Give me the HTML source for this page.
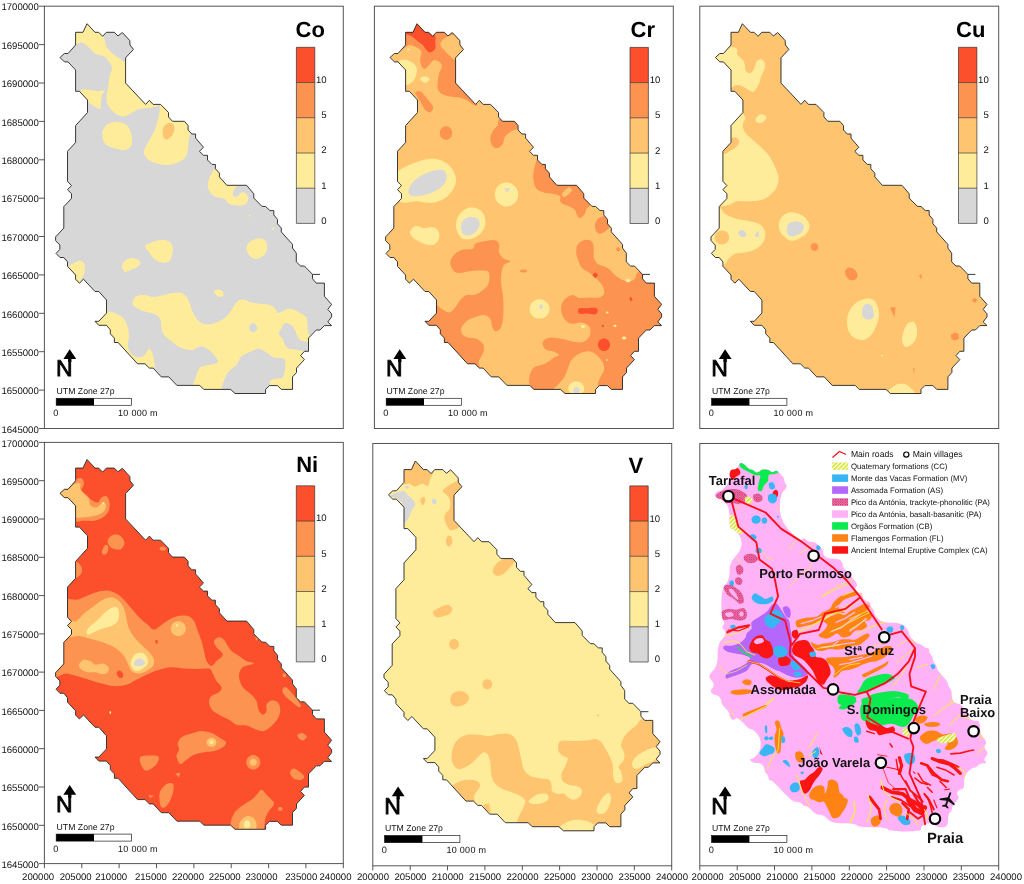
<!DOCTYPE html>
<html lang="en"><head><meta charset="utf-8"><title>Santiago Island geochemical maps</title>
<style>html,body{margin:0;padding:0;background:#fff}svg{display:block;font-family:"Liberation Sans",sans-serif}</style></head>
<body>
<svg width="1024" height="884" viewBox="0 0 1024 884" text-rendering="geometricPrecision">
<defs><clipPath id="isl"><path d="M60,57.5 64.4,53.5 68,53.5 75.6,45 75.6,32.3 83,32.3 87,23.7 95,32.3 98.7,32.3 102.7,36.3 106.3,32.3 114.4,32.3 118,36 122.3,32.5 129.8,40.6 130,45 133.5,49.4 125.6,57.8 125.6,83.1 145.6,104.4 149.4,100.3 153.1,104.4 160.6,104.4 168.5,112.5 168.5,116.9 172.5,121.3 184.4,121.3 188.1,125.6 188.1,130 191.9,134 195.6,134 195.6,138.1 203.5,147.3 199.4,151.3 203.5,155.3 207.5,155.3 207.5,160 211.9,164.4 215.4,164.4 215.4,168.8 219.4,173.1 219.4,176.9 226.9,185.3 246.6,185.3 253.8,193.8 253.8,198.1 261.9,206.3 265.6,206.5 270,210.6 273.8,210.6 273.8,215 277.5,219.4 277.5,223.8 281.3,228.1 281.3,231.9 292.5,244.4 292.5,248.1 296.3,253.1 296.3,261.9 300.6,266 304.4,266 312.5,274.4 312.5,278.8 316.3,283.1 324.4,283.1 324.4,296.3 331.6,304.4 327.8,309.4 331.6,313.8 331.6,316.9 327.8,321.9 331.6,325.6 324.4,325.6 320,330 316.3,330 308.5,338.1 308.5,351.3 304.4,351.3 300.6,355.6 304.4,359.6 296.5,368.1 296.5,372.5 292.5,376.9 292.5,389.4 281.3,389.4 277.5,385.6 269.4,385.6 265.6,389.4 265.6,393.5 235,393.5 230.6,389.4 203.8,389.4 199.8,385.4 176.9,385.4 168.8,376.9 161.3,376.9 153.1,368.1 149.4,368.1 145,363.8 137.5,363.8 118.1,342.5 114.4,342.5 114.4,338.1 110.3,333.8 110.3,329.8 106.5,325.3 98.8,325.3 95,321.3 98.8,321.3 106.5,313.1 106.5,300 98.8,291.5 95,291.5 83.5,279.2 79.4,283.2 75.6,279.2 75.6,275 67.5,266.3 67.5,261.9 63.8,257.5 60,257.5 56,253.4 59.8,249.4 59.8,245 55.6,240.6 55.6,236.9 63.8,228.1 63.8,206.6 71.5,198.5 71.5,193.8 67.5,189.6 71.5,185.6 67.5,181.3 67.5,151.3 75.6,142.5 75.6,125.6 87.5,112.5 87.5,100 79.4,91.3 75.6,91.3 75.6,70 68,61.9 64.4,61.9Z"/></clipPath>
<pattern id="hat" width="3" height="3" patternUnits="userSpaceOnUse" patternTransform="rotate(-45)"><rect width="3" height="3" fill="#fff"/><rect width="3" height="1.7" fill="#d4e62a"/></pattern>
<pattern id="tra" width="2.4" height="2.4" patternUnits="userSpaceOnUse"><rect width="2.4" height="2.4" fill="#f07fb4"/><rect width="1.2" height="1.2" fill="#d11f63"/><rect x="1.2" y="1.2" width="1.2" height="1.2" fill="#d94a84"/></pattern>
</defs>
<rect width="1024" height="884" fill="#fff"/>
<g transform="translate(0,0)"><rect x="44.4" y="6.2" width="298.9" height="422.3" fill="none" stroke="#555" stroke-width="1"/><path d="M44.4,6.2h-5.4M44.4,44.6h-5.4M44.4,83h-5.4M44.4,121.4h-5.4M44.4,159.8h-5.4M44.4,198.2h-5.4M44.4,236.5h-5.4M44.4,274.9h-5.4M44.4,313.3h-5.4M44.4,351.7h-5.4M44.4,390.1h-5.4M44.4,428.5h-5.4" stroke="#555" stroke-width="1" fill="none"/><g transform="translate(0,0)"><g clip-path="url(#isl)"><path d="M60,57.5 64.4,53.5 68,53.5 75.6,45 75.6,32.3 83,32.3 87,23.7 95,32.3 98.7,32.3 102.7,36.3 106.3,32.3 114.4,32.3 118,36 122.3,32.5 129.8,40.6 130,45 133.5,49.4 125.6,57.8 125.6,83.1 145.6,104.4 149.4,100.3 153.1,104.4 160.6,104.4 168.5,112.5 168.5,116.9 172.5,121.3 184.4,121.3 188.1,125.6 188.1,130 191.9,134 195.6,134 195.6,138.1 203.5,147.3 199.4,151.3 203.5,155.3 207.5,155.3 207.5,160 211.9,164.4 215.4,164.4 215.4,168.8 219.4,173.1 219.4,176.9 226.9,185.3 246.6,185.3 253.8,193.8 253.8,198.1 261.9,206.3 265.6,206.5 270,210.6 273.8,210.6 273.8,215 277.5,219.4 277.5,223.8 281.3,228.1 281.3,231.9 292.5,244.4 292.5,248.1 296.3,253.1 296.3,261.9 300.6,266 304.4,266 312.5,274.4 312.5,278.8 316.3,283.1 324.4,283.1 324.4,296.3 331.6,304.4 327.8,309.4 331.6,313.8 331.6,316.9 327.8,321.9 331.6,325.6 324.4,325.6 320,330 316.3,330 308.5,338.1 308.5,351.3 304.4,351.3 300.6,355.6 304.4,359.6 296.5,368.1 296.5,372.5 292.5,376.9 292.5,389.4 281.3,389.4 277.5,385.6 269.4,385.6 265.6,389.4 265.6,393.5 235,393.5 230.6,389.4 203.8,389.4 199.8,385.4 176.9,385.4 168.8,376.9 161.3,376.9 153.1,368.1 149.4,368.1 145,363.8 137.5,363.8 118.1,342.5 114.4,342.5 114.4,338.1 110.3,333.8 110.3,329.8 106.5,325.3 98.8,325.3 95,321.3 98.8,321.3 106.5,313.1 106.5,300 98.8,291.5 95,291.5 83.5,279.2 79.4,283.2 75.6,279.2 75.6,275 67.5,266.3 67.5,261.9 63.8,257.5 60,257.5 56,253.4 59.8,249.4 59.8,245 55.6,240.6 55.6,236.9 63.8,228.1 63.8,206.6 71.5,198.5 71.5,193.8 67.5,189.6 71.5,185.6 67.5,181.3 67.5,151.3 75.6,142.5 75.6,125.6 87.5,112.5 87.5,100 79.4,91.3 75.6,91.3 75.6,70 68,61.9 64.4,61.9Z" fill="#d7d7d7"/><path d="M69,20C79.4,15.9 124,13.3 134,20C144,26.7 130,49.6 129,60C128,70.4 123.2,75.3 127.8,82.5C132.3,89.7 152.1,98.9 156.5,103C160.9,107.1 155.7,106.2 154,107C152.3,107.8 149.2,107.6 146.5,108C143.8,108.4 140.2,108.7 137.8,109.5C135.2,110.3 133.6,111.9 131.5,113C129.4,114.1 127.3,115.8 125.2,116.2C123.2,116.7 121.1,116.3 119,115.5C116.9,114.7 114.6,113 112.8,111.2C110.9,109.5 108.8,107.1 107.8,105C106.7,102.9 106.6,100.8 106.5,98.8C106.4,96.7 106.9,94.8 107.2,92.5C107.6,90.2 108.1,87.7 108.5,85C108.9,82.3 108.9,79 109.5,76.2C110.1,73.5 112,71 112,68.8C112,66.5 110.8,64.6 109.5,62.5C108.2,60.4 106.4,57.7 104,56.2C101.6,54.8 97.8,55.2 95.2,53.8C92.8,52.3 91.3,49.4 89,47.5C86.7,45.6 84.4,43 81.5,42.5C78.6,42 73.6,48.2 71.5,44.5C69.4,40.8 58.6,24.1 69,20Z" fill="#ffec9b"/><path d="M105.2,27.5C101.3,30.4 104.8,39 105.2,42.5C105.7,46 106.5,46.9 107.8,48.8C109,50.6 110.9,52.2 112.8,53.8C114.6,55.3 116.5,56.6 119,58C121.5,59.4 124,63.8 127.8,62C131.5,60.2 141.3,53.7 141.5,47.5C141.7,41.3 135,28.3 129,25C123,21.7 109.2,24.6 105.2,27.5Z" fill="#d7d7d7"/><path d="M81.5,89.5C83,88.9 87.5,89.7 90.2,90C93,90.3 95.4,91.2 97.8,91.2C100.1,91.3 103.8,89.9 104.5,90.5C105.2,91.1 102.6,93.2 102,95C101.4,96.8 101.3,99 101,101.2C100.7,103.5 101.2,107.8 100.2,108.8C99.3,109.7 97.1,108 95.2,107C93.4,106 90.7,103.9 89,102.5C87.3,101.1 86.5,100.2 85.2,98.8C84,97.3 82.1,95.3 81.5,93.8C80.9,92.2 80,90.1 81.5,89.5Z" fill="#ffec9b"/><path d="M102.2,135C102.2,132.1 103.1,128.5 105.2,126.2C107.4,124 111.7,122 115.2,121.8C118.8,121.5 123.8,122.8 126.5,125C129.2,127.2 130.7,131.7 131.5,135C132.3,138.3 132.5,142.5 131.5,145C130.5,147.5 128.2,149.5 125.2,150C122.3,150.5 117.3,149 114,148C110.7,147 107.2,145.9 105.2,143.8C103.3,141.6 102.2,137.9 102.2,135Z" fill="#ffec9b"/><path d="M161,102.5C159.4,103.8 160,109.6 159.5,112.5C159,115.4 158.5,117.3 157.8,120C157,122.7 156.5,125.6 155.2,128.8C154,131.9 151.9,135.6 150.2,138.8C148.6,141.9 146.3,145 145.2,147.5C144.2,150 143.4,151.7 144,153.8C144.6,155.8 146.7,158.3 149,160C151.3,161.7 154.6,162.9 157.8,163.8C160.9,164.6 164.4,165.2 167.8,165C171.1,164.8 174.8,163.8 177.8,162.5C180.7,161.2 183.6,159.6 185.2,157.5C186.9,155.4 187.2,152.7 187.8,150C188.3,147.3 188.1,144 188.5,141.2C188.9,138.5 189.3,136 190.2,133.8C191.2,131.5 195,130.6 194,127.5C193,124.4 188.2,118.8 184,115C179.8,111.2 172.8,107.1 169,105C165.2,102.9 162.6,101.2 161,102.5Z" fill="#ffec9b"/><path d="M162.8,130C163,127.9 164,126.2 165.2,125C166.5,123.8 168.8,122.9 170.2,123C171.7,123.1 173.4,124.1 174,125.5C174.6,126.9 174.4,129.5 174,131.2C173.6,133 172.7,134.9 171.5,136.2C170.3,137.6 168.3,139.3 167,139.5C165.7,139.7 164.2,139.1 163.5,137.5C162.8,135.9 162.5,132.1 162.8,130Z" fill="#fec46f"/><path d="M216.5,167.5C214.6,167.7 211.7,173.3 210.2,176.2C208.8,179.2 207.8,182.3 207.8,185C207.8,187.7 208.8,190.5 210.2,192.5C211.7,194.5 214.2,196 216.5,197C218.8,198 221.9,197.6 224,198.8C226.1,199.9 227.3,202.7 229,203.8C230.7,204.8 231.9,204.7 234,205C236.1,205.3 239.4,205.8 241.5,205.5C243.6,205.2 245.4,204.3 246.5,203C247.6,201.7 248.5,199.2 248.2,197.5C248,195.8 246.4,193.8 245.2,193C244.1,192.2 242.8,192 241.5,192.5C240.2,193 239,195.6 237.8,196.2C236.5,196.9 234.8,196.9 234,196.2C233.2,195.6 232.5,193.9 232.8,192.5C233,191.1 234.4,189.5 235.2,188C236.1,186.5 238.8,184.7 237.8,183.8C236.7,182.8 231.7,184 229,182.5C226.3,181 223.6,177.5 221.5,175C219.4,172.5 218.4,167.3 216.5,167.5Z" fill="#ffec9b"/><path d="M250.8,215.5C250.8,215.7 250.7,215.9 250.6,216.1C250.4,216.2 250.2,216.4 250.1,216.5C249.9,216.5 249.6,216.5 249.4,216.5C249.3,216.4 249.1,216.2 248.9,216.1C248.8,215.9 248.8,215.7 248.8,215.5C248.8,215.3 248.8,215.1 248.9,214.9C249.1,214.8 249.3,214.6 249.4,214.5C249.6,214.5 249.9,214.5 250.1,214.5C250.2,214.6 250.4,214.8 250.6,214.9C250.7,215.1 250.8,215.3 250.8,215.5Z" fill="#ffec9b"/><path d="M274,228.8C274,229 273.9,229.3 273.8,229.5C273.6,229.7 273.4,229.9 273.1,229.9C272.9,230 272.6,230 272.4,229.9C272.1,229.9 271.9,229.7 271.7,229.5C271.6,229.3 271.5,229 271.5,228.8C271.5,228.5 271.6,228.2 271.7,228C271.9,227.8 272.1,227.6 272.4,227.6C272.6,227.5 272.9,227.5 273.1,227.6C273.4,227.6 273.6,227.8 273.8,228C273.9,228.2 274,228.5 274,228.8Z" fill="#ffec9b"/><path d="M69,266.2C69.8,264.8 73.2,263.4 75.2,262.5C77.2,261.6 79.5,260.3 81,260.8C82.5,261.2 83.9,263 84.5,265C85.1,267 85,270.2 84.5,272.5C84,274.8 82.4,276.8 81.5,278.8C80.6,280.7 80.2,284 79,284C77.8,284 75.5,280.9 74,278.8C72.5,276.6 71.1,273.3 70.2,271.2C69.4,269.2 68.2,267.7 69,266.2Z" fill="#ffec9b"/><path d="M145.2,246.2C145.6,244.6 149,243.5 151.5,242.5C154,241.5 157.3,240.2 160.2,240C163.2,239.8 166.9,240 169,241.2C171.1,242.5 172.2,245.2 172.8,247.5C173.2,249.8 172.6,252.7 172,255C171.4,257.3 170.8,260 169,261.2C167.2,262.5 164,262.9 161.5,262.5C159,262.1 156,260.4 154,258.8C152,257.1 151,254.6 149.5,252.5C148,250.4 144.9,247.9 145.2,246.2Z" fill="#ffec9b"/><path d="M122.2,265C122.8,263.5 124.2,261.2 126,260C127.8,258.8 130.7,258 132.8,258C134.8,258 137.2,259 138.5,260C139.8,261 140.6,262.5 140.2,263.8C139.9,265 138.2,266.5 136.5,267.5C134.8,268.5 132.1,269.2 130.2,270C128.4,270.8 126.5,272.2 125.2,272C124,271.8 123.2,269.9 122.8,268.8C122.2,267.6 121.7,266.5 122.2,265Z" fill="#ffec9b"/><path d="M246.5,248.8C246.4,246.6 247.3,244.2 249,242.5C250.7,240.8 254,239.2 256.5,238.8C259,238.2 262.2,238.5 264,239.5C265.8,240.5 266.7,242.8 267,245C267.3,247.2 266.9,250.5 266,252.5C265.1,254.5 263.3,256 261.5,257C259.7,258 257.2,259 255.2,258.8C253.2,258.5 251,257.2 249.5,255.5C248,253.8 246.6,250.9 246.5,248.8Z" fill="#ffec9b"/><path d="M214,291.2C214.2,290.3 216.4,289.5 217.8,289.5C219.1,289.5 221,290.3 222,291.2C223,292.2 223.8,294 223.5,295C223.2,296 221.4,297 220.2,297C219.1,297 217.5,296 216.5,295C215.5,294 213.8,292.2 214,291.2Z" fill="#ffec9b"/><path d="M132.8,301.2C133.2,299.6 134.6,297.3 136.5,296.2C138.4,295.2 141.1,294.9 144,295C146.9,295.1 150.7,297 154,297C157.3,297 160.9,295.7 164,295C167.1,294.3 169.8,293.3 172.8,293C175.7,292.7 179.1,292.2 181.5,293C183.9,293.8 185.5,295.5 187,297.5C188.5,299.5 189.2,302.3 190.2,305C191.3,307.7 192,311 193.5,313.8C195,316.5 196.8,319.5 199,321.2C201.2,323 203.6,324.3 206.5,324.5C209.4,324.7 213.4,323.7 216.5,322.5C219.6,321.3 222.8,319.6 225.2,317.5C227.8,315.4 229.6,312.5 231.5,310C233.4,307.5 234.6,304.2 236.5,302.5C238.4,300.8 240.2,299.5 242.8,299.5C245.2,299.5 248.4,301.8 251.5,302.5C254.6,303.2 258.4,303.3 261.5,303.8C264.6,304.2 268,304.2 270.2,305C272.5,305.8 274,307.4 275.2,308.8C276.5,310.1 276.5,312.6 277.8,313C279,313.4 280.7,312 282.5,311.3C284.3,310.6 286.7,309 288.8,308.8C290.9,308.6 292.9,309.2 295,310C297.1,310.8 299.4,312.6 301.3,313.8C303.2,315.1 305.3,315.6 306.3,317.5C307.3,319.4 307,322.1 307.5,325C308,327.9 307,332.5 309.4,335C311.8,337.5 319.9,335.5 322,340C324.1,344.5 325.3,351.7 322,362C318.7,372.3 314,395 302,402C290,409 267,404.3 250,404C233,403.7 210,402.3 200,400C190,397.7 191.2,392.9 190.2,390C189.2,387.1 193,385 194,382.5C195,380 195.5,377.5 196.5,375C197.5,372.5 198.2,369.2 200.2,367.5C202.3,365.8 206.1,365.8 209,365C211.9,364.2 216.7,364 217.8,362.5C218.8,361 216.7,358.3 215.2,356.2C213.8,354.2 211.3,351.7 209,350C206.7,348.3 204.4,346.2 201.5,346.2C198.6,346.2 195,349.8 191.5,350C188,350.2 183.6,349 180.2,347.5C176.9,346 174.2,343.3 171.5,341.2C168.8,339.2 165.7,337.3 164,335C162.3,332.7 162.1,330.2 161.5,327.5C160.9,324.8 161.5,321 160.2,318.8C159,316.5 156.7,315 154,313.8C151.3,312.5 147.3,312.5 144,311.2C140.7,310 135.9,307.9 134,306.2C132.1,304.6 132.3,302.9 132.8,301.2Z" fill="#ffec9b"/><path d="M222.8,392.5C219.6,389 224,381.2 225.2,377.5C226.5,373.8 228.4,372.1 230.2,370C232.1,367.9 234.6,367.3 236.5,365C238.4,362.7 239,358.5 241.5,356.2C244,354 248.6,352.5 251.5,351.2C254.4,350 256.5,348.5 259,348.8C261.5,349 264,351 266.5,352.5C269,354 271.1,356.5 274,357.5C276.9,358.5 282.1,357.1 284,358.8C285.9,360.4 285.5,364.4 285.2,367.5C285,370.6 284.2,375.6 282.8,377.5C281.3,379.4 278.6,378.1 276.5,378.8C274.4,379.4 271.7,379.2 270.2,381.2C268.8,383.3 272.1,388.3 267.8,391.2C263.4,394.2 251.5,398.5 244,398.8C236.5,399 225.9,396 222.8,392.5Z" fill="#d7d7d7"/><path d="M285,323.1C286.7,322.5 289.6,323.9 291.2,325C292.9,326.1 294,328.1 295,330C296,331.9 296.5,334.5 297.5,336.2C298.5,338 299.6,339.7 301.2,340.6C302.9,341.6 305.7,341.6 307.5,341.9C309.3,342.2 311.1,340.9 311.9,342.5C312.6,344.1 313,350 311.9,351.5C310.7,353 306.8,351.6 305,351.5C303.2,351.4 302.9,351 301.2,350.6C299.6,350.3 297.1,349.7 295,349.4C292.9,349.1 290.4,349.5 288.8,348.8C287.1,348 286,346.7 285,345C284,343.3 283.5,340.6 282.5,338.8C281.5,336.9 279,335.4 278.8,333.8C278.5,332.1 280.2,330.5 281.2,328.8C282.3,327 283.3,323.8 285,323.1Z" fill="#d7d7d7"/><path d="M249,326.9C249.5,325.6 251.8,323.1 253.1,323.1C254.5,323.1 256.7,325.6 257.2,326.9C257.8,328.1 256.9,329.7 256.2,330.6C255.6,331.5 254.2,332.2 253.1,332.2C252.1,332.2 250.7,331.5 250,330.6C249.3,329.7 248.5,328.1 249,326.9Z" fill="#d7d7d7"/><path d="M94,321.2C94.8,318.2 102.8,313.2 106.5,312C110.2,310.8 113.6,312.6 116.5,313.8C119.4,314.9 122.1,316.5 124,318.8C125.9,321 126.9,324.6 127.8,327.5C128.6,330.4 129,333.3 129,336.2C129,339.2 127.5,342.3 127.8,345C128,347.7 128.8,350.5 130.2,352.5C131.7,354.5 134.4,356.4 136.5,357C138.6,357.6 141.1,357 142.8,356.2C144.4,355.5 145.5,353.8 146.5,352.5C147.5,351.2 148.1,348.8 149,348.8C149.9,348.8 151.2,350.6 152,352.5C152.8,354.4 153.8,357.3 154,360C154.2,362.7 156,367.1 153.5,368.8C151,370.4 144.8,372.3 139,370C133.2,367.7 124,360 119,355C114,350 111.9,344.2 109,340C106.1,335.8 104,333.1 101.5,330C99,326.9 93.2,324.2 94,321.2Z" fill="#ffec9b"/></g><path d="M60,57.5 64.4,53.5 68,53.5 75.6,45 75.6,32.3 83,32.3 87,23.7 95,32.3 98.7,32.3 102.7,36.3 106.3,32.3 114.4,32.3 118,36 122.3,32.5 129.8,40.6 130,45 133.5,49.4 125.6,57.8 125.6,83.1 145.6,104.4 149.4,100.3 153.1,104.4 160.6,104.4 168.5,112.5 168.5,116.9 172.5,121.3 184.4,121.3 188.1,125.6 188.1,130 191.9,134 195.6,134 195.6,138.1 203.5,147.3 199.4,151.3 203.5,155.3 207.5,155.3 207.5,160 211.9,164.4 215.4,164.4 215.4,168.8 219.4,173.1 219.4,176.9 226.9,185.3 246.6,185.3 253.8,193.8 253.8,198.1 261.9,206.3 265.6,206.5 270,210.6 273.8,210.6 273.8,215 277.5,219.4 277.5,223.8 281.3,228.1 281.3,231.9 292.5,244.4 292.5,248.1 296.3,253.1 296.3,261.9 300.6,266 304.4,266 312.5,274.4 312.5,278.8 316.3,283.1 324.4,283.1 324.4,296.3 331.6,304.4 327.8,309.4 331.6,313.8 331.6,316.9 327.8,321.9 331.6,325.6 324.4,325.6 320,330 316.3,330 308.5,338.1 308.5,351.3 304.4,351.3 300.6,355.6 304.4,359.6 296.5,368.1 296.5,372.5 292.5,376.9 292.5,389.4 281.3,389.4 277.5,385.6 269.4,385.6 265.6,389.4 265.6,393.5 235,393.5 230.6,389.4 203.8,389.4 199.8,385.4 176.9,385.4 168.8,376.9 161.3,376.9 153.1,368.1 149.4,368.1 145,363.8 137.5,363.8 118.1,342.5 114.4,342.5 114.4,338.1 110.3,333.8 110.3,329.8 106.5,325.3 98.8,325.3 95,321.3 98.8,321.3 106.5,313.1 106.5,300 98.8,291.5 95,291.5 83.5,279.2 79.4,283.2 75.6,279.2 75.6,275 67.5,266.3 67.5,261.9 63.8,257.5 60,257.5 56,253.4 59.8,249.4 59.8,245 55.6,240.6 55.6,236.9 63.8,228.1 63.8,206.6 71.5,198.5 71.5,193.8 67.5,189.6 71.5,185.6 67.5,181.3 67.5,151.3 75.6,142.5 75.6,125.6 87.5,112.5 87.5,100 79.4,91.3 75.6,91.3 75.6,70 68,61.9 64.4,61.9ZM312.5,274.4H320" fill="none" stroke="#222" stroke-width="0.9" stroke-linejoin="miter"/><text x="55.9" y="376.3" font-size="23" fill="#000" stroke="#000" stroke-width="0.8">N</text><path d="M68.1,362V359H63.4L69.7,349.3L76.2,359H71.4V362Z" fill="#000"/><text x="56.6" y="394" font-size="8.7" fill="#111">UTM Zone 27p</text><rect x="56.2" y="398.3" width="75.3" height="7" fill="#fff" stroke="#222" stroke-width="0.7"/><rect x="56.2" y="398.3" width="37.8" height="7" fill="#000"/><text x="53.3" y="416" font-size="9.2" fill="#111">0</text><text x="118" y="416" font-size="9" fill="#111" textLength="39.6" lengthAdjust="spacing">10 000 m</text></g><rect x="296.4" y="47.3" width="18.4" height="35.2" fill="#fc4f2c"/><rect x="296.4" y="82.5" width="18.4" height="35.2" fill="#fd9350"/><rect x="296.4" y="117.7" width="18.4" height="35.2" fill="#fec46f"/><rect x="296.4" y="153" width="18.4" height="35.2" fill="#ffec9b"/><rect x="296.4" y="188.2" width="18.4" height="35.2" fill="#d7d7d7"/><path d="M296.4,47.3h18.4v176.1h-18.4zM296.4,82.5h18.4M296.4,117.7h18.4M296.4,153h18.4M296.4,188.2h18.4" fill="none" stroke="#2a2a2a" stroke-width="0.65"/><g font-size="9.6" text-anchor="end" fill="#111"><text x="326.7" y="83">10</text><text x="326.7" y="118.2">5</text><text x="326.7" y="153.4">2</text><text x="326.7" y="188.6">1</text><text x="326.7" y="223.8">0</text></g><text x="295.6" y="36.5" font-size="22" font-weight="bold" fill="#000">Co</text><g font-size="9.6" text-anchor="end" fill="#111"><text x="38.8" y="10.4">1700000</text><text x="38.8" y="48.8">1695000</text><text x="38.8" y="87.2">1690000</text><text x="38.8" y="125.6">1685000</text><text x="38.8" y="164">1680000</text><text x="38.8" y="202.4">1675000</text><text x="38.8" y="240.8">1670000</text><text x="38.8" y="279.2">1665000</text><text x="38.8" y="317.6">1660000</text><text x="38.8" y="356">1655000</text><text x="38.8" y="394.4">1650000</text><text x="38.8" y="432.8">1645000</text></g></g>
<g transform="translate(330,0)"><rect x="44.4" y="6.2" width="298.9" height="422.3" fill="none" stroke="#555" stroke-width="1"/><g transform="translate(0,0)"><g clip-path="url(#isl)"><path d="M60,57.5 64.4,53.5 68,53.5 75.6,45 75.6,32.3 83,32.3 87,23.7 95,32.3 98.7,32.3 102.7,36.3 106.3,32.3 114.4,32.3 118,36 122.3,32.5 129.8,40.6 130,45 133.5,49.4 125.6,57.8 125.6,83.1 145.6,104.4 149.4,100.3 153.1,104.4 160.6,104.4 168.5,112.5 168.5,116.9 172.5,121.3 184.4,121.3 188.1,125.6 188.1,130 191.9,134 195.6,134 195.6,138.1 203.5,147.3 199.4,151.3 203.5,155.3 207.5,155.3 207.5,160 211.9,164.4 215.4,164.4 215.4,168.8 219.4,173.1 219.4,176.9 226.9,185.3 246.6,185.3 253.8,193.8 253.8,198.1 261.9,206.3 265.6,206.5 270,210.6 273.8,210.6 273.8,215 277.5,219.4 277.5,223.8 281.3,228.1 281.3,231.9 292.5,244.4 292.5,248.1 296.3,253.1 296.3,261.9 300.6,266 304.4,266 312.5,274.4 312.5,278.8 316.3,283.1 324.4,283.1 324.4,296.3 331.6,304.4 327.8,309.4 331.6,313.8 331.6,316.9 327.8,321.9 331.6,325.6 324.4,325.6 320,330 316.3,330 308.5,338.1 308.5,351.3 304.4,351.3 300.6,355.6 304.4,359.6 296.5,368.1 296.5,372.5 292.5,376.9 292.5,389.4 281.3,389.4 277.5,385.6 269.4,385.6 265.6,389.4 265.6,393.5 235,393.5 230.6,389.4 203.8,389.4 199.8,385.4 176.9,385.4 168.8,376.9 161.3,376.9 153.1,368.1 149.4,368.1 145,363.8 137.5,363.8 118.1,342.5 114.4,342.5 114.4,338.1 110.3,333.8 110.3,329.8 106.5,325.3 98.8,325.3 95,321.3 98.8,321.3 106.5,313.1 106.5,300 98.8,291.5 95,291.5 83.5,279.2 79.4,283.2 75.6,279.2 75.6,275 67.5,266.3 67.5,261.9 63.8,257.5 60,257.5 56,253.4 59.8,249.4 59.8,245 55.6,240.6 55.6,236.9 63.8,228.1 63.8,206.6 71.5,198.5 71.5,193.8 67.5,189.6 71.5,185.6 67.5,181.3 67.5,151.3 75.6,142.5 75.6,125.6 87.5,112.5 87.5,100 79.4,91.3 75.6,91.3 75.6,70 68,61.9 64.4,61.9Z" fill="#fec46f"/><path d="M69,25C75.2,20.8 98.6,22.5 109,22.5C119.4,22.5 127.8,19.2 131.5,25C135.2,30.8 132.1,47.9 131.5,57.5C130.9,67.1 125.2,74.9 127.8,82.5C130.2,90.1 143.8,99.2 146.5,103C149.2,106.8 145.7,105.5 144,105C142.3,104.5 139,101.2 136.5,100C134,98.8 131.9,98.1 129,97.5C126.1,96.9 121.9,96.9 119,96.2C116.1,95.6 113.4,95 111.5,93.8C109.6,92.5 108.4,90.8 107.8,88.8C107.1,86.7 107.5,84 107.8,81.2C108,78.5 108.8,75 109.5,72.5C110.2,70 112,68 112,66.2C112,64.5 110.8,63 109.5,62C108.2,61 105.5,59.7 104,60C102.5,60.3 101.7,62.3 100.2,63.8C98.8,65.2 96.7,68.3 95.2,68.8C93.8,69.2 92.3,67.9 91.5,66.2C90.7,64.6 90.2,61 90.2,58.8C90.2,56.5 91.7,54.2 91.5,52.5C91.3,50.8 90.2,49.8 89,48.8C87.8,47.7 85.7,46.9 84,46.2C82.3,45.6 81.1,44.8 79,45C76.9,45.2 73.2,50.8 71.5,47.5C69.8,44.2 62.8,29.2 69,25Z" fill="#fd9350"/><path d="M74,32C75,29.7 82.8,22.2 87.8,22.5C92.8,22.8 101.1,30.4 104,33.8C106.9,37.1 105,40 105.2,42.5C105.5,45 106.1,47.1 105.2,48.8C104.4,50.4 101.7,52.3 100.2,52.5C98.8,52.7 97.8,51.2 96.5,50C95.2,48.8 94.2,46.5 92.8,45C91.3,43.5 89.6,42.7 87.8,41.2C85.9,39.8 83.8,37.8 81.5,36.2C79.2,34.7 73,34.3 74,32Z" fill="#fc4f2c"/><path d="M110.2,45C110,42.9 112.1,40.4 114,38.8C115.9,37.1 118.8,35.6 121.5,35C124.2,34.4 128,32.9 130.2,35C132.5,37.1 135.9,43.4 135.2,47.5C134.6,51.6 129,58 126.5,59.5C124,61 122.1,57.6 120.2,56.2C118.4,54.9 116.9,53.1 115.2,51.2C113.6,49.4 110.5,47.1 110.2,45Z" fill="#fec46f"/><path d="M69,61.2C69.5,59.6 74,59.6 76.5,60C79,60.4 82.2,62.1 84,63.8C85.8,65.4 86.8,67.7 87,70C87.2,72.3 86.2,75.4 85.2,77.5C84.3,79.6 83.2,81.2 81.5,82.5C79.8,83.8 76.6,85.4 75.2,85C73.9,84.6 73.8,82.5 73.5,80C73.2,77.5 74.2,73.1 73.5,70C72.8,66.9 68.5,62.9 69,61.2Z" fill="#ffec9b"/><path d="M90.2,78C90.8,77.2 93.7,76.1 95.2,76.2C96.8,76.4 99.3,77.7 99.5,78.8C99.7,79.8 97.8,82.1 96.5,82.5C95.2,82.9 93,82 92,81.2C91,80.5 89.7,78.8 90.2,78Z" fill="#ffec9b"/><path d="M80,49.5C80,49.7 79.9,49.9 79.7,50.1C79.5,50.2 79.2,50.4 79,50.5C78.7,50.5 78.3,50.5 78,50.5C77.8,50.4 77.5,50.2 77.3,50.1C77.1,49.9 77,49.7 77,49.5C77,49.3 77.1,49.1 77.3,48.9C77.5,48.8 77.8,48.6 78,48.5C78.3,48.5 78.7,48.5 79,48.5C79.2,48.6 79.5,48.8 79.7,48.9C79.9,49.1 80,49.3 80,49.5Z" fill="#ffec9b"/><path d="M85.2,92.5C85.7,91.5 88.6,90.6 90.2,91.2C91.9,91.9 93.6,94.4 95.2,96.2C96.9,98.1 98.9,100.6 100.2,102.5C101.6,104.4 103.2,105.8 103.2,107.5C103.2,109.2 101.6,112.1 100.2,112.5C98.9,112.9 96.7,111.5 95.2,110C93.8,108.5 92.8,105.8 91.5,103.8C90.2,101.7 88.8,99.4 87.8,97.5C86.7,95.6 84.8,93.5 85.2,92.5Z" fill="#fd9350"/><path d="M122.2,133C122.2,134.3 121.8,135.9 121.1,137C120.3,138 119.1,139 117.9,139.4C116.8,139.8 115.2,139.8 114.1,139.4C112.9,139 111.7,138 110.9,137C110.2,135.9 109.8,134.3 109.8,133C109.8,131.7 110.2,130.1 110.9,129C111.7,128 112.9,127 114.1,126.6C115.2,126.2 116.8,126.2 117.9,126.6C119.1,127 120.3,128 121.1,129C121.8,130.1 122.2,131.7 122.2,133Z" fill="#fd9350"/><path d="M170.2,118.8C173.6,117.9 184.6,118.5 187.8,120C190.9,121.5 190,125.6 189,127.5C188,129.4 183.8,129.8 181.5,131.2C179.2,132.7 176.7,134.2 175.2,136.2C173.8,138.3 174,141.8 172.8,143.8C171.5,145.7 169.4,147.6 167.8,148C166.1,148.4 164,147.8 162.8,146.2C161.5,144.7 160.2,141.2 160.2,138.8C160.2,136.2 161.5,133.5 162.8,131.2C164,129 166.5,127.1 167.8,125C169,122.9 166.9,119.6 170.2,118.8Z" fill="#fd9350"/><path d="M209,157.5C206.5,157.5 204.9,166.2 204,170C203.1,173.8 203.1,176.9 203.5,180C203.9,183.1 204.8,186.7 206.5,188.8C208.2,190.8 211.3,191.7 214,192.5C216.7,193.3 220,193.1 222.8,193.8C225.5,194.4 229,195.1 230.2,196.2C231.5,197.4 229.6,199.3 230,200.6C230.4,201.9 231,202.9 232.5,203.8C234,204.8 236.7,205.3 238.8,206.3C240.9,207.3 243.7,208.6 245,210C246.3,211.4 246.1,213.7 246.9,215C247.7,216.3 248.8,218.2 250,218.1C251.2,218 253.3,215.8 254.4,214.4C255.5,213 255.4,211 256.3,209.4C257.2,207.8 259.1,207.2 260,205C260.9,202.8 263.7,199.8 262,196C260.3,192.2 255.7,184.3 250,182C244.3,179.7 233.2,184 228,182C222.8,180 222.2,174.1 219,170C215.8,165.9 211.5,157.5 209,157.5Z" fill="#fd9350"/><path d="M231.9,193.8C232.5,192.2 237.1,188 238.8,187.5C240.5,187 242.5,189 241.9,190.6C241.3,192.2 236.7,196.4 235,196.9C233.3,197.4 231.3,195.4 231.9,193.8Z" fill="#fec46f"/><path d="M265,226.3C265.1,224.4 265.6,221.6 266.9,220C268.1,218.4 270.7,217.3 272.5,216.9C274.3,216.5 276.2,215.9 277.5,217.5C278.8,219.1 280.4,224 280,226.3C279.6,228.6 276.7,230.1 275,231.3C273.3,232.6 271.4,233.8 270,233.8C268.6,233.8 267.1,232.6 266.3,231.3C265.5,230.1 264.9,228.2 265,226.3Z" fill="#fd9350"/><path d="M65.2,175C67.1,170 72.5,168.5 76.5,166.2C80.5,164 84.4,162.5 89,161.2C93.6,160 99.6,158.5 104,158.8C108.4,159 112.1,160.6 115.2,162.5C118.4,164.4 121,167.1 122.8,170C124.5,172.9 126,176.7 126,180C126,183.3 124.8,186.9 122.8,190C120.8,193.1 117.5,196.6 114,198.8C110.5,200.9 106.1,202.6 101.5,203C96.9,203.4 91.1,201.3 86.5,201.2C81.9,201.2 77.5,203.3 74,202.5C70.5,201.7 66.7,200.8 65.2,196.2C63.8,191.7 63.4,180 65.2,175Z" fill="#ffec9b"/><path d="M78.5,191.2C78.7,189.4 79.5,186.2 81.5,183.8C83.5,181.2 86.9,178.3 90.2,176.2C93.6,174.2 97.8,172.3 101.5,171.2C105.2,170.2 110.2,169.4 112.8,170C115.2,170.6 116.1,172.9 116.5,175C116.9,177.1 116.5,180.2 115.2,182.5C114,184.8 111.7,186.9 109,188.8C106.3,190.6 102.5,192.5 99,193.8C95.5,195 90.9,196 87.8,196.2C84.6,196.5 81.8,195.8 80.2,195C78.7,194.2 78.3,193.1 78.5,191.2Z" fill="#d7d7d7"/><path d="M188.2,194.5C188.2,196.9 187.4,199.7 186,201.6C184.7,203.5 182.3,205.2 180.1,205.9C177.9,206.6 175.1,206.6 172.9,205.9C170.7,205.2 168.3,203.5 167,201.6C165.6,199.7 164.8,196.9 164.8,194.5C164.8,192.1 165.6,189.3 167,187.4C168.3,185.5 170.7,183.8 172.9,183.1C175.1,182.4 177.9,182.4 180.1,183.1C182.3,183.8 184.7,185.5 186,187.4C187.4,189.3 188.2,192.1 188.2,194.5Z" fill="#ffec9b"/><path d="M174,188.5 180.2,188 177.2,193Z" fill="#d7d7d7"/><path d="M126,225C126.2,222.1 127,217.8 129,215C131,212.2 134.6,209 137.8,208C140.9,207 145,207.6 147.8,208.8C150.5,209.9 152.8,212.3 154,215C155.2,217.7 155.9,221.9 155.2,225C154.6,228.1 152.5,231.5 150.2,233.8C148,236 144.4,237.9 141.5,238.8C138.6,239.6 135,239.8 132.8,238.8C130.5,237.7 128.9,234.8 127.8,232.5C126.6,230.2 125.8,227.9 126,225Z" fill="#ffec9b"/><path d="M131,226.2C131.1,224 132,221.5 133.5,220C135,218.5 137.9,217.2 140.2,217C142.6,216.8 146.2,217.4 147.8,218.8C149.3,220.1 149.7,222.9 149.5,225C149.3,227.1 148.2,229.5 146.5,231.2C144.8,233 141.3,235.1 139,235.5C136.7,235.9 134.1,235.3 132.8,233.8C131.4,232.2 130.9,228.5 131,226.2Z" fill="#d7d7d7"/><path d="M80.2,231.2C80.9,229.6 83,226.8 85.2,226.2C87.5,225.7 90.9,227.8 94,228C97.1,228.2 101.5,226.8 104,227.5C106.5,228.2 108.2,230.4 109,232.5C109.8,234.6 109.5,237.9 108.5,240C107.5,242.1 105.2,244.4 102.8,245C100.3,245.6 96.7,244.6 94,243.8C91.3,242.9 88.6,241.2 86.5,240C84.4,238.8 82.5,237.7 81.5,236.2C80.5,234.8 79.6,232.9 80.2,231.2Z" fill="#ffec9b"/><path d="M120.2,262.5C120.2,259.8 122.1,257.1 124,255C125.9,252.9 128.4,251 131.5,250C134.6,249 140.5,249.8 142.8,248.8C145,247.7 143.4,245 145.2,243.8C147.1,242.5 150.9,241.9 154,241.2C157.1,240.6 161.5,239.6 164,240C166.5,240.4 168.2,241.7 169,243.8C169.8,245.8 168.2,250 169,252.5C169.8,255 172.1,257.3 174,258.8C175.9,260.2 180.2,260.2 180.2,261.2C180.2,262.3 175.5,263.1 174,265C172.5,266.9 172,269.6 171.5,272.5C171,275.4 170.8,278.8 171,282.5C171.2,286.2 172.3,290.8 172.8,295C173.2,299.2 173.5,303.3 173.5,307.5C173.5,311.7 173.3,316.5 172.8,320C172.2,323.5 171.5,326.9 170.2,328.8C169,330.6 166.6,331.7 165.2,331.2C163.9,330.8 162.8,328.3 162,326.2C161.2,324.2 161.6,320.6 160.2,318.8C158.9,316.9 156.7,315.2 154,315C151.3,314.8 146.9,316.5 144,317.5C141.1,318.5 138.6,319.6 136.5,321.2C134.4,322.9 132.2,325.4 131.5,327.5C130.8,329.6 131,332.1 132,333.8C133,335.4 135.3,336.7 137.8,337.5C140.2,338.3 144,337.7 146.5,338.8C149,339.8 151.5,341.9 152.8,343.8C154,345.6 154.2,347.9 154,350C153.8,352.1 152.4,354.2 151.5,356.2C150.6,358.3 148.7,360 148.5,362.5C148.3,365 152.2,370 150.2,371.2C148.2,372.5 142.5,373.8 136.5,370C130.5,366.2 119,355 114,348.8C109,342.5 110.2,336.9 106.5,332.5C102.8,328.1 92,326 91.5,322.5C91,319 101.4,314.5 103.5,311.2C105.6,308 102.7,303.4 104,303C105.3,302.6 109,307.2 111.5,308.8C114,310.3 116.7,312.7 119,312.5C121.3,312.3 123.4,309.6 125.2,307.5C127.1,305.4 128.4,302.1 130.2,300C132.1,297.9 134.2,295.8 136.5,295C138.8,294.2 141.5,295.6 144,295C146.5,294.4 149.2,292.9 151.5,291.2C153.8,289.6 156.4,287.3 157.8,285C159.1,282.7 159.5,279.8 159.5,277.5C159.5,275.2 159.5,272.4 157.8,271.2C156,270.1 152.1,270.5 149,270.5C145.9,270.5 142.1,270.8 139,271.2C135.9,271.7 132.8,273 130.2,273C127.8,273 125.7,273 124,271.2C122.3,269.5 120.2,265.2 120.2,262.5Z" fill="#fd9350"/><path d="M246.3,253.8C246.2,251.7 246.1,248.4 246.9,246.3C247.7,244.2 249.5,242.4 251.3,241.3C253.1,240.2 255.6,239.6 257.5,239.8C259.4,240 261.4,240.8 262.5,242.5C263.6,244.2 263.6,247.5 263.8,250C264,252.5 263.2,255.2 263.8,257.5C264.4,259.8 265.8,262.3 267.5,263.8C269.2,265.3 271.9,265.5 273.8,266.3C275.7,267.1 276.9,267.4 278.8,268.8C280.7,270.2 282.7,273.1 285,275C287.3,276.9 290,278.9 292.5,280C295,281.1 297.9,281.5 300,281.3C302.1,281.1 303.3,280.5 305,278.8C306.7,277.1 305,272.5 310,271C315,269.5 329.2,265.2 335,270C340.8,274.8 344.2,290 345,300C345.8,310 344.5,322.5 340,330C335.5,337.5 322.7,339.2 318,345C313.3,350.8 315,356.2 312,365C309,373.8 307,391.8 300,398C293,404.2 282.5,401.3 270,402C257.5,402.7 236.7,403 225,402C213.3,401 203.9,398.2 200,396C196.1,393.8 201.7,391.1 201.5,388.8C201.3,386.6 199.2,385 199,382.5C198.8,380 199.5,376.3 200.3,373.8C201.1,371.3 202.1,369 204,367.5C205.9,366 209,366 211.5,365C214,364 216.9,362.6 219,361.3C221.1,360.1 222.3,358.6 224,357.5C225.7,356.4 229.2,356 229,355C228.8,354 224.9,352.1 222.8,351.3C220.7,350.5 218.2,351.1 216.5,350C214.8,348.9 213.2,346.7 212.8,345C212.4,343.3 212.6,341.2 214,340C215.4,338.8 218.6,337.7 221.5,337.5C224.4,337.3 228.2,338.2 231.5,338.8C234.8,339.4 238.4,340.7 241.5,341.3C244.6,341.9 247.8,342.7 250.3,342.5C252.8,342.3 254.8,341.4 256.5,340C258.2,338.6 259.9,336.1 260.3,333.8C260.7,331.5 260.5,328.2 259,326.3C257.5,324.4 254.4,322.9 251.5,322.5C248.6,322.1 244.2,324.2 241.5,323.8C238.8,323.4 237,321.9 235.3,320C233.6,318.1 232.1,315 231.5,312.5C230.9,310 230.9,307.3 231.5,305C232.1,302.7 233.4,300.5 235.3,298.8C237.2,297.1 240.5,295.1 242.8,295C245.1,294.9 246.3,297.6 249,298C251.7,298.4 255.7,297.6 259,297.5C262.3,297.4 266.5,298.1 269,297.5C271.5,296.9 273.4,295.7 274,293.8C274.6,291.9 274.1,288.8 272.8,286.3C271.6,283.8 268.8,281.1 266.5,278.8C264.2,276.5 261.5,274.4 259,272.5C256.5,270.6 253.4,269.8 251.5,267.5C249.6,265.2 248.7,261.1 247.8,258.8C246.9,256.5 246.5,255.9 246.3,253.8Z" fill="#fd9350"/><path d="M223,392C220.1,389.5 226,387.4 227.8,385C229.6,382.6 232.3,380.2 234,377.5C235.7,374.8 236.6,371.7 237.8,368.8C239.1,365.9 239.6,362.5 241.5,360C243.4,357.5 246.1,355.2 249,353.8C251.9,352.4 256.1,351.1 259,351.3C261.9,351.5 264.2,353.1 266.5,355C268.8,356.9 271.6,360 272.8,362.5C274.1,365 274.4,367.5 274,370C273.6,372.5 271.3,375.2 270.3,377.5C269.3,379.8 268.3,381.4 267.8,383.8C267.3,386.2 271.3,389.3 267.5,392C263.7,394.7 252.4,400 245,400C237.6,400 225.9,394.5 223,392Z" fill="#fec46f"/><path d="M265.2,225C265.6,222.9 267.3,219.3 269,218C270.7,216.7 273.8,216 275.2,217C276.7,218 277.5,221.6 277.8,223.8C278,225.9 277.5,228.5 276.5,230C275.5,231.5 273.1,232.9 271.5,233C269.9,233.1 268,231.8 267,230.5C266,229.2 264.9,227.1 265.2,225Z" fill="#fd9350"/><path d="M197,271C197,271.3 196.7,271.6 196.3,271.9C195.9,272.1 195.2,272.3 194.6,272.4C193.9,272.5 193.1,272.5 192.4,272.4C191.8,272.3 191.1,272.1 190.7,271.9C190.3,271.6 190,271.3 190,271C190,270.7 190.3,270.4 190.7,270.1C191.1,269.9 191.8,269.7 192.4,269.6C193.1,269.5 193.9,269.5 194.6,269.6C195.2,269.7 195.9,269.9 196.3,270.1C196.7,270.4 197,270.7 197,271Z" fill="#fd9350"/><path d="M290.2,249.5C290.2,249.8 290.1,250.3 289.9,250.5C289.6,250.8 289.2,251.1 288.9,251.2C288.5,251.3 288,251.3 287.6,251.2C287.3,251.1 286.9,250.8 286.6,250.5C286.4,250.3 286.2,249.8 286.2,249.5C286.2,249.2 286.4,248.7 286.6,248.5C286.9,248.2 287.3,247.9 287.6,247.8C288,247.7 288.5,247.7 288.9,247.8C289.2,247.9 289.6,248.2 289.9,248.5C290.1,248.7 290.2,249.2 290.2,249.5Z" fill="#fd9350"/><path d="M219.5,309C219.5,310.9 218.7,313.2 217.6,314.7C216.4,316.3 214.5,317.7 212.6,318.3C210.7,318.9 208.3,318.9 206.4,318.3C204.5,317.7 202.6,316.3 201.4,314.7C200.3,313.2 199.5,310.9 199.5,309C199.5,307.1 200.3,304.8 201.4,303.3C202.6,301.7 204.5,300.3 206.4,299.7C208.3,299.1 210.7,299.1 212.6,299.7C214.5,300.3 216.4,301.7 217.6,303.3C218.7,304.8 219.5,307.1 219.5,309Z" fill="#ffec9b"/><path d="M212.8,306.8C212.8,307.2 212.6,307.8 212.4,308.2C212.2,308.6 211.9,309 211.5,309.1C211.2,309.3 210.8,309.3 210.5,309.1C210.1,309 209.8,308.6 209.6,308.2C209.4,307.8 209.2,307.2 209.2,306.8C209.2,306.3 209.4,305.7 209.6,305.3C209.8,304.9 210.1,304.5 210.5,304.4C210.8,304.2 211.2,304.2 211.5,304.4C211.9,304.5 212.2,304.9 212.4,305.3C212.6,305.7 212.8,306.3 212.8,306.8Z" fill="#d7d7d7"/><path d="M248.1,310.6C248.3,309.8 248.6,308.5 250,308.1C251.4,307.7 254.2,308.4 256.3,308.3C258.4,308.2 260.7,307.8 262.5,307.8C264.3,307.8 266.1,307.8 266.9,308.5C267.7,309.2 267.8,310.9 267.5,311.9C267.2,312.9 266.7,314.1 265,314.4C263.3,314.7 259.8,313.7 257.5,313.6C255.2,313.5 252.8,314.1 251.3,314C249.8,313.9 249,313.4 248.5,312.8C248,312.2 247.8,311.4 248.1,310.6Z" fill="#fc4f2c"/><path d="M280,344.8C280,346 279.5,347.5 278.9,348.5C278.2,349.5 277,350.4 275.9,350.8C274.7,351.2 273.3,351.2 272.1,350.8C271,350.4 269.8,349.5 269.1,348.5C268.5,347.5 268,346 268,344.8C268,343.6 268.5,342.1 269.1,341.1C269.8,340.1 271,339.2 272.1,338.8C273.3,338.4 274.7,338.4 275.9,338.8C277,339.2 278.2,340.1 278.9,341.1C279.5,342.1 280,343.6 280,344.8Z" fill="#fc4f2c"/><path d="M299.4,298.8 300.6,296.3 302.8,300 300.6,301.5Z" fill="#fc4f2c"/><path d="M265.3,272.3 268.3,275.3 265.3,278.3 262.3,275.3Z" fill="#fc4f2c"/><path d="M274,325.9C274,326.1 273.9,326.4 273.8,326.6C273.6,326.8 273.4,327 273.2,327C272.9,327.1 272.7,327.1 272.4,327C272.2,327 272,326.8 271.8,326.6C271.7,326.4 271.6,326.1 271.6,325.9C271.6,325.7 271.7,325.4 271.8,325.2C272,325 272.2,324.8 272.4,324.8C272.7,324.7 272.9,324.7 273.2,324.8C273.4,324.8 273.6,325 273.8,325.2C273.9,325.4 274,325.7 274,325.9Z" fill="#fc4f2c"/><path d="M288.1,247.1 290.1,249.1 288.1,251.1 286.1,249.1Z" fill="#fd9350"/><path d="M278.6,312.5C278.6,312.7 278.5,312.9 278.4,313C278.2,313.2 277.9,313.3 277.7,313.4C277.5,313.4 277.1,313.4 276.9,313.4C276.7,313.3 276.4,313.2 276.2,313C276.1,312.9 276,312.7 276,312.5C276,312.3 276.1,312.1 276.2,312C276.4,311.8 276.7,311.7 276.9,311.6C277.1,311.6 277.5,311.6 277.7,311.6C277.9,311.7 278.2,311.8 278.4,312C278.5,312.1 278.6,312.3 278.6,312.5Z" fill="#ffec9b"/><path d="M286.6,325.9C286.6,326.1 286.5,326.4 286.3,326.6C286.1,326.7 285.8,326.9 285.5,327C285.2,327 284.8,327 284.5,327C284.2,326.9 283.9,326.7 283.7,326.6C283.5,326.4 283.4,326.1 283.4,325.9C283.4,325.7 283.5,325.4 283.7,325.2C283.9,325.1 284.2,324.9 284.5,324.8C284.8,324.8 285.2,324.8 285.5,324.8C285.8,324.9 286.1,325.1 286.3,325.2C286.5,325.4 286.6,325.7 286.6,325.9Z" fill="#ffec9b"/><path d="M296.3,338.1C296.3,338.4 296.1,338.8 295.9,339C295.6,339.2 295.2,339.5 294.8,339.6C294.4,339.7 293.8,339.7 293.4,339.6C293,339.5 292.6,339.2 292.3,339C292.1,338.8 291.9,338.4 291.9,338.1C291.9,337.8 292.1,337.4 292.3,337.2C292.6,337 293,336.7 293.4,336.6C293.8,336.5 294.4,336.5 294.8,336.6C295.2,336.7 295.6,337 295.9,337.2C296.1,337.4 296.3,337.8 296.3,338.1Z" fill="#ffec9b"/><path d="M255.3,326.5C255.3,326.8 255.1,327.2 254.9,327.4C254.6,327.6 254.2,327.9 253.8,328C253.4,328.1 252.8,328.1 252.4,328C252,327.9 251.6,327.6 251.3,327.4C251.1,327.2 250.9,326.8 250.9,326.5C250.9,326.2 251.1,325.8 251.3,325.6C251.6,325.4 252,325.1 252.4,325C252.8,324.9 253.4,324.9 253.8,325C254.2,325.1 254.6,325.4 254.9,325.6C255.1,325.8 255.3,326.2 255.3,326.5Z" fill="#ffec9b"/><path d="M277.9,360C277.9,360.1 277.8,360.3 277.7,360.4C277.6,360.5 277.4,360.6 277.2,360.7C277,360.7 276.8,360.7 276.6,360.7C276.4,360.6 276.2,360.5 276.1,360.4C276,360.3 275.9,360.1 275.9,360C275.9,359.9 276,359.7 276.1,359.6C276.2,359.5 276.4,359.4 276.6,359.3C276.8,359.3 277,359.3 277.2,359.3C277.4,359.4 277.6,359.5 277.7,359.6C277.8,359.7 277.9,359.9 277.9,360Z" fill="#ffec9b"/><path d="M300.5,280.6C300.5,280.9 300.3,281.4 300,281.6C299.7,281.9 299.2,282.2 298.8,282.3C298.3,282.4 297.7,282.4 297.2,282.3C296.8,282.2 296.3,281.9 296,281.6C295.7,281.4 295.5,280.9 295.5,280.6C295.5,280.3 295.7,279.8 296,279.6C296.3,279.3 296.8,279 297.2,278.9C297.7,278.8 298.3,278.8 298.8,278.9C299.2,279 299.7,279.3 300,279.6C300.3,279.8 300.5,280.3 300.5,280.6Z" fill="#ffec9b"/><path d="M254.3,388.5C254.3,389.9 253.7,391.5 252.8,392.6C251.9,393.7 250.3,394.7 248.8,395.2C247.3,395.6 245.3,395.6 243.8,395.2C242.3,394.7 240.7,393.7 239.8,392.6C238.9,391.5 238.3,389.9 238.3,388.5C238.3,387.1 238.9,385.5 239.8,384.4C240.7,383.3 242.3,382.3 243.8,381.8C245.3,381.4 247.3,381.4 248.8,381.8C250.3,382.3 251.9,383.3 252.8,384.4C253.7,385.5 254.3,387.1 254.3,388.5Z" fill="#ffec9b"/><path d="M249.8,390.5C249.8,391.2 249.6,392 249.2,392.6C248.8,393.1 248.2,393.6 247.6,393.8C247,394 246.2,394 245.6,393.8C245,393.6 244.4,393.1 244,392.6C243.6,392 243.4,391.2 243.4,390.5C243.4,389.8 243.6,389 244,388.4C244.4,387.9 245,387.4 245.6,387.2C246.2,387 247,387 247.6,387.2C248.2,387.4 248.8,387.9 249.2,388.4C249.6,389 249.8,389.8 249.8,390.5Z" fill="#d7d7d7"/></g><path d="M60,57.5 64.4,53.5 68,53.5 75.6,45 75.6,32.3 83,32.3 87,23.7 95,32.3 98.7,32.3 102.7,36.3 106.3,32.3 114.4,32.3 118,36 122.3,32.5 129.8,40.6 130,45 133.5,49.4 125.6,57.8 125.6,83.1 145.6,104.4 149.4,100.3 153.1,104.4 160.6,104.4 168.5,112.5 168.5,116.9 172.5,121.3 184.4,121.3 188.1,125.6 188.1,130 191.9,134 195.6,134 195.6,138.1 203.5,147.3 199.4,151.3 203.5,155.3 207.5,155.3 207.5,160 211.9,164.4 215.4,164.4 215.4,168.8 219.4,173.1 219.4,176.9 226.9,185.3 246.6,185.3 253.8,193.8 253.8,198.1 261.9,206.3 265.6,206.5 270,210.6 273.8,210.6 273.8,215 277.5,219.4 277.5,223.8 281.3,228.1 281.3,231.9 292.5,244.4 292.5,248.1 296.3,253.1 296.3,261.9 300.6,266 304.4,266 312.5,274.4 312.5,278.8 316.3,283.1 324.4,283.1 324.4,296.3 331.6,304.4 327.8,309.4 331.6,313.8 331.6,316.9 327.8,321.9 331.6,325.6 324.4,325.6 320,330 316.3,330 308.5,338.1 308.5,351.3 304.4,351.3 300.6,355.6 304.4,359.6 296.5,368.1 296.5,372.5 292.5,376.9 292.5,389.4 281.3,389.4 277.5,385.6 269.4,385.6 265.6,389.4 265.6,393.5 235,393.5 230.6,389.4 203.8,389.4 199.8,385.4 176.9,385.4 168.8,376.9 161.3,376.9 153.1,368.1 149.4,368.1 145,363.8 137.5,363.8 118.1,342.5 114.4,342.5 114.4,338.1 110.3,333.8 110.3,329.8 106.5,325.3 98.8,325.3 95,321.3 98.8,321.3 106.5,313.1 106.5,300 98.8,291.5 95,291.5 83.5,279.2 79.4,283.2 75.6,279.2 75.6,275 67.5,266.3 67.5,261.9 63.8,257.5 60,257.5 56,253.4 59.8,249.4 59.8,245 55.6,240.6 55.6,236.9 63.8,228.1 63.8,206.6 71.5,198.5 71.5,193.8 67.5,189.6 71.5,185.6 67.5,181.3 67.5,151.3 75.6,142.5 75.6,125.6 87.5,112.5 87.5,100 79.4,91.3 75.6,91.3 75.6,70 68,61.9 64.4,61.9ZM312.5,274.4H320" fill="none" stroke="#222" stroke-width="0.9" stroke-linejoin="miter"/><text x="55.9" y="376.3" font-size="23" fill="#000" stroke="#000" stroke-width="0.8">N</text><path d="M68.1,362V359H63.4L69.7,349.3L76.2,359H71.4V362Z" fill="#000"/><text x="56.6" y="394" font-size="8.7" fill="#111">UTM Zone 27p</text><rect x="56.2" y="398.3" width="75.3" height="7" fill="#fff" stroke="#222" stroke-width="0.7"/><rect x="56.2" y="398.3" width="37.8" height="7" fill="#000"/><text x="53.3" y="416" font-size="9.2" fill="#111">0</text><text x="118" y="416" font-size="9" fill="#111" textLength="39.6" lengthAdjust="spacing">10 000 m</text></g><rect x="300" y="47.4" width="18.4" height="35.2" fill="#fc4f2c"/><rect x="300" y="82.6" width="18.4" height="35.2" fill="#fd9350"/><rect x="300" y="117.8" width="18.4" height="35.2" fill="#fec46f"/><rect x="300" y="153.1" width="18.4" height="35.2" fill="#ffec9b"/><rect x="300" y="188.3" width="18.4" height="35.2" fill="#d7d7d7"/><path d="M300,47.4h18.4v176.1h-18.4zM300,82.6h18.4M300,117.8h18.4M300,153.1h18.4M300,188.3h18.4" fill="none" stroke="#2a2a2a" stroke-width="0.65"/><g font-size="9.6" text-anchor="end" fill="#111"><text x="330.3" y="83.1">10</text><text x="330.3" y="118.3">5</text><text x="330.3" y="153.5">2</text><text x="330.3" y="188.7">1</text><text x="330.3" y="223.9">0</text></g><text x="300.5" y="36.7" font-size="22" font-weight="bold" fill="#000">Cr</text></g>
<g transform="translate(655.4,0)"><rect x="44.4" y="6.2" width="298.9" height="422.3" fill="none" stroke="#555" stroke-width="1"/><g transform="translate(0,0)"><g clip-path="url(#isl)"><path d="M60,57.5 64.4,53.5 68,53.5 75.6,45 75.6,32.3 83,32.3 87,23.7 95,32.3 98.7,32.3 102.7,36.3 106.3,32.3 114.4,32.3 118,36 122.3,32.5 129.8,40.6 130,45 133.5,49.4 125.6,57.8 125.6,83.1 145.6,104.4 149.4,100.3 153.1,104.4 160.6,104.4 168.5,112.5 168.5,116.9 172.5,121.3 184.4,121.3 188.1,125.6 188.1,130 191.9,134 195.6,134 195.6,138.1 203.5,147.3 199.4,151.3 203.5,155.3 207.5,155.3 207.5,160 211.9,164.4 215.4,164.4 215.4,168.8 219.4,173.1 219.4,176.9 226.9,185.3 246.6,185.3 253.8,193.8 253.8,198.1 261.9,206.3 265.6,206.5 270,210.6 273.8,210.6 273.8,215 277.5,219.4 277.5,223.8 281.3,228.1 281.3,231.9 292.5,244.4 292.5,248.1 296.3,253.1 296.3,261.9 300.6,266 304.4,266 312.5,274.4 312.5,278.8 316.3,283.1 324.4,283.1 324.4,296.3 331.6,304.4 327.8,309.4 331.6,313.8 331.6,316.9 327.8,321.9 331.6,325.6 324.4,325.6 320,330 316.3,330 308.5,338.1 308.5,351.3 304.4,351.3 300.6,355.6 304.4,359.6 296.5,368.1 296.5,372.5 292.5,376.9 292.5,389.4 281.3,389.4 277.5,385.6 269.4,385.6 265.6,389.4 265.6,393.5 235,393.5 230.6,389.4 203.8,389.4 199.8,385.4 176.9,385.4 168.8,376.9 161.3,376.9 153.1,368.1 149.4,368.1 145,363.8 137.5,363.8 118.1,342.5 114.4,342.5 114.4,338.1 110.3,333.8 110.3,329.8 106.5,325.3 98.8,325.3 95,321.3 98.8,321.3 106.5,313.1 106.5,300 98.8,291.5 95,291.5 83.5,279.2 79.4,283.2 75.6,279.2 75.6,275 67.5,266.3 67.5,261.9 63.8,257.5 60,257.5 56,253.4 59.8,249.4 59.8,245 55.6,240.6 55.6,236.9 63.8,228.1 63.8,206.6 71.5,198.5 71.5,193.8 67.5,189.6 71.5,185.6 67.5,181.3 67.5,151.3 75.6,142.5 75.6,125.6 87.5,112.5 87.5,100 79.4,91.3 75.6,91.3 75.6,70 68,61.9 64.4,61.9Z" fill="#fec46f"/><path d="M58.4,57.5C58.7,55.9 62.7,53.4 64.6,52.5C66.5,51.6 67.9,52.7 69.6,51.9C71.3,51 72.9,48.2 74.6,47.5C76.3,46.8 78.3,47.1 79.6,47.5C80.8,47.9 81.8,49 82.1,50C82.4,51 81.1,52.5 81.5,53.8C81.9,55 83.5,56.2 84.6,57.5C85.7,58.8 87.5,59.8 88.3,61.2C89.2,62.7 89.3,64.7 89.6,66.2C89.9,67.8 89.6,69.5 90.2,70.6C90.8,71.8 92.2,73 93.3,73.1C94.5,73.2 96.1,72.4 97.1,71.2C98.1,70.1 99,67.8 99.6,66.2C100.2,64.7 100.1,63 100.8,61.9C101.6,60.7 102.8,59.6 104,59.4C105.1,59.2 106.8,59.7 107.7,60.6C108.7,61.6 109.5,63.2 109.6,65C109.7,66.8 109,69.4 108.3,71.2C107.7,73.1 106.6,74.4 105.8,76.2C105.1,78.1 104.8,80.4 104,82.5C103.1,84.6 101.9,87.2 100.8,88.8C99.8,90.3 99,91.7 97.7,91.9C96.5,92.1 94.9,90.8 93.3,90C91.8,89.2 90,87.7 88.3,86.9C86.7,86 84.8,85.2 83.3,85C81.9,84.8 80.7,85.2 79.6,85.6C78.5,86 77.6,87.1 76.5,87.5C75.3,87.9 73.3,91 72.7,88.1C72.1,85.2 73.7,74.3 72.7,70C71.8,65.7 68.8,63.9 67.1,62.5C65.4,61.1 64.2,62.7 62.7,61.9C61.3,61 58,59.1 58.4,57.5Z" fill="#ffec9b"/><path d="M100.3,118.8C100.9,117.4 103.3,115 104.8,114.5C106.4,114 108.9,114.8 109.8,115.5C110.8,116.2 111.1,117.6 110.6,118.8C110.1,119.9 108.1,121.9 106.6,122.5C105.1,123.1 102.6,123.1 101.6,122.5C100.6,121.9 99.8,120.1 100.3,118.8Z" fill="#ffec9b"/><path d="M82.3,111.2C85.5,110 89,115.2 89.8,117.5C90.7,119.8 87.3,122.5 87.3,125C87.3,127.5 88.2,130 89.8,132.5C91.5,135 94.4,137.3 97.3,140C100.3,142.7 104.4,145.8 107.3,148.8C110.3,151.7 112.8,154.4 114.8,157.5C116.9,160.6 118.5,164.2 119.8,167.5C121.2,170.8 122.9,174.2 123.1,177.5C123.3,180.8 122.5,184.6 121.1,187.5C119.7,190.4 117.3,192.9 114.8,195C112.3,197.1 109.6,199 106.1,200C102.6,201 97.8,201 93.6,201.2C89.4,201.5 84.4,200.6 81.1,201.2C77.8,201.9 76.3,204.5 73.6,205C70.9,205.5 66.7,207.8 64.8,204.5C63,201.2 62.8,194.1 62.4,185C61.9,175.9 60.9,160 62.4,150C63.8,140 67.8,131.5 71.1,125C74.4,118.5 79.2,112.5 82.3,111.2Z" fill="#ffec9b"/><path d="M75.6,138.8C78,137.5 79.3,137.1 80.6,137.5C81.9,137.9 83.4,139.8 83.6,141.2C83.8,142.7 82.8,144.8 81.6,146.2C80.3,147.7 78.3,148.8 76.1,150C73.9,151.2 70.3,154.6 68.6,153.8C66.9,152.9 64.9,147.5 66.1,145C67.3,142.5 73.2,140 75.6,138.8Z" fill="#fec46f"/><path d="M58.4,203.8C61.5,200.2 66.5,211.5 69.6,213.8C72.7,216 74.6,216.5 77.1,217.5C79.6,218.5 81.7,218.9 84.6,219.5C87.5,220.1 91.5,220.5 94.6,221.2C97.7,222 100.9,222.3 103.3,223.8C105.8,225.2 108.1,227.7 109.1,230C110.1,232.3 110.1,235 109.6,237.5C109.1,240 107.7,242.9 105.8,245C104,247.1 101.1,248.8 98.3,250C95.6,251.2 92.7,251.9 89.6,252.5C86.5,253.1 82.3,252.7 79.6,253.8C76.9,254.8 75.4,256.8 73.3,258.8C71.3,260.7 70.4,265.3 67.1,265.5C63.8,265.7 56.1,265.1 53.4,260C50.6,254.9 50,244.4 50.9,235C51.7,225.6 55.2,207.3 58.4,203.8Z" fill="#ffec9b"/><path d="M73.8,237.5C73.8,238.9 73.3,240.5 72.5,241.6C71.6,242.7 70.2,243.7 68.8,244.2C67.5,244.6 65.7,244.6 64.4,244.2C63,243.7 61.6,242.7 60.7,241.6C59.9,240.5 59.4,238.9 59.4,237.5C59.4,236.1 59.9,234.5 60.7,233.4C61.6,232.3 63,231.3 64.4,230.8C65.7,230.4 67.5,230.4 68.8,230.8C70.2,231.3 71.6,232.3 72.5,233.4C73.3,234.5 73.8,236.1 73.8,237.5Z" fill="#fec46f"/><path d="M82.6,232.5C82.8,231.5 85.2,229.9 86.6,230C88,230.1 90.3,231.8 90.8,233C91.3,234.2 90.6,236.5 89.6,237C88.6,237.5 86.3,237 85.1,236.2C83.9,235.5 82.3,233.5 82.6,232.5Z" fill="#d7d7d7"/><path d="M100.1,233.8C100.6,232.8 102.8,230.8 103.3,231.2C103.9,231.7 103.9,235.3 103.3,236.2C102.8,237.2 100.6,237.2 100.1,236.8C99.6,236.3 99.6,234.7 100.1,233.8Z" fill="#d7d7d7"/><path d="M123.3,225C123.6,222.7 124.2,219.6 125.8,217.5C127.5,215.4 130.4,213.1 133.3,212.5C136.3,211.9 140.4,212.7 143.3,213.8C146.3,214.8 149.1,216.7 150.8,218.8C152.6,220.8 154.1,223.8 154.1,226.2C154.1,228.8 152.6,231.7 150.8,233.8C149.1,235.8 145.8,237.6 143.3,238.8C140.8,239.9 138.3,241.2 135.8,240.8C133.3,240.3 130.2,237.8 128.3,236.2C126.5,234.7 125.4,233.1 124.6,231.2C123.8,229.4 123.1,227.3 123.3,225Z" fill="#ffec9b"/><path d="M131.3,230C131.5,228.2 131.8,225.2 133.3,223.8C134.9,222.3 138.6,221.2 140.8,221.2C143.1,221.2 145.8,222.5 147.1,223.8C148.3,225 148.8,227.1 148.3,228.8C147.9,230.4 146.5,232.5 144.6,233.8C142.7,235 139.1,236.1 137.1,236.2C135.1,236.4 133.6,235.5 132.6,234.5C131.6,233.5 131.2,231.8 131.3,230Z" fill="#d7d7d7"/><path d="M162.8,247C162.8,247.8 162.6,248.7 162.1,249.4C161.7,250 161,250.6 160.3,250.8C159.6,251 158.6,251 157.9,250.8C157.2,250.6 156.5,250 156.1,249.4C155.6,248.7 155.3,247.8 155.3,247C155.3,246.2 155.6,245.3 156.1,244.6C156.5,244 157.2,243.4 157.9,243.2C158.6,243 159.6,243 160.3,243.2C161,243.4 161.7,244 162.1,244.6C162.6,245.3 162.8,246.2 162.8,247Z" fill="#fd9350"/><path d="M189.6,271.2C190,269.8 191.8,267.8 193.3,267.5C194.9,267.2 197.6,268.2 199.1,269.5C200.6,270.8 201.9,273.3 202.1,275C202.3,276.7 201.3,278.7 200.1,279.5C198.8,280.3 196.1,280.5 194.6,280C193.1,279.5 191.7,277.7 190.8,276.2C190,274.8 189.2,272.7 189.6,271.2Z" fill="#fd9350"/><path d="M263.6,275 266.6,274.5 265.6,279.5Z" fill="#fd9350"/><path d="M234.6,307.5 240.1,307 239.1,317.5Z" fill="#fd9350"/><path d="M257.6,368 259.1,368 258.6,373.8Z" fill="#fd9350"/><path d="M295.4,335 299.1,332.5 303.1,333.8 303.6,338.8 299.6,340.5 296.1,339.2Z" fill="#fd9350"/><path d="M316.5,300.2 319.3,297.7 322,300.2 319.3,303Z" fill="#fd9350"/><path d="M191.6,322.5C191.6,319.4 192,315.6 193.3,312.5C194.7,309.4 196.9,306 199.6,303.8C202.3,301.5 206.5,299.4 209.6,298.8C212.7,298.1 216.2,298.5 218.3,300C220.5,301.5 221.8,304.6 222.6,307.5C223.4,310.4 223.8,314 223.3,317.5C222.8,321 221.1,325.6 219.6,328.8C218.1,331.9 216.7,334.4 214.6,336.2C212.5,338.1 209.8,339.8 207.1,340C204.4,340.2 200.6,339 198.3,337.5C196.1,336 194.5,333.8 193.3,331.2C192.2,328.8 191.6,325.6 191.6,322.5Z" fill="#ffec9b"/><path d="M206.6,312.5C206.6,310.4 207.2,307 208.3,305.5C209.5,304 211.9,303.4 213.3,303.8C214.8,304.1 216.3,305.4 217.1,307.5C217.9,309.6 218.8,314.2 218.3,316.2C217.9,318.2 216.3,319.2 214.6,319.5C212.9,319.8 209.7,319.2 208.3,318C207,316.8 206.6,314.6 206.6,312.5Z" fill="#d7d7d7"/><path d="M246.6,340C246.3,337.4 247.4,334 248.3,331.2C249.3,328.5 250.4,325.3 252.1,323.8C253.8,322.2 256.8,321.2 258.4,322C259.9,322.8 261.2,326.2 261.6,328.8C262,331.3 261.6,335 260.9,337.5C260.1,340 258.9,342.2 257.1,343.8C255.3,345.3 251.8,347.6 250.1,347C248.3,346.4 246.9,342.6 246.6,340Z" fill="#ffec9b"/><path d="M232.1,395C228.7,393.5 236.1,388.1 238.3,386.2C240.6,384.4 243.3,383.8 245.8,383.8C248.3,383.8 251.2,384.4 253.3,386.2C255.5,388.1 262.1,393.5 258.6,395C255.1,396.5 235.5,396.5 232.1,395Z" fill="#ffec9b"/><path d="M227.5,355.5C227.5,355.7 227.4,355.9 227.3,356C227.2,356.2 227,356.3 226.9,356.3C226.7,356.4 226.5,356.4 226.3,356.3C226.2,356.3 226,356.2 225.9,356C225.8,355.9 225.7,355.7 225.7,355.5C225.7,355.3 225.8,355.1 225.9,355C226,354.8 226.2,354.7 226.3,354.7C226.5,354.6 226.7,354.6 226.9,354.7C227,354.7 227.2,354.8 227.3,355C227.4,355.1 227.5,355.3 227.5,355.5Z" fill="#ffec9b"/></g><path d="M60,57.5 64.4,53.5 68,53.5 75.6,45 75.6,32.3 83,32.3 87,23.7 95,32.3 98.7,32.3 102.7,36.3 106.3,32.3 114.4,32.3 118,36 122.3,32.5 129.8,40.6 130,45 133.5,49.4 125.6,57.8 125.6,83.1 145.6,104.4 149.4,100.3 153.1,104.4 160.6,104.4 168.5,112.5 168.5,116.9 172.5,121.3 184.4,121.3 188.1,125.6 188.1,130 191.9,134 195.6,134 195.6,138.1 203.5,147.3 199.4,151.3 203.5,155.3 207.5,155.3 207.5,160 211.9,164.4 215.4,164.4 215.4,168.8 219.4,173.1 219.4,176.9 226.9,185.3 246.6,185.3 253.8,193.8 253.8,198.1 261.9,206.3 265.6,206.5 270,210.6 273.8,210.6 273.8,215 277.5,219.4 277.5,223.8 281.3,228.1 281.3,231.9 292.5,244.4 292.5,248.1 296.3,253.1 296.3,261.9 300.6,266 304.4,266 312.5,274.4 312.5,278.8 316.3,283.1 324.4,283.1 324.4,296.3 331.6,304.4 327.8,309.4 331.6,313.8 331.6,316.9 327.8,321.9 331.6,325.6 324.4,325.6 320,330 316.3,330 308.5,338.1 308.5,351.3 304.4,351.3 300.6,355.6 304.4,359.6 296.5,368.1 296.5,372.5 292.5,376.9 292.5,389.4 281.3,389.4 277.5,385.6 269.4,385.6 265.6,389.4 265.6,393.5 235,393.5 230.6,389.4 203.8,389.4 199.8,385.4 176.9,385.4 168.8,376.9 161.3,376.9 153.1,368.1 149.4,368.1 145,363.8 137.5,363.8 118.1,342.5 114.4,342.5 114.4,338.1 110.3,333.8 110.3,329.8 106.5,325.3 98.8,325.3 95,321.3 98.8,321.3 106.5,313.1 106.5,300 98.8,291.5 95,291.5 83.5,279.2 79.4,283.2 75.6,279.2 75.6,275 67.5,266.3 67.5,261.9 63.8,257.5 60,257.5 56,253.4 59.8,249.4 59.8,245 55.6,240.6 55.6,236.9 63.8,228.1 63.8,206.6 71.5,198.5 71.5,193.8 67.5,189.6 71.5,185.6 67.5,181.3 67.5,151.3 75.6,142.5 75.6,125.6 87.5,112.5 87.5,100 79.4,91.3 75.6,91.3 75.6,70 68,61.9 64.4,61.9ZM312.5,274.4H320" fill="none" stroke="#222" stroke-width="0.9" stroke-linejoin="miter"/><text x="55.9" y="376.3" font-size="23" fill="#000" stroke="#000" stroke-width="0.8">N</text><path d="M68.1,362V359H63.4L69.7,349.3L76.2,359H71.4V362Z" fill="#000"/><text x="56.6" y="394" font-size="8.7" fill="#111">UTM Zone 27p</text><rect x="56.2" y="398.3" width="75.3" height="7" fill="#fff" stroke="#222" stroke-width="0.7"/><rect x="56.2" y="398.3" width="37.8" height="7" fill="#000"/><text x="53.3" y="416" font-size="9.2" fill="#111">0</text><text x="118" y="416" font-size="9" fill="#111" textLength="39.6" lengthAdjust="spacing">10 000 m</text></g><rect x="303.1" y="47.3" width="18.4" height="35.2" fill="#fc4f2c"/><rect x="303.1" y="82.5" width="18.4" height="35.2" fill="#fd9350"/><rect x="303.1" y="117.7" width="18.4" height="35.2" fill="#fec46f"/><rect x="303.1" y="153" width="18.4" height="35.2" fill="#ffec9b"/><rect x="303.1" y="188.2" width="18.4" height="35.2" fill="#d7d7d7"/><path d="M303.1,47.3h18.4v176.1h-18.4zM303.1,82.5h18.4M303.1,117.7h18.4M303.1,153h18.4M303.1,188.2h18.4" fill="none" stroke="#2a2a2a" stroke-width="0.65"/><g font-size="9.6" text-anchor="end" fill="#111"><text x="333.4" y="83">10</text><text x="333.4" y="118.2">5</text><text x="333.4" y="153.4">2</text><text x="333.4" y="188.6">1</text><text x="333.4" y="223.8">0</text></g><text x="300.7" y="36.6" font-size="22" font-weight="bold" fill="#000">Cu</text></g>
<g transform="translate(0,436.2)"><rect x="44.4" y="6.2" width="298.9" height="421.2" fill="none" stroke="#555" stroke-width="1"/><path d="M44.4,6.2h-5.4M44.4,44.5h-5.4M44.4,82.8h-5.4M44.4,121.1h-5.4M44.4,159.4h-5.4M44.4,197.7h-5.4M44.4,235.9h-5.4M44.4,274.2h-5.4M44.4,312.5h-5.4M44.4,350.8h-5.4M44.4,389.1h-5.4M44.4,427.4h-5.4M44.4,427.4v4.6M81.8,427.4v4.6M119.1,427.4v4.6M156.5,427.4v4.6M193.9,427.4v4.6M231.2,427.4v4.6M268.6,427.4v4.6M305.9,427.4v4.6M343.3,427.4v4.6" stroke="#555" stroke-width="1" fill="none"/><g transform="translate(0,-0.4)"><g clip-path="url(#isl)"><path d="M60,57.5 64.4,53.5 68,53.5 75.6,45 75.6,32.3 83,32.3 87,23.7 95,32.3 98.7,32.3 102.7,36.3 106.3,32.3 114.4,32.3 118,36 122.3,32.5 129.8,40.6 130,45 133.5,49.4 125.6,57.8 125.6,83.1 145.6,104.4 149.4,100.3 153.1,104.4 160.6,104.4 168.5,112.5 168.5,116.9 172.5,121.3 184.4,121.3 188.1,125.6 188.1,130 191.9,134 195.6,134 195.6,138.1 203.5,147.3 199.4,151.3 203.5,155.3 207.5,155.3 207.5,160 211.9,164.4 215.4,164.4 215.4,168.8 219.4,173.1 219.4,176.9 226.9,185.3 246.6,185.3 253.8,193.8 253.8,198.1 261.9,206.3 265.6,206.5 270,210.6 273.8,210.6 273.8,215 277.5,219.4 277.5,223.8 281.3,228.1 281.3,231.9 292.5,244.4 292.5,248.1 296.3,253.1 296.3,261.9 300.6,266 304.4,266 312.5,274.4 312.5,278.8 316.3,283.1 324.4,283.1 324.4,296.3 331.6,304.4 327.8,309.4 331.6,313.8 331.6,316.9 327.8,321.9 331.6,325.6 324.4,325.6 320,330 316.3,330 308.5,338.1 308.5,351.3 304.4,351.3 300.6,355.6 304.4,359.6 296.5,368.1 296.5,372.5 292.5,376.9 292.5,389.4 281.3,389.4 277.5,385.6 269.4,385.6 265.6,389.4 265.6,393.5 235,393.5 230.6,389.4 203.8,389.4 199.8,385.4 176.9,385.4 168.8,376.9 161.3,376.9 153.1,368.1 149.4,368.1 145,363.8 137.5,363.8 118.1,342.5 114.4,342.5 114.4,338.1 110.3,333.8 110.3,329.8 106.5,325.3 98.8,325.3 95,321.3 98.8,321.3 106.5,313.1 106.5,300 98.8,291.5 95,291.5 83.5,279.2 79.4,283.2 75.6,279.2 75.6,275 67.5,266.3 67.5,261.9 63.8,257.5 60,257.5 56,253.4 59.8,249.4 59.8,245 55.6,240.6 55.6,236.9 63.8,228.1 63.8,206.6 71.5,198.5 71.5,193.8 67.5,189.6 71.5,185.6 67.5,181.3 67.5,151.3 75.6,142.5 75.6,125.6 87.5,112.5 87.5,100 79.4,91.3 75.6,91.3 75.6,70 68,61.9 64.4,61.9Z" fill="#fc4f2c"/><path d="M56.5,57.9C56.9,55.6 65.9,52.7 69,50.4C72.1,48.1 73.2,45.5 75.2,44.1C77.3,42.8 80,41.8 81.5,42.4C83,43 84,45.9 84,47.9C84,49.9 81.1,52.3 81.5,54.1C81.9,56 84.8,57.5 86.5,59.1C88.2,60.8 89.6,62.9 91.5,64.2C93.4,65.4 96.1,67.1 97.8,66.7C99.4,66.2 100,62.7 101.5,61.6C103,60.6 105.2,59.6 106.5,60.4C107.8,61.2 109.2,64.2 109.5,66.7C109.8,69.2 109.6,72.9 108.5,75.4C107.4,77.9 105.2,80.1 102.8,81.7C100.3,83.2 97.1,84.4 94,84.9C90.9,85.4 87.3,84.9 84,84.9C80.7,84.9 75.9,86.7 74,84.7C72.1,82.7 74,76.3 72.8,72.9C71.5,69.5 69.2,66.7 66.5,64.2C63.8,61.7 56.1,60.2 56.5,57.9Z" fill="#fd9350"/><path d="M57.8,57.9C57.5,56.1 64.8,54.6 67.8,52.9C70.7,51.2 73.2,48.7 75.2,47.9C77.3,47.1 79.4,47.1 80.2,47.9C81.1,48.7 79.6,51.2 80.2,52.9C80.9,54.6 82.5,56.2 84,57.9C85.5,59.6 88,61 89,62.9C90,64.8 89,67.7 90.2,69.2C91.5,70.6 94.4,72.1 96.5,71.7C98.6,71.2 101.2,67.1 102.8,66.7C104.3,66.2 105.8,67.7 106,69.2C106.2,70.6 105.4,73.7 104,75.4C102.6,77.1 100.2,78.2 97.8,79.2C95.2,80.1 91.7,80.5 89,80.9C86.3,81.3 84,81.7 81.5,81.7C79,81.7 75.3,82.8 74,80.9C72.7,79 74.3,73.3 73.5,70.4C72.7,67.5 71.6,65.5 69,63.4C66.4,61.3 58,59.6 57.8,57.9Z" fill="#fec46f"/><path d="M104.2,67.2C104.2,67.3 104.2,67.6 104.1,67.7C103.9,67.9 103.7,68 103.6,68.1C103.4,68.2 103.1,68.2 102.9,68.1C102.8,68 102.6,67.9 102.4,67.7C102.3,67.6 102.2,67.3 102.2,67.2C102.2,67 102.3,66.7 102.4,66.6C102.6,66.4 102.8,66.3 102.9,66.2C103.1,66.1 103.4,66.1 103.6,66.2C103.7,66.3 103.9,66.4 104.1,66.6C104.2,66.7 104.2,67 104.2,67.2Z" fill="#ffec9b"/><path d="M107.8,104.2C108.3,102.3 110.7,99.9 112.8,99.2C114.8,98.4 118.3,98.7 120.2,99.9C122.2,101.2 124.3,104.5 124.5,106.7C124.7,108.8 123,111.8 121.5,112.9C120,114 117.2,113.8 115.2,113.4C113.2,113 110.8,111.9 109.5,110.4C108.2,108.9 107.2,106 107.8,104.2Z" fill="#fd9350"/><path d="M102,115.4C102.4,113.9 104.2,109.8 105.2,109.2C106.3,108.5 108.3,110.2 108.5,111.7C108.7,113.1 107.5,116.8 106.5,117.9C105.5,119 103.5,118.8 102.8,118.4C102,118 101.6,116.9 102,115.4Z" fill="#fd9350"/><path d="M166,112.9C166,113.3 165.8,113.8 165.4,114.1C165,114.4 164.4,114.7 163.8,114.8C163.1,114.9 162.4,114.9 161.7,114.8C161.1,114.7 160.5,114.4 160.1,114.1C159.7,113.8 159.5,113.3 159.5,112.9C159.5,112.5 159.7,112 160.1,111.7C160.5,111.4 161.1,111.1 161.7,111C162.4,110.9 163.1,110.9 163.8,111C164.4,111.1 165,111.4 165.4,111.7C165.8,112 166,112.5 166,112.9Z" fill="#fd9350"/><path d="M72.8,125.9C73.8,123.5 77.5,126.7 79,127.9C80.5,129.1 81.8,131 82,132.9C82.2,134.8 81.8,137.6 80.2,139.2C78.7,140.7 74,144.6 72.8,142.4C71.5,140.2 71.7,128.3 72.8,125.9Z" fill="#fd9350"/><path d="M50,163C52.9,150.8 60.9,162.6 65.3,162.8C69.7,163 73,164.4 76.5,164C80,163.6 83.2,161.6 86.5,160.3C89.8,159.1 93.2,157.4 96.5,156.5C99.8,155.6 103.2,154.6 106.5,154.8C109.8,155 113.6,156.3 116.5,157.8C119.4,159.3 121.5,161.5 124,164C126.5,166.5 128.8,169.7 131.5,172.8C134.2,175.9 137.6,180.1 140.3,182.8C143,185.5 145.5,187.1 147.8,189C150.1,190.9 151.7,194 154,194C156.3,194 159,190.7 161.5,189C164,187.3 166.3,185.4 169,184C171.7,182.6 174.7,180.9 177.8,180.3C180.9,179.7 185.1,179.5 187.8,180.3C190.5,181.1 192.3,182.8 194,185.3C195.7,187.8 196.6,192 197.8,195.3C199.1,198.6 200.5,202 201.5,205.3C202.5,208.6 203.2,212 204,215.3C204.8,218.6 205.2,222.8 206.5,225.3C207.8,227.8 209.8,230.3 211.5,230.3C213.2,230.3 214.6,227.2 216.5,225.3C218.4,223.4 222.8,221.3 222.8,219C222.8,216.7 218,213.8 216.5,211.5C215,209.2 213.6,207 214,205.3C214.4,203.6 217.3,201.7 219,201.5C220.7,201.3 222.5,202.5 224,204C225.5,205.5 226.6,208.4 227.8,210.3C229.1,212.2 229.6,213.6 231.5,215.3C233.4,217 236.5,218.6 239,220.3C241.5,222 244,224.1 246.5,225.3C249,226.6 254.6,226.8 254,227.8C253.4,228.8 245.3,229.6 242.8,231.5C240.3,233.4 239.4,236.5 239,239C238.6,241.5 239.5,244.2 240.3,246.5C241.1,248.8 242.1,250.7 244,252.8C245.9,254.9 249.4,256.9 251.5,259C253.6,261.1 255.3,262.8 256.5,265.3C257.7,267.8 257.4,271.7 258.5,274C259.6,276.3 261.5,278.8 262.8,279C264.1,279.2 265.9,277 266.5,275.3C267.1,273.6 265.7,270.8 266.5,269C267.3,267.2 269.6,265.2 271.5,264.8C273.4,264.4 276.3,265 277.8,266.5C279.3,268 280.3,271.3 280.3,274C280.3,276.7 279.3,280.1 277.8,282.8C276.3,285.5 273.8,288.2 271.5,290.3C269.2,292.4 266.5,294.7 264,295.3C261.5,295.9 259.4,294.9 256.5,294C253.6,293.1 249.8,290.6 246.5,289.8C243.2,289 239.4,290 236.5,289C233.6,288 231.9,285.7 229,284C226.1,282.3 221.8,280.7 219,279C216.2,277.3 213.7,276.1 212,274C210.3,271.9 209.1,268.8 209,266.5C208.9,264.2 209.8,262 211.5,260.3C213.2,258.6 217.3,258 219,256.5C220.7,255 221.9,253.4 221.5,251.5C221.1,249.6 217.9,247.6 216.5,245.3C215.1,243 214.1,239.9 212.8,237.8C211.6,235.7 211.7,233.6 209,232.8C206.3,232.1 200.7,233.3 196.5,233.3C192.3,233.3 188.2,233.1 184,232.8C179.8,232.5 175.7,231.3 171.5,231.5C167.3,231.7 163.2,232.8 159,234C154.8,235.2 150.2,237.3 146.5,239C142.8,240.7 139.8,242.3 136.5,244C133.2,245.7 130.2,247.9 126.5,249C122.8,250.1 118.2,250.5 114,250.3C109.8,250.1 105.7,248.9 101.5,247.8C97.3,246.8 93.2,245.2 89,244C84.8,242.8 80.2,241.3 76.5,240.3C72.8,239.3 71.2,238.5 66.5,237.8C61.8,237.1 50.8,248.5 48,236C45.2,223.5 47.1,175.2 50,163Z" fill="#fd9350"/><path d="M70,186C72.1,183.4 74.2,186.7 76.5,185.3C78.8,183.9 81.1,180.3 84,177.8C86.9,175.3 90.9,172.6 94,170.3C97.1,168 99.9,165.5 102.8,164C105.7,162.5 108.8,161.3 111.5,161.5C114.2,161.7 116.9,163.4 119,165.3C121.1,167.2 122.8,169.9 124,172.8C125.2,175.7 125.7,179.5 126.5,182.8C127.3,186.1 127.5,189.5 129,192.8C130.5,196.1 133,199.9 135.3,202.8C137.6,205.7 140.3,207.8 142.8,210.3C145.3,212.8 148.4,215.5 150.3,217.8C152.2,220.1 153.6,221.9 154,224C154.4,226.1 154.1,228.4 152.8,230.3C151.6,232.2 148.8,234.1 146.5,235.3C144.2,236.6 141.5,237.8 139,237.8C136.5,237.8 133.4,237 131.5,235.3C129.6,233.6 129.1,230.3 127.8,227.8C126.5,225.3 125.7,222.6 124,220.3C122.3,218 120.3,215.9 117.8,214C115.3,212.1 112.1,210.4 109,209C105.9,207.6 102.3,206.3 99,205.3C95.7,204.3 92.3,203.6 89,202.8C85.7,202 83.2,200.6 79,200.3C74.8,200 65.5,203.4 64,201C62.5,198.6 67.9,188.6 70,186Z" fill="#fec46f"/><path d="M79,229C79.4,227.3 82.1,224.6 84,224C85.9,223.4 88.4,224.5 90.3,225.3C92.2,226.1 93.2,228.6 95.3,229C97.4,229.4 100.6,227.4 102.8,227.8C105,228.2 107.7,230.1 108.5,231.5C109.3,232.9 108.8,235.3 107.8,236.5C106.8,237.7 104.9,238.5 102.8,238.5C100.7,238.5 97.8,236.8 95.3,236.5C92.8,236.2 90.1,236.9 87.8,236.5C85.5,236.1 83,235.2 81.5,234C80,232.8 78.6,230.7 79,229Z" fill="#fec46f"/><path d="M86.5,196.5C86.6,195.2 87.3,193.4 89,191.5C90.7,189.6 94,187.6 96.5,185.3C99,183 101.7,179.9 104,177.8C106.3,175.7 108.2,173.9 110.3,172.8C112.4,171.8 115,170.9 116.5,171.5C118,172.1 118.8,174.2 119,176.5C119.2,178.8 119,183 117.8,185.3C116.5,187.6 114,189.1 111.5,190.3C109,191.6 105.7,191.8 102.8,192.8C99.9,193.8 96.4,195.5 94,196.5C91.6,197.5 89.8,199 88.5,199C87.2,199 86.4,197.8 86.5,196.5Z" fill="#ffec9b"/><path d="M131,230.3C130.2,228.2 131.1,224.9 132,222.8C132.9,220.7 134.7,218.7 136.5,217.8C138.3,216.9 141.1,216.7 142.8,217.3C144.6,217.9 146.2,219.8 147,221.5C147.8,223.2 148.5,225.9 147.8,227.8C147.1,229.7 144.7,231.6 142.8,232.8C140.9,234.1 138.5,235.7 136.5,235.3C134.5,234.9 131.8,232.4 131,230.3Z" fill="#ffec9b"/><path d="M134,229C133.5,227.9 134.9,225 136,224C137.1,223 138.9,222.6 140.3,222.8C141.7,223 143.9,224.3 144.5,225.3C145.1,226.3 144.9,228.2 144,229C143.1,229.8 140.7,230.3 139,230.3C137.3,230.3 134.5,230.1 134,229Z" fill="#d7d7d7"/><path d="M122.6,237.2C123,237.8 123.3,238.8 123.3,239.5C123.3,240.2 123,241 122.6,241.5C122.3,242 121.6,242.3 121,242.4C120.4,242.4 119.6,242.2 119,241.8C118.4,241.4 117.7,240.7 117.4,240C117,239.4 116.7,238.4 116.7,237.7C116.7,237 117,236.2 117.4,235.7C117.7,235.2 118.4,234.9 119,234.8C119.6,234.8 120.4,235 121,235.4C121.6,235.8 122.3,236.5 122.6,237.2Z" fill="#fc4f2c"/><path d="M157.8,205.9C157.8,206.3 157.7,206.8 157.6,207.1C157.4,207.4 157.1,207.7 156.9,207.8C156.7,207.9 156.3,207.9 156.1,207.8C155.9,207.7 155.6,207.4 155.4,207.1C155.3,206.8 155.2,206.3 155.2,205.9C155.2,205.5 155.3,205 155.4,204.7C155.6,204.4 155.9,204.1 156.1,204C156.3,203.9 156.7,203.9 156.9,204C157.1,204.1 157.4,204.4 157.6,204.7C157.7,205 157.8,205.5 157.8,205.9Z" fill="#fc4f2c"/><path d="M185.8,192.9C185.8,194.4 185.2,196.1 184.4,197.3C183.5,198.5 182,199.6 180.6,200C179.2,200.5 177.4,200.5 176,200C174.6,199.6 173.1,198.5 172.2,197.3C171.4,196.1 170.8,194.4 170.8,192.9C170.8,191.4 171.4,189.7 172.2,188.5C173.1,187.3 174.6,186.2 176,185.8C177.4,185.3 179.2,185.3 180.6,185.8C182,186.2 183.5,187.3 184.4,188.5C185.2,189.7 185.8,191.4 185.8,192.9Z" fill="#fec46f"/><path d="M178.2,189.5C178.2,189.7 178.1,190 178,190.2C177.8,190.4 177.6,190.6 177.4,190.6C177.1,190.7 176.9,190.7 176.6,190.6C176.4,190.6 176.2,190.4 176,190.2C175.9,190 175.8,189.7 175.8,189.5C175.8,189.3 175.9,189 176,188.8C176.2,188.6 176.4,188.4 176.6,188.4C176.9,188.3 177.1,188.3 177.4,188.4C177.6,188.4 177.8,188.6 178,188.8C178.1,189 178.2,189.3 178.2,189.5Z" fill="#ffec9b"/><path d="M177.8,307.8C178.2,305.7 179.2,303.2 181.5,301.5C183.8,299.8 188.2,298.8 191.5,297.8C194.8,296.8 198.2,295.4 201.5,295.3C204.8,295.2 208.6,296.3 211.5,297.3C214.4,298.3 216.6,300 219,301.5C221.4,303 225.4,304.8 226,306.5C226.6,308.2 224.8,310 222.8,311.5C220.8,313 217.1,314.5 214,315.3C210.9,316.1 207.3,315.9 204,316.5C200.7,317.1 196.9,317.8 194,319C191.1,320.2 188.8,322.4 186.5,324C184.2,325.6 182,328.9 180.3,328.3C178.6,327.7 176.7,322.7 176.5,320.3C176.3,317.9 178.8,316.1 179,314C179.2,311.9 177.4,309.9 177.8,307.8Z" fill="#fd9350"/><path d="M216.5,306.5C216.5,307.4 216.1,308.4 215.5,309.1C215,309.9 214,310.5 213,310.8C212.1,311.1 210.9,311.1 210,310.8C209,310.5 208,309.9 207.5,309.1C206.9,308.4 206.5,307.4 206.5,306.5C206.5,305.6 206.9,304.6 207.5,303.9C208,303.1 209,302.5 210,302.2C210.9,301.9 212.1,301.9 213,302.2C214,302.5 215,303.1 215.5,303.9C216.1,304.6 216.5,305.6 216.5,306.5Z" fill="#fec46f"/><path d="M213.5,306.3C213.5,306.7 213.3,307.2 213.1,307.5C212.9,307.8 212.5,308.1 212.1,308.2C211.7,308.3 211.3,308.3 210.9,308.2C210.5,308.1 210.1,307.8 209.9,307.5C209.7,307.2 209.5,306.7 209.5,306.3C209.5,305.9 209.7,305.4 209.9,305.1C210.1,304.8 210.5,304.5 210.9,304.4C211.3,304.3 211.7,304.3 212.1,304.4C212.5,304.5 212.9,304.8 213.1,305.1C213.3,305.4 213.5,305.9 213.5,306.3Z" fill="#ffec9b"/><path d="M140.3,321.5C141.6,320 146,319.9 149,319.8C152,319.7 157.2,319.5 158.5,320.8C159.8,322.1 158.2,325.8 157,327.8C155.8,329.8 153.4,331.6 151.5,332.8C149.6,334 147.1,335.4 145.3,334.8C143.6,334.2 141.8,331.2 141,329C140.2,326.8 139,323 140.3,321.5Z" fill="#fd9350"/><path d="M160.3,355.3C161.5,352.7 164.4,349.6 166.5,348.3C168.6,347.1 171.6,346.9 172.8,347.8C174,348.8 173.8,351.5 173.5,354C173.2,356.5 172.2,360.1 171,362.8C169.8,365.5 168.1,368.9 166.5,370.3C164.9,371.8 162.7,372.6 161.5,371.5C160.3,370.4 159.7,366.7 159.5,364C159.3,361.3 159.1,357.9 160.3,355.3Z" fill="#fd9350"/><path d="M175.2,337.9 180.2,336.6 179,341.6Z" fill="#fd9350"/><path d="M148.5,359.1 154,359.9 150.2,362.4Z" fill="#fd9350"/><path d="M111,276.6C111,276.9 110.9,277.3 110.9,277.5C110.8,277.8 110.6,278 110.5,278.1C110.3,278.2 110.2,278.2 110,278.1C109.9,278 109.7,277.8 109.6,277.5C109.6,277.3 109.5,276.9 109.5,276.6C109.5,276.4 109.6,276 109.6,275.8C109.7,275.5 109.9,275.3 110,275.2C110.2,275.1 110.3,275.1 110.5,275.2C110.6,275.3 110.8,275.5 110.9,275.8C110.9,276 111,276.4 111,276.6Z" fill="#ffec9b"/><path d="M260.3,326.5C260.3,327.9 259.8,329.6 259,330.8C258.2,331.9 256.8,333 255.5,333.4C254.2,333.9 252.4,333.9 251.1,333.4C249.8,333 248.4,331.9 247.6,330.8C246.8,329.6 246.3,327.9 246.3,326.5C246.3,325.1 246.8,323.4 247.6,322.2C248.4,321.1 249.8,320 251.1,319.6C252.4,319.1 254.2,319.1 255.5,319.6C256.8,320 258.2,321.1 259,322.2C259.8,323.4 260.3,325.1 260.3,326.5Z" fill="#fd9350"/><path d="M256.8,326.5C256.8,327.2 256.5,328 256.1,328.6C255.7,329.1 255,329.6 254.4,329.8C253.7,330 252.9,330 252.2,329.8C251.6,329.6 250.9,329.1 250.5,328.6C250.1,328 249.8,327.2 249.8,326.5C249.8,325.8 250.1,325 250.5,324.4C250.9,323.9 251.6,323.4 252.2,323.2C252.9,323 253.7,323 254.4,323.2C255,323.4 255.7,323.9 256.1,324.4C256.5,325 256.8,325.8 256.8,326.5Z" fill="#fec46f"/><path d="M230.3,390C230.3,386.5 232.1,381.1 234,377.8C235.9,374.5 238.6,372.6 241.5,370.3C244.4,368 248.8,366.1 251.5,364C254.2,361.9 256.1,359.5 257.8,357.8C259.5,356.1 259.8,353.6 261.5,354C263.2,354.4 265.7,358 267.8,360.3C269.9,362.6 273.8,365.3 274,367.8C274.2,370.3 270.4,372.8 269,375.3C267.6,377.8 266.1,380 265.3,382.8C264.5,385.6 265.1,389.3 264,392C262.9,394.7 264,397.8 259,399C254,400.2 238.8,400.5 234,399C229.2,397.5 230.3,393.5 230.3,390Z" fill="#fd9350"/><path d="M239,391C239,388.8 240,385.8 241.5,384C243,382.2 245.7,380.5 247.8,380.3C249.9,380.1 252.6,381.4 254,382.8C255.4,384.2 256.5,386.6 256.5,389C256.5,391.4 256.5,395.7 254,397C251.5,398.3 244,398 241.5,397C239,396 239,393.2 239,391Z" fill="#fec46f"/><path d="M250.3,388.6C250.3,389.4 250,390.3 249.7,391C249.3,391.6 248.6,392.2 248,392.4C247.4,392.6 246.6,392.6 246,392.4C245.4,392.2 244.7,391.6 244.3,391C244,390.3 243.7,389.4 243.7,388.6C243.7,387.8 244,386.9 244.3,386.2C244.7,385.6 245.4,385 246,384.8C246.6,384.6 247.4,384.6 248,384.8C248.6,385 249.3,385.6 249.7,386.2C250,386.9 250.3,387.8 250.3,388.6Z" fill="#ffec9b"/><path d="M282.3,255C282.2,253.3 283.8,251.1 285.2,251.3C286.6,251.5 289,254.1 291,256.2C293,258.3 295.6,261.4 297.2,263.7C298.8,266 300.7,268.8 300.9,270C301.1,271.2 299.8,271.8 298.4,271.2C296.9,270.6 294.3,267.9 292.2,266.2C290.1,264.5 287.6,263.1 286,261.2C284.4,259.3 282.4,256.6 282.3,255Z" fill="#fd9350"/><path d="M290.2,336C290.6,334.8 291.9,332.7 293.5,332.7C295.1,332.7 297.9,334.6 299.7,336C301.5,337.4 304,339.5 304.2,340.9C304.4,342.3 302.5,343.8 300.9,344.2C299.3,344.6 296.3,344.1 294.7,343.4C293.1,342.6 291.8,340.9 291,339.7C290.2,338.5 289.8,337.2 290.2,336Z" fill="#fd9350"/><path d="M297.2,299.8C297.2,298.6 300.6,297.1 302.2,297.3C303.8,297.5 306.7,299.9 306.7,301.1C306.7,302.4 303.8,305 302.2,304.8C300.6,304.6 297.2,301.1 297.2,299.8Z" fill="#fd9350"/><path d="M285.5,239.5C285.5,239.9 285.4,240.4 285.2,240.7C285,241 284.7,241.3 284.5,241.4C284.2,241.5 283.8,241.5 283.5,241.4C283.3,241.3 283,241 282.8,240.7C282.6,240.4 282.5,239.9 282.5,239.5C282.5,239.1 282.6,238.6 282.8,238.3C283,238 283.3,237.7 283.5,237.6C283.8,237.5 284.2,237.5 284.5,237.6C284.7,237.7 285,238 285.2,238.3C285.4,238.6 285.5,239.1 285.5,239.5Z" fill="#fd9350"/><path d="M282,373C282,373.4 281.8,373.9 281.6,374.2C281.4,374.5 281,374.8 280.6,374.9C280.2,375 279.8,375 279.4,374.9C279,374.8 278.6,374.5 278.4,374.2C278.2,373.9 278,373.4 278,373C278,372.6 278.2,372.1 278.4,371.8C278.6,371.5 279,371.2 279.4,371.1C279.8,371 280.2,371 280.6,371.1C281,371.2 281.4,371.5 281.6,371.8C281.8,372.1 282,372.6 282,373Z" fill="#fd9350"/><path d="M279,370.9 282.8,372.4 281.5,375.4Z" fill="#fd9350"/><path d="M286,239.7C286,240 285.9,240.4 285.8,240.7C285.6,241 285.4,241.2 285.1,241.3C284.9,241.4 284.6,241.4 284.4,241.3C284.1,241.2 283.9,241 283.7,240.7C283.6,240.4 283.5,240 283.5,239.7C283.5,239.3 283.6,238.9 283.7,238.6C283.9,238.3 284.1,238.1 284.4,238C284.6,237.9 284.9,237.9 285.1,238C285.4,238.1 285.6,238.3 285.8,238.6C285.9,238.9 286,239.3 286,239.7Z" fill="#fd9350"/><path d="M255.2,200.9 258.5,202.9 256,204.9Z" fill="#fd9350"/></g><path d="M60,57.5 64.4,53.5 68,53.5 75.6,45 75.6,32.3 83,32.3 87,23.7 95,32.3 98.7,32.3 102.7,36.3 106.3,32.3 114.4,32.3 118,36 122.3,32.5 129.8,40.6 130,45 133.5,49.4 125.6,57.8 125.6,83.1 145.6,104.4 149.4,100.3 153.1,104.4 160.6,104.4 168.5,112.5 168.5,116.9 172.5,121.3 184.4,121.3 188.1,125.6 188.1,130 191.9,134 195.6,134 195.6,138.1 203.5,147.3 199.4,151.3 203.5,155.3 207.5,155.3 207.5,160 211.9,164.4 215.4,164.4 215.4,168.8 219.4,173.1 219.4,176.9 226.9,185.3 246.6,185.3 253.8,193.8 253.8,198.1 261.9,206.3 265.6,206.5 270,210.6 273.8,210.6 273.8,215 277.5,219.4 277.5,223.8 281.3,228.1 281.3,231.9 292.5,244.4 292.5,248.1 296.3,253.1 296.3,261.9 300.6,266 304.4,266 312.5,274.4 312.5,278.8 316.3,283.1 324.4,283.1 324.4,296.3 331.6,304.4 327.8,309.4 331.6,313.8 331.6,316.9 327.8,321.9 331.6,325.6 324.4,325.6 320,330 316.3,330 308.5,338.1 308.5,351.3 304.4,351.3 300.6,355.6 304.4,359.6 296.5,368.1 296.5,372.5 292.5,376.9 292.5,389.4 281.3,389.4 277.5,385.6 269.4,385.6 265.6,389.4 265.6,393.5 235,393.5 230.6,389.4 203.8,389.4 199.8,385.4 176.9,385.4 168.8,376.9 161.3,376.9 153.1,368.1 149.4,368.1 145,363.8 137.5,363.8 118.1,342.5 114.4,342.5 114.4,338.1 110.3,333.8 110.3,329.8 106.5,325.3 98.8,325.3 95,321.3 98.8,321.3 106.5,313.1 106.5,300 98.8,291.5 95,291.5 83.5,279.2 79.4,283.2 75.6,279.2 75.6,275 67.5,266.3 67.5,261.9 63.8,257.5 60,257.5 56,253.4 59.8,249.4 59.8,245 55.6,240.6 55.6,236.9 63.8,228.1 63.8,206.6 71.5,198.5 71.5,193.8 67.5,189.6 71.5,185.6 67.5,181.3 67.5,151.3 75.6,142.5 75.6,125.6 87.5,112.5 87.5,100 79.4,91.3 75.6,91.3 75.6,70 68,61.9 64.4,61.9ZM312.5,274.4H320" fill="none" stroke="#222" stroke-width="0.9" stroke-linejoin="miter"/><text x="55.9" y="376.3" font-size="23" fill="#000" stroke="#000" stroke-width="0.8">N</text><path d="M68.1,362V359H63.4L69.7,349.3L76.2,359H71.4V362Z" fill="#000"/><text x="56.6" y="394" font-size="8.7" fill="#111">UTM Zone 27p</text><rect x="56.2" y="398.3" width="75.3" height="7" fill="#fff" stroke="#222" stroke-width="0.7"/><rect x="56.2" y="398.3" width="37.8" height="7" fill="#000"/><text x="53.3" y="416" font-size="9.2" fill="#111">0</text><text x="118" y="416" font-size="9" fill="#111" textLength="39.6" lengthAdjust="spacing">10 000 m</text></g><rect x="296.3" y="49.6" width="18.4" height="35.2" fill="#fc4f2c"/><rect x="296.3" y="84.9" width="18.4" height="35.2" fill="#fd9350"/><rect x="296.3" y="120.1" width="18.4" height="35.2" fill="#fec46f"/><rect x="296.3" y="155.3" width="18.4" height="35.2" fill="#ffec9b"/><rect x="296.3" y="190.5" width="18.4" height="35.2" fill="#d7d7d7"/><path d="M296.3,49.6h18.4v176.1h-18.4zM296.3,84.9h18.4M296.3,120.1h18.4M296.3,155.3h18.4M296.3,190.5h18.4" fill="none" stroke="#2a2a2a" stroke-width="0.65"/><g font-size="9.6" text-anchor="end" fill="#111"><text x="326.6" y="85.3">10</text><text x="326.6" y="120.5">5</text><text x="326.6" y="155.8">2</text><text x="326.6" y="191">1</text><text x="326.6" y="226.2">0</text></g><text x="296.2" y="36.1" font-size="22" font-weight="bold" fill="#000">Ni</text><g font-size="9.6" text-anchor="end" fill="#111"><text x="38.8" y="10.4">1700000</text><text x="38.8" y="48.7">1695000</text><text x="38.8" y="87">1690000</text><text x="38.8" y="125.3">1685000</text><text x="38.8" y="163.6">1680000</text><text x="38.8" y="201.9">1675000</text><text x="38.8" y="240.2">1670000</text><text x="38.8" y="278.5">1665000</text><text x="38.8" y="316.8">1660000</text><text x="38.8" y="355.1">1655000</text><text x="38.8" y="393.4">1650000</text><text x="38.8" y="431.6">1645000</text></g></g>
<g transform="translate(328.4,437.3)"><rect x="44.4" y="6.2" width="298.9" height="422.3" fill="none" stroke="#555" stroke-width="1"/><path d="M44.4,428.5v4.6M81.8,428.5v4.6M119.1,428.5v4.6M156.5,428.5v4.6M193.9,428.5v4.6M231.2,428.5v4.6M268.6,428.5v4.6M305.9,428.5v4.6M343.3,428.5v4.6" stroke="#555" stroke-width="1" fill="none"/><g transform="translate(0,0)"><g clip-path="url(#isl)"><path d="M60,57.5 64.4,53.5 68,53.5 75.6,45 75.6,32.3 83,32.3 87,23.7 95,32.3 98.7,32.3 102.7,36.3 106.3,32.3 114.4,32.3 118,36 122.3,32.5 129.8,40.6 130,45 133.5,49.4 125.6,57.8 125.6,83.1 145.6,104.4 149.4,100.3 153.1,104.4 160.6,104.4 168.5,112.5 168.5,116.9 172.5,121.3 184.4,121.3 188.1,125.6 188.1,130 191.9,134 195.6,134 195.6,138.1 203.5,147.3 199.4,151.3 203.5,155.3 207.5,155.3 207.5,160 211.9,164.4 215.4,164.4 215.4,168.8 219.4,173.1 219.4,176.9 226.9,185.3 246.6,185.3 253.8,193.8 253.8,198.1 261.9,206.3 265.6,206.5 270,210.6 273.8,210.6 273.8,215 277.5,219.4 277.5,223.8 281.3,228.1 281.3,231.9 292.5,244.4 292.5,248.1 296.3,253.1 296.3,261.9 300.6,266 304.4,266 312.5,274.4 312.5,278.8 316.3,283.1 324.4,283.1 324.4,296.3 331.6,304.4 327.8,309.4 331.6,313.8 331.6,316.9 327.8,321.9 331.6,325.6 324.4,325.6 320,330 316.3,330 308.5,338.1 308.5,351.3 304.4,351.3 300.6,355.6 304.4,359.6 296.5,368.1 296.5,372.5 292.5,376.9 292.5,389.4 281.3,389.4 277.5,385.6 269.4,385.6 265.6,389.4 265.6,393.5 235,393.5 230.6,389.4 203.8,389.4 199.8,385.4 176.9,385.4 168.8,376.9 161.3,376.9 153.1,368.1 149.4,368.1 145,363.8 137.5,363.8 118.1,342.5 114.4,342.5 114.4,338.1 110.3,333.8 110.3,329.8 106.5,325.3 98.8,325.3 95,321.3 98.8,321.3 106.5,313.1 106.5,300 98.8,291.5 95,291.5 83.5,279.2 79.4,283.2 75.6,279.2 75.6,275 67.5,266.3 67.5,261.9 63.8,257.5 60,257.5 56,253.4 59.8,249.4 59.8,245 55.6,240.6 55.6,236.9 63.8,228.1 63.8,206.6 71.5,198.5 71.5,193.8 67.5,189.6 71.5,185.6 67.5,181.3 67.5,151.3 75.6,142.5 75.6,125.6 87.5,112.5 87.5,100 79.4,91.3 75.6,91.3 75.6,70 68,61.9 64.4,61.9Z" fill="#ffec9b"/><path d="M71.9,28.7C74.2,24.4 81.5,19.3 86.9,19.9C92.3,20.6 101.9,28.9 104.4,32.5C106.9,36 102.7,38.5 101.9,41.2C101.1,43.9 100.7,47.9 99.4,48.7C98.2,49.5 96.1,46.3 94.4,46.2C92.7,46.1 90.9,47.7 89.4,48.2C87.9,48.7 87.1,49.5 85.7,49.2C84.2,48.9 82.7,46.8 80.7,46.2C78.6,45.6 74.6,48.6 73.2,45.7C71.7,42.8 69.6,33 71.9,28.7Z" fill="#fec46f"/><path d="M61.9,58.7C61.9,57.6 67.1,55.8 69.4,55C71.7,54.1 74,53.3 75.7,53.7C77.3,54.1 77.9,56 79.4,57.5C80.9,58.9 83.2,60.8 84.4,62.5C85.7,64.1 87.1,65.6 86.9,67.5C86.7,69.3 84.2,71.6 83.2,73.7C82.1,75.8 81.7,78.1 80.7,80C79.6,81.8 78.2,84.3 76.9,85C75.7,85.6 73.7,86.6 73.2,83.7C72.6,80.8 74.3,71.1 73.7,67.5C73,63.8 71.4,63.2 69.4,61.7C67.4,60.2 61.9,59.8 61.9,58.7Z" fill="#d7d7d7"/><path d="M80.7,50C80.7,50.2 80.5,50.5 80.2,50.7C80,50.9 79.5,51.1 79.1,51.1C78.7,51.2 78.1,51.2 77.7,51.1C77.3,51.1 76.8,50.9 76.6,50.7C76.3,50.5 76.2,50.2 76.2,50C76.2,49.7 76.3,49.4 76.6,49.2C76.8,49 77.3,48.8 77.7,48.8C78.1,48.7 78.7,48.7 79.1,48.8C79.5,48.8 80,49 80.2,49.2C80.5,49.4 80.7,49.7 80.7,50Z" fill="#d7d7d7"/><path d="M108.2,64.2C108.2,64.8 108,65.5 107.7,66C107.5,66.4 107,66.9 106.6,67.1C106.2,67.2 105.6,67.2 105.2,67.1C104.8,66.9 104.3,66.4 104.1,66C103.8,65.5 103.7,64.8 103.7,64.2C103.7,63.6 103.8,62.9 104.1,62.4C104.3,62 104.8,61.5 105.2,61.3C105.6,61.2 106.2,61.2 106.6,61.3C107,61.5 107.5,62 107.7,62.4C108,62.9 108.2,63.6 108.2,64.2Z" fill="#d7d7d7"/><path d="M91.9,62.5C92.1,61 94.8,59.2 95.7,59.5C96.5,59.7 97.1,62.3 96.9,63.7C96.7,65.1 95.2,68.2 94.4,68C93.6,67.7 91.7,63.9 91.9,62.5Z" fill="#fec46f"/><path d="M114.4,53.7C114.4,52 117.5,50.2 119.4,48.7C121.3,47.2 123.4,46 125.7,45C127.9,43.9 131.5,41.8 133.2,42.5C134.8,43.1 136.5,46.2 135.7,48.7C134.8,51.2 129.5,51.6 128.2,57.5C126.8,63.3 127.2,78.4 127.7,83.7C128.2,89 131.9,87.6 131.2,89.2C130.4,90.8 125.1,93.1 123.2,93.2C121.2,93.3 120.6,91.7 119.4,90C118.2,88.2 116.6,84.7 116.2,82.5C115.7,80.2 116.2,77.9 116.9,76.2C117.7,74.5 119.8,74.3 120.7,72.5C121.5,70.6 122.1,67.2 121.9,65C121.7,62.7 120.7,60.6 119.4,58.7C118.2,56.8 114.4,55.4 114.4,53.7Z" fill="#fec46f"/><path d="M117.7,102.5C118,100.9 119.2,98.6 120.2,98.2C121.1,97.8 122.6,98.6 123.2,100C123.7,101.3 124.1,104.7 123.7,106.2C123.2,107.7 121.6,109 120.7,109.2C119.7,109.4 118.7,108.6 118.2,107.5C117.7,106.3 117.3,104 117.7,102.5Z" fill="#fec46f"/><path d="M164.4,132.4C164.8,130.7 166.5,127.9 168.2,126.2C169.8,124.5 171.9,123.5 174.4,122.5C176.9,121.4 181.2,119.7 183.2,120C185.1,120.2 186.6,122.3 186.2,124.2C185.7,126.1 182.4,129.2 180.7,131.2C178.9,133.2 177.5,134.9 175.7,136.2C173.8,137.4 171.1,138.6 169.4,138.7C167.7,138.8 166.5,137.7 165.7,136.7C164.8,135.7 164,134.2 164.4,132.4Z" fill="#fec46f"/><path d="M104.4,174.9C104.6,173.5 107.1,172.4 109.4,171.2C111.7,169.9 115.8,167.5 118.2,167.4C120.5,167.4 123,169.2 123.7,170.7C124.3,172.2 123.2,174.9 121.9,176.2C120.6,177.5 117.9,178.1 115.7,178.7C113.4,179.3 110,180.6 108.2,179.9C106.3,179.3 104.2,176.4 104.4,174.9Z" fill="#fec46f"/><path d="M130.7,206.9C130.7,208 130.3,209.2 129.7,210C129.1,210.9 128.1,211.6 127.2,211.9C126.3,212.3 125,212.3 124.1,211.9C123.2,211.6 122.2,210.9 121.6,210C121,209.2 120.7,208 120.7,206.9C120.7,205.9 121,204.7 121.6,203.9C122.2,203 123.2,202.3 124.1,202C125,201.6 126.3,201.6 127.2,202C128.1,202.3 129.1,203 129.7,203.9C130.3,204.7 130.7,205.9 130.7,206.9Z" fill="#fec46f"/><path d="M163.9,246.9C163.9,247.9 163.5,249.1 162.9,249.9C162.4,250.7 161.4,251.4 160.4,251.7C159.5,252 158.3,252 157.4,251.7C156.4,251.4 155.4,250.7 154.9,249.9C154.3,249.1 153.9,247.9 153.9,246.9C153.9,246 154.3,244.8 154.9,244C155.4,243.2 156.4,242.5 157.4,242.2C158.3,241.9 159.5,241.9 160.4,242.2C161.4,242.5 162.4,243.2 162.9,244C163.5,244.8 163.9,246 163.9,246.9Z" fill="#fec46f"/><path d="M121.9,262.4C122,260.6 122.7,257.7 124.4,256.2C126.1,254.7 129.6,253.7 131.9,253.7C134.2,253.7 136.7,254.9 138.2,256.2C139.6,257.4 140.9,259.4 140.7,261.2C140.4,262.9 138.8,265.4 136.9,266.7C135,268 131.6,269.1 129.4,269.2C127.2,269.3 124.9,268.6 123.7,267.4C122.4,266.3 121.8,264.3 121.9,262.4Z" fill="#fec46f"/><path d="M123.2,318.7C123.3,315.8 123.9,311.6 125.2,308.7C126.4,305.8 128.3,303.1 130.7,301.2C133,299.3 136.1,298.1 139.4,297.4C142.7,296.8 147.1,297.2 150.7,297.4C154.2,297.7 157.3,298.8 160.7,298.7C164,298.6 167.3,297 170.7,296.7C174,296.4 177.9,295.9 180.7,296.7C183.4,297.4 185.3,299 186.9,301.2C188.5,303.4 189.2,306.6 190.2,309.9C191.1,313.3 191.7,317.4 192.7,321.2C193.6,324.9 194.1,329.5 195.7,332.4C197.2,335.4 199.2,337.2 201.9,338.7C204.6,340.2 208.8,340.6 211.9,341.2C215,341.8 218.8,341.2 220.7,342.4C222.5,343.7 222.7,346.8 223.2,348.7C223.7,350.6 222.6,352.4 223.7,353.7C224.7,355 227.4,356.3 229.4,356.7C231.4,357.1 234,355.7 235.7,356.2C237.3,356.7 237.7,358.9 239.4,359.9C241.1,361 243.6,362.7 245.7,362.4C247.7,362.2 250.7,360.4 251.9,358.7C253.2,357 253.8,354.1 253.2,352.4C252.5,350.8 250.2,349.5 248.2,348.7C246.1,347.9 242.9,348.3 240.7,347.4C238.4,346.6 235.7,345.6 234.4,343.7C233.2,341.8 232.7,338.7 233.2,336.2C233.6,333.7 235.9,331.2 236.9,328.7C237.9,326.2 239.8,322.9 239.4,321.2C239,319.5 235.9,319.9 234.4,318.7C232.9,317.4 230.9,315.8 230.2,313.7C229.4,311.6 229.4,307.9 230.2,306.2C230.9,304.4 231.8,303.6 234.4,303.2C237,302.8 241.7,303.7 245.7,303.7C249.6,303.7 254.6,303.5 258.1,303.2C261.7,302.9 264.4,301.4 266.9,301.7C269.4,302 271.8,303.9 273.1,304.9C274.5,306 273.8,305.8 275.2,308.2C276.6,310.6 279.9,316.1 281.4,319.4C282.9,322.7 283.8,324.6 284.4,328.1C285,331.6 284.4,337.6 285.1,340.6C285.9,343.6 287.4,345.6 288.9,346C290.4,346.4 293.3,344.9 293.9,343C294.5,341.1 293.2,336.6 292.6,334.3C292,332 289.7,331.2 290.1,329.3C290.5,327.4 294.1,325.4 295.1,323.1C296.1,320.8 296.3,318.2 295.9,315.7C295.5,313.2 292.7,310.7 292.6,308.2C292.5,305.7 293.9,303 295.1,300.7C296.4,298.4 298,296.6 300.1,294.5C302.2,292.4 304.9,290.6 307.5,288.3C310.1,286.1 310.6,281.6 316,281C321.4,280.4 335.2,276.8 340,285C344.8,293.2 348.3,319.2 345,330C341.7,340.8 325.8,338.3 320,350C314.2,361.7 331.7,391.3 310,400C288.3,408.7 210.2,404.3 190,402C169.8,399.7 188.5,390.1 188.7,386.2C188.8,382.3 189.7,381.2 190.7,378.7C191.6,376.2 193.4,373.7 194.4,371.2C195.4,368.7 197.3,365.8 196.9,363.7C196.5,361.6 194.2,360.2 191.9,358.7C189.6,357.2 186.3,356.2 183.2,354.9C180,353.7 176.1,352.9 173.2,351.2C170.2,349.5 167.4,347.4 165.7,344.9C163.9,342.4 163.3,339.5 162.7,336.2C162,332.9 162.4,328.1 161.9,324.9C161.4,321.8 160.4,319.1 159.4,317.4C158.4,315.8 157.1,314.7 155.7,314.9C154.2,315.2 152.5,317 150.7,318.7C148.8,320.4 146.7,323.1 144.4,324.9C142.1,326.8 139.4,328.8 136.9,329.9C134.4,331.1 131.5,332.3 129.4,331.7C127.3,331.1 125.4,328.4 124.4,326.2C123.4,324 123,321.6 123.2,318.7Z" fill="#fec46f"/><path d="M200.2,363.7C200.4,362.7 202.7,361.1 204.4,359.9C206.2,358.8 208.4,357.2 210.7,356.7C212.9,356.2 216.6,355.9 218.2,356.7C219.7,357.4 220.6,359.8 220.2,361.2C219.7,362.6 217.7,364 215.7,364.9C213.7,365.9 210.3,366.5 208.2,366.7C206,366.9 204,366.7 202.7,366.2C201.3,365.7 199.9,364.7 200.2,363.7Z" fill="#ffec9b"/><path d="M268.1,372.4C268.1,370.7 269.4,368.5 270.6,366.2C271.9,363.9 274,360.4 275.6,358.7C277.3,356.9 279.5,355.3 280.6,355.7C281.8,356.1 282.6,359 282.6,361.2C282.6,363.4 281.6,366.4 280.6,368.7C279.7,371 278.6,373.6 276.9,374.9C275.2,376.3 272.1,377.1 270.6,376.7C269.2,376.3 268.1,374.2 268.1,372.4Z" fill="#ffec9b"/><path d="M231.9,392.4C226.9,391.2 235.4,386.6 238.2,384.9C240.9,383.3 244.8,382.7 248.2,382.4C251.5,382.2 255.2,382.9 258.1,383.7C261.1,384.5 264,386 265.6,387.4C267.3,388.9 273.8,391.6 268.1,392.4C262.5,393.3 236.9,393.7 231.9,392.4Z" fill="#ffec9b"/><path d="M303.8,325.6C304.2,323.7 305.7,321.3 307.6,319.4C309.5,317.5 312.3,315.8 315,314.4C317.7,312.9 320.7,311.5 323.7,310.7C326.7,309.9 331.4,308.2 333,309.4C334.6,310.6 334.1,315.8 333,318.1C331.9,320.4 328.8,321.6 326.2,323.1C323.6,324.6 320.2,325.6 317.5,326.9C314.8,328.2 312.1,330.5 310,331.1C307.9,331.7 306.1,331.5 305.1,330.6C304.1,329.7 303.4,327.5 303.8,325.6Z" fill="#ffec9b"/><path d="M121.9,349.2C124,348.4 128.8,344.8 131.9,343.7C135,342.6 137.9,342.4 140.7,342.4C143.4,342.4 146.3,342.9 148.2,343.7C150,344.5 151.7,346 151.9,347.4C152.1,348.9 150.4,350.6 149.4,352.4C148.4,354.3 146.2,356.5 145.7,358.7C145.1,360.9 147.4,364.5 146.2,365.7C144.9,366.9 142.6,368.5 138.2,365.7C133.7,362.9 122.1,351.4 119.4,348.7C116.7,345.9 119.8,350 121.9,349.2Z" fill="#fec46f"/><path d="M155.2,367.4 160.7,365.7 162.4,375.7 156.9,373.2Z" fill="#fec46f"/><path d="M270.5,278C270.5,278.2 270.4,278.4 270.3,278.6C270.2,278.7 270,278.9 269.8,279C269.6,279 269.4,279 269.2,279C269,278.9 268.8,278.7 268.7,278.6C268.6,278.4 268.5,278.2 268.5,278C268.5,277.8 268.6,277.6 268.7,277.4C268.8,277.3 269,277.1 269.2,277C269.4,277 269.6,277 269.8,277C270,277.1 270.2,277.3 270.3,277.4C270.4,277.6 270.5,277.8 270.5,278Z" fill="#fec46f"/></g><path d="M60,57.5 64.4,53.5 68,53.5 75.6,45 75.6,32.3 83,32.3 87,23.7 95,32.3 98.7,32.3 102.7,36.3 106.3,32.3 114.4,32.3 118,36 122.3,32.5 129.8,40.6 130,45 133.5,49.4 125.6,57.8 125.6,83.1 145.6,104.4 149.4,100.3 153.1,104.4 160.6,104.4 168.5,112.5 168.5,116.9 172.5,121.3 184.4,121.3 188.1,125.6 188.1,130 191.9,134 195.6,134 195.6,138.1 203.5,147.3 199.4,151.3 203.5,155.3 207.5,155.3 207.5,160 211.9,164.4 215.4,164.4 215.4,168.8 219.4,173.1 219.4,176.9 226.9,185.3 246.6,185.3 253.8,193.8 253.8,198.1 261.9,206.3 265.6,206.5 270,210.6 273.8,210.6 273.8,215 277.5,219.4 277.5,223.8 281.3,228.1 281.3,231.9 292.5,244.4 292.5,248.1 296.3,253.1 296.3,261.9 300.6,266 304.4,266 312.5,274.4 312.5,278.8 316.3,283.1 324.4,283.1 324.4,296.3 331.6,304.4 327.8,309.4 331.6,313.8 331.6,316.9 327.8,321.9 331.6,325.6 324.4,325.6 320,330 316.3,330 308.5,338.1 308.5,351.3 304.4,351.3 300.6,355.6 304.4,359.6 296.5,368.1 296.5,372.5 292.5,376.9 292.5,389.4 281.3,389.4 277.5,385.6 269.4,385.6 265.6,389.4 265.6,393.5 235,393.5 230.6,389.4 203.8,389.4 199.8,385.4 176.9,385.4 168.8,376.9 161.3,376.9 153.1,368.1 149.4,368.1 145,363.8 137.5,363.8 118.1,342.5 114.4,342.5 114.4,338.1 110.3,333.8 110.3,329.8 106.5,325.3 98.8,325.3 95,321.3 98.8,321.3 106.5,313.1 106.5,300 98.8,291.5 95,291.5 83.5,279.2 79.4,283.2 75.6,279.2 75.6,275 67.5,266.3 67.5,261.9 63.8,257.5 60,257.5 56,253.4 59.8,249.4 59.8,245 55.6,240.6 55.6,236.9 63.8,228.1 63.8,206.6 71.5,198.5 71.5,193.8 67.5,189.6 71.5,185.6 67.5,181.3 67.5,151.3 75.6,142.5 75.6,125.6 87.5,112.5 87.5,100 79.4,91.3 75.6,91.3 75.6,70 68,61.9 64.4,61.9ZM312.5,274.4H320" fill="none" stroke="#222" stroke-width="0.9" stroke-linejoin="miter"/><text x="55.9" y="376.3" font-size="23" fill="#000" stroke="#000" stroke-width="0.8">N</text><path d="M68.1,362V359H63.4L69.7,349.3L76.2,359H71.4V362Z" fill="#000"/><text x="56.6" y="394" font-size="8.7" fill="#111">UTM Zone 27p</text><rect x="56.2" y="398.3" width="75.3" height="7" fill="#fff" stroke="#222" stroke-width="0.7"/><rect x="56.2" y="398.3" width="37.8" height="7" fill="#000"/><text x="53.3" y="416" font-size="9.2" fill="#111">0</text><text x="118" y="416" font-size="9" fill="#111" textLength="39.6" lengthAdjust="spacing">10 000 m</text></g><rect x="301.4" y="48.6" width="18.4" height="35.2" fill="#fc4f2c"/><rect x="301.4" y="83.8" width="18.4" height="35.2" fill="#fd9350"/><rect x="301.4" y="119" width="18.4" height="35.2" fill="#fec46f"/><rect x="301.4" y="154.3" width="18.4" height="35.2" fill="#ffec9b"/><rect x="301.4" y="189.5" width="18.4" height="35.2" fill="#d7d7d7"/><path d="M301.4,48.6h18.4v176.1h-18.4zM301.4,83.8h18.4M301.4,119h18.4M301.4,154.3h18.4M301.4,189.5h18.4" fill="none" stroke="#2a2a2a" stroke-width="0.65"/><g font-size="9.6" text-anchor="end" fill="#111"><text x="331.7" y="84.3">10</text><text x="331.7" y="119.5">5</text><text x="331.7" y="154.7">2</text><text x="331.7" y="189.9">1</text><text x="331.7" y="225.1">0</text></g><text x="300.2" y="36.1" font-size="22" font-weight="bold" fill="#000">V</text></g>
<!--P6-->
<defs><clipPath id="isl6"><path d="M61.7,56 62.8,55 63.8,54.2 64.8,53.8 65.8,53.5 66.7,53.5 67.8,53 69.2,51.9 70.8,50.3 72.8,48.2 74.2,45.8 75.1,43.2 75.6,40.2 75.6,37.1 76.1,34.7 77,33.1 78.4,32.3 80.2,32.3 81.9,31.8 83.3,30.7 84.5,29.1 85.5,26.9 86.8,25.8 88.2,25.8 90,26.9 92,29.1 93.7,30.7 95.2,31.8 96.4,32.3 97.3,32.3 98.3,32.5 99.2,33 100.2,33.8 101.2,34.8 102.2,35.3 103.1,35.3 104,34.8 105,33.8 106.1,33 107.6,32.5 109.3,32.3 111.4,32.3 113.1,32.5 114.6,33 115.8,33.7 116.6,34.6 117.6,35.1 118.6,35.1 119.6,34.7 120.7,33.8 122,33.7 123.4,34.2 125.1,35.5 127,37.6 128.4,39.4 129.4,40.9 129.9,42.2 129.9,43.3 130.2,44.4 130.6,45.6 131.3,46.7 132.2,47.7 132.3,49.1 131.8,50.7 130.5,52.5 128.6,54.6 127.1,57.8 126.1,62 125.6,67.3 125.6,73.6 126.8,79.7 129.3,85.5 133.1,91.1 138.1,96.4 142.1,100.2 145.1,102.3 147,102.9 148,101.8 148.9,101.3 149.9,101.3 150.8,101.8 151.7,102.9 152.9,103.6 154.3,104.1 155.9,104.4 157.8,104.4 159.7,104.9 161.6,105.9 163.6,107.4 165.5,109.5 167,111.3 168,112.8 168.5,114.1 168.5,115.2 168.8,116.4 169.2,117.5 170,118.6 171,119.6 172.5,120.5 174.5,121 177,121.3 179.9,121.3 182.4,121.6 184.4,122.1 185.8,122.9 186.7,124 187.4,125.1 187.9,126.2 188.1,127.2 188.1,128.4 188.3,129.4 188.8,130.5 189.5,131.5 190.5,132.5 191.4,133.2 192.4,133.8 193.3,134 194.2,134 194.9,134.3 195.4,134.8 195.6,135.5 195.6,136.6 196.1,137.9 197.1,139.6 198.6,141.5 200.5,143.8 201.8,145.8 202.2,147.5 202,148.8 200.9,149.8 200.4,150.8 200.4,151.8 200.9,152.8 202,153.8 203,154.6 204,155.1 205,155.3 206,155.3 206.8,155.6 207.2,156.2 207.5,157.1 207.5,158.2 207.8,159.4 208.3,160.5 209.1,161.6 210.3,162.8 211.3,163.6 212.3,164.1 213.2,164.4 214.1,164.4 214.7,164.7 215.2,165.2 215.4,166.1 215.4,167.2 215.7,168.2 216.2,169.3 216.9,170.4 217.9,171.5 218.7,172.5 219.2,173.5 219.4,174.5 219.4,175.5 219.9,176.7 220.8,178.2 222.2,180.1 224.1,182.2 226.7,183.7 230.1,184.8 234.3,185.3 239.2,185.3 243.4,185.8 246.7,186.9 249.3,188.5 251.1,190.6 252.5,192.5 253.4,194.1 253.8,195.4 253.8,196.5 254.3,197.8 255.3,199.4 256.8,201.2 258.9,203.2 260.6,204.8 262.1,205.8 263.3,206.4 264.2,206.4 265.2,206.7 266.2,207.3 267.2,208 268.4,209.1 269.4,209.8 270.4,210.3 271.4,210.6 272.4,210.6 273.1,210.9 273.6,211.4 273.8,212.2 273.8,213.4 274,214.5 274.5,215.5 275.2,216.6 276.1,217.8 276.8,218.9 277.3,219.9 277.5,221.1 277.5,222.2 277.7,223.2 278.2,224.3 278.9,225.4 279.9,226.5 280.6,227.5 281.1,228.5 281.3,229.5 281.3,230.5 282,232 283.4,234 285.5,236.6 288.3,239.7 290.4,242.3 291.8,244.3 292.5,245.8 292.5,246.7 292.7,247.7 293.2,248.8 293.9,250 294.9,251.2 295.6,252.7 296.1,254.4 296.3,256.4 296.3,258.6 296.6,260.5 297.1,262.1 297.9,263.4 299,264.5 300,265.2 301,265.7 302,266 303,266 304.2,266.5 305.7,267.6 307.4,269.1 309.5,271.2 311,273.1 312,274.7 312.5,276.1 312.5,277.2 312.7,278.2 313.2,279.3 313.9,280.4 314.9,281.5 316.1,282.3 317.6,282.8 319.3,283.1 321.4,283.1 322.9,283.9 323.9,285.6 324.4,288.1 324.4,291.4 324.8,294.3 325.8,297 327.1,299.3 328.9,301.4 330,303.2 330.4,304.8 330.2,306.3 329.2,307.5 328.8,308.7 328.8,309.9 329.2,311.1 330.2,312.2 330.9,313.2 331.4,314.1 331.6,315 331.6,315.7 331.4,316.6 330.9,317.6 330.2,318.8 329.2,320 328.8,321.2 328.8,322.3 329.2,323.3 330.2,324.2 330.4,324.9 330,325.4 328.9,325.6 327.1,325.6 325.5,325.9 324,326.4 322.8,327.2 321.6,328.4 320.6,329.2 319.6,329.7 318.6,330 317.7,330 316.5,330.5 315.1,331.5 313.4,333 311.4,335.1 310,337.4 309,340.1 308.5,343.1 308.5,346.4 308.2,348.8 307.7,350.5 307,351.3 305.9,351.3 304.9,351.6 303.9,352.1 303,352.9 302,354 301.6,355 301.6,356.1 302,357.1 303,358.1 303.2,359.4 302.7,360.9 301.4,362.8 299.5,364.9 298,366.8 297,368.4 296.5,369.8 296.5,370.8 296.2,371.9 295.8,373.1 295,374.2 294,375.2 293.2,376.9 292.8,379 292.5,381.6 292.5,384.7 291.8,387.1 290.4,388.6 288.3,389.4 285.5,389.4 283.2,389.2 281.3,388.7 279.9,388 278.9,387 277.7,386.3 276.2,385.8 274.5,385.6 272.4,385.6 270.7,385.8 269.2,386.3 268,387 267,388 266.3,388.9 265.8,389.9 265.6,390.9 265.6,392 263.7,392.7 259.9,393.2 254.1,393.5 246.5,393.5 240.5,393.2 236.1,392.7 233.4,392 232.2,390.9 229.7,390.2 225.8,389.7 220.5,389.4 213.9,389.4 208.6,389.1 204.7,388.6 202.3,387.9 201.3,386.9 199.1,386.1 195.8,385.6 191.2,385.4 185.5,385.4 180.7,384.9 176.8,383.8 173.9,382.2 171.8,380.1 169.9,378.5 167.9,377.4 166,376.9 164.1,376.9 162.2,376.3 160.2,375.2 158.2,373.6 156.2,371.4 154.4,369.8 152.9,368.7 151.7,368.1 150.8,368.1 149.8,367.8 148.8,367.3 147.8,366.5 146.6,365.4 145.4,364.6 143.9,364.1 142.2,363.8 140.3,363.8 137.7,362.5 134.3,359.8 130.2,355.8 125.4,350.5 121.5,346.5 118.6,343.8 116.7,342.5 115.8,342.5 115.1,342.2 114.6,341.7 114.4,340.8 114.4,339.8 114.1,338.7 113.6,337.6 112.9,336.5 111.8,335.4 111.1,334.4 110.6,333.3 110.3,332.3 110.3,331.3 110.1,330.3 109.6,329.2 108.9,328.1 107.9,327 106.7,326.1 105.3,325.6 103.6,325.3 101.7,325.3 100,325.1 98.6,324.6 97.4,323.8 96.4,322.8 96,322.1 96,321.6 96.4,321.3 97.4,321.3 98.6,320.8 100,319.8 101.7,318.2 103.6,316.2 105.1,313.8 106,311.2 106.5,308.2 106.5,304.9 106,301.9 105.1,299.2 103.6,296.8 101.7,294.7 100,293.1 98.6,292 97.4,291.5 96.4,291.5 95,290.7 93.1,289.2 90.7,286.9 87.8,283.8 85.4,281.8 83.4,280.7 82,280.7 80.9,281.7 79.9,282.2 78.9,282.2 78,281.7 77,280.7 76.3,279.7 75.8,278.7 75.6,277.6 75.6,276.6 75.1,275.2 74.1,273.6 72.6,271.7 70.5,269.6 69,267.7 68,266 67.5,264.7 67.5,263.6 67.3,262.4 66.8,261.3 66.1,260.2 65.2,259.1 64.3,258.3 63.3,257.8 62.4,257.5 61.4,257.5 60.5,257.2 59.5,256.7 58.5,256 57.5,254.9 57,253.9 57,252.9 57.4,251.9 58.4,250.9 59.1,249.9 59.6,248.8 59.8,247.8 59.8,246.6 59.5,245.5 59,244.5 58.2,243.4 57.2,242.2 56.4,241.2 55.9,240.2 55.6,239.2 55.6,238.3 56.1,237 57.1,235.5 58.7,233.6 60.7,231.4 62.3,228.4 63.3,224.6 63.8,220 63.8,214.7 64.3,210.1 65.2,206.4 66.7,203.6 68.6,201.5 70.1,199.7 71,198.1 71.5,196.7 71.5,195.6 71.2,194.4 70.8,193.3 70,192.2 69,191.2 68.5,190.1 68.5,189.1 69,188.1 70,187.1 70.5,186.1 70.5,185 70,184 69,182.9 68.2,180.2 67.8,175.9 67.5,170.1 67.5,162.6 68,156.4 69,151.5 70.5,148 72.6,145.8 74.1,143.1 75.1,139.9 75.6,136.2 75.6,131.9 76.3,127.9 77.8,124.2 80.1,120.7 83,117.4 85.3,114.2 86.8,111 87.5,107.8 87.5,104.7 87,101.8 86,99.2 84.5,96.7 82.4,94.6 80.7,92.9 79.2,91.8 78,91.3 77,91.3 76.3,90 75.8,87.3 75.6,83.3 75.6,78 75.1,73.5 74.2,69.8 72.8,67 70.8,64.9 69.2,63.4 67.8,62.4 66.7,61.9 65.8,61.9 64.8,61.6 63.8,61.1 62.8,60.2 61.7,59.2 61.1,58.1 61.1,57Z" transform="translate(653.4,437.1) scale(1.007,1.002)"/></clipPath></defs>
<g transform="translate(655.4,437.3)"><rect x="44.4" y="6.2" width="298.9" height="422.3" fill="none" stroke="#555" stroke-width="1"/><path d="M44.4,428.5v4.6M81.8,428.5v4.6M119.1,428.5v4.6M156.5,428.5v4.6M193.9,428.5v4.6M231.2,428.5v4.6M268.6,428.5v4.6M305.9,428.5v4.6M343.3,428.5v4.6" stroke="#555" stroke-width="1" fill="none"/><text x="55.9" y="376.3" font-size="23" fill="#000" stroke="#000" stroke-width="0.8">N</text><path d="M68.1,362V359H63.4L69.7,349.3L76.2,359H71.4V362Z" fill="#000"/><text x="56.6" y="394" font-size="8.7" fill="#111">UTM Zone 27p</text><rect x="56.2" y="398.3" width="75.3" height="7" fill="#fff" stroke="#222" stroke-width="0.7"/><rect x="56.2" y="398.3" width="37.8" height="7" fill="#000"/><text x="53.3" y="416" font-size="9.2" fill="#111">0</text><text x="118" y="416" font-size="9" fill="#111" textLength="39.6" lengthAdjust="spacing">10 000 m</text></g>
<g clip-path="url(#isl6)"><rect x="700" y="444" width="300" height="422" fill="#ffb3f6"/><path d="M739.1,462.5C740.1,462.2 744.5,464.5 746.9,465.6C749.2,466.8 751,468.5 753.1,469.5C755.2,470.6 757.8,472.1 759.4,471.9C760.9,471.6 760.9,468.5 762.5,468C764.1,467.4 766.4,468.4 768.8,468.8C771.1,469.1 775,469.7 776.6,470.3C778.1,471 778.6,472 778.1,472.7C777.6,473.3 775,473.8 773.4,474.2C771.9,474.6 769.7,473.8 768.8,475C767.8,476.2 768.8,479.6 768,481.2C767.2,482.9 765.1,483.5 764.1,485.2C763,486.8 762.8,490.2 761.7,490.9C760.7,491.7 758.3,491.5 757.8,489.8C757.4,488.2 758.7,483.6 759.1,481.2C759.5,478.9 760.9,476.8 760.2,475.8C759.4,474.7 756.4,475.5 754.7,475C753,474.5 751.6,473.4 750,472.7C748.4,471.9 746.8,471.2 745.3,470.3C743.8,469.5 742,468.8 740.9,467.5C739.9,466.2 738.1,462.8 739.1,462.5Z" fill="#0bea4e"/><path d="M728.9,471.1C729.4,469.8 731.2,469.2 732.8,468.8C734.4,468.3 737,467.7 738.3,468.4C739.5,469.2 740.7,472.1 740.3,473.4C740,474.8 737.5,475.5 736.2,476.6C735,477.7 733.9,480 732.8,480C731.8,480 730.7,478 730,476.6C729.3,475.1 728.4,472.4 728.9,471.1Z" fill="#fb1414"/><path d="M773.1,491.9C773.6,491 774.9,489.8 775.8,489.8C776.6,489.9 777.9,491 778.1,492.2C778.4,493.4 778,496 777.3,496.9C776.7,497.8 775,497.9 774.2,497.7C773.4,497.4 772.8,496.3 772.7,495.3C772.5,494.3 772.6,492.8 773.1,491.9Z" fill="#fb1414"/><path d="M715.6,496.1C715.9,494.7 717.7,493.2 719.5,492.2C721.4,491.1 724.1,490.4 726.6,489.8C729,489.3 731.8,488.8 734.4,489.1C737,489.3 740.1,490.4 742.2,491.4C744.3,492.4 746.4,493.6 746.9,495.3C747.4,497 746.6,500.1 745.3,501.6C744,503 741.4,503.6 739.1,503.9C736.7,504.2 733.9,503.3 731.2,503.1C728.6,503 725.7,503.5 723.4,503.1C721.2,502.7 719.3,502 718,500.8C716.7,499.6 715.4,497.5 715.6,496.1Z" fill="url(#tra)"/><path d="M753.1,495.3C753.8,494.2 756.3,493.3 757.8,493.4C759.3,493.6 761.5,494.9 762.2,496.1C762.8,497.3 762.6,499.7 761.7,500.8C760.9,501.8 758.3,502.5 757,502.3C755.7,502.2 754.6,501.2 753.9,500C753.3,498.8 752.5,496.4 753.1,495.3Z" fill="url(#tra)"/><path d="M743.8,556.2C744.4,555.2 746.6,554.2 748.4,553.9C750.3,553.6 753.1,553.9 754.7,554.7C756.3,555.5 758.1,557.3 758.1,558.6C758.1,559.9 756.3,561.8 754.7,562.5C753.1,563.2 750.1,563.2 748.4,562.8C746.7,562.4 745.3,561.2 744.5,560.2C743.8,559.1 743.1,557.3 743.8,556.2Z" fill="url(#tra)"/><path d="M735.9,567.2C736.3,565.6 738.6,564.6 739.8,564.8C741.1,565.1 743,567.3 743.4,568.8C743.8,570.2 743.2,572.5 742.2,573.4C741.2,574.3 738.5,575.3 737.5,574.2C736.5,573.2 735.5,568.8 735.9,567.2Z" fill="url(#tra)"/><path d="M735.2,578.9C735.6,577.8 737.8,577.1 739.1,577.3C740.3,577.6 742.2,579.2 742.5,580.5C742.8,581.7 741.7,584.1 740.6,584.7C739.6,585.3 737.2,585 736.2,584.1C735.3,583.1 734.7,580 735.2,578.9Z" fill="url(#tra)"/><path d="M768.8,483.6C769.2,482.6 771.6,482.1 772.7,482.5C773.7,482.9 774.8,484.8 775,485.9C775.2,487 774.6,488.6 773.8,489.1C772.9,489.5 770.8,489.7 770,488.8C769.2,487.8 768.3,484.6 768.8,483.6Z" fill="#38b6f3"/><path d="M768,496.1C768.4,494.8 769.7,493.9 771.1,493.8C772.5,493.6 775.3,494.1 776.2,495.3C777.2,496.5 777.1,499.4 776.6,500.8C776,502.1 774.4,503.3 773.1,503.4C771.8,503.6 769.6,502.8 768.8,501.6C767.9,500.3 767.6,497.4 768,496.1Z" fill="#38b6f3"/><path d="M751.6,518.8C751.9,517.6 753.4,516 754.7,515.6C756,515.2 758.4,515.5 759.4,516.4C760.4,517.3 761,519.9 760.6,521.1C760.2,522.3 758.3,523.5 757,523.8C755.7,524 753.7,523.5 752.8,522.7C751.9,521.8 751.2,519.9 751.6,518.8Z" fill="#38b6f3"/><path d="M761.7,519.5C762,518.5 763.5,517.2 764.4,517.2C765.3,517.2 766.8,518.5 767.2,519.5C767.5,520.5 767.1,522.5 766.4,523.1C765.7,523.8 763.6,524 762.8,523.4C762,522.8 761.5,520.6 761.7,519.5Z" fill="#38b6f3"/><path d="M750,535.6C750.4,534.8 752.8,534.2 753.9,534.4C755,534.6 756.4,535.8 756.6,536.7C756.7,537.6 755.9,539.4 755,539.8C754.1,540.3 752.1,540.1 751.2,539.4C750.4,538.7 749.6,536.5 750,535.6Z" fill="#38b6f3"/><path d="M755.5,549.2C755.9,548.3 758,547.5 759.1,547.7C760.1,547.8 761.5,549.1 761.7,550C762,550.9 761.5,552.6 760.6,553.1C759.8,553.6 757.4,553.8 756.6,553.1C755.7,552.5 755.1,550.1 755.5,549.2Z" fill="#38b6f3"/><path d="M816.4,546.1C816.8,545.4 818.4,545 819.1,545.3C819.8,545.7 820.7,547.3 820.6,548.1C820.6,549 819.4,550.1 818.8,550.3C818.1,550.5 817,549.9 816.6,549.2C816.2,548.5 816,546.7 816.4,546.1Z" fill="#38b6f3"/><path d="M729.7,582.5C730,581.8 731.4,581 732,581.2C732.7,581.5 733.8,582.9 733.8,583.8C733.8,584.6 732.7,586 732,586.2C731.4,586.5 730.4,585.9 730,585.3C729.6,584.7 729.3,583.2 729.7,582.5Z" fill="#38b6f3"/><path d="M744.5,485.9C744.8,485.3 746.4,484.8 746.9,485.2C747.4,485.5 747.9,487.6 747.7,488.3C747.4,488.9 745.8,489.5 745.3,489.1C744.8,488.7 744.3,486.6 744.5,485.9Z" fill="#38b6f3"/><path d="M776.6,515.6 778.9,516.4 778.1,518.8Z" fill="#38b6f3"/><path d="M744.5,498.4C744.8,497.3 747.1,496.4 748.4,496.6C749.7,496.7 751.8,498.2 752.3,499.2C752.9,500.3 752.5,502.1 751.6,502.8C750.7,503.5 748,504.2 746.9,503.4C745.7,502.7 744.3,499.6 744.5,498.4Z" fill="url(#hat)"/><path d="M728.1,516.4C728.9,515.5 732,514.5 733.6,515.6C735.2,516.8 735.9,520.8 737.5,523.4C739.1,526 742.2,529.5 743,531.2C743.8,533 743.2,533.8 742.2,534.1C741.1,534.3 738.7,533.9 736.7,532.8C734.8,531.7 731.8,529.3 730.5,527.3C729.2,525.4 729.3,522.9 728.9,521.1C728.5,519.3 727.3,517.3 728.1,516.4Z" fill="url(#hat)"/><path d="M789.8,550 793.8,542.2 800,539.8" fill="none" stroke="#f6f03c" stroke-width="0.7" stroke-linejoin="round" stroke-linecap="round"/><path d="M800,553.1 807.8,548.4 812.5,543.8" fill="none" stroke="#f6f03c" stroke-width="0.7" stroke-linejoin="round" stroke-linecap="round"/><path d="M762.5,551.6 767.2,557.8 771.9,559.4" fill="none" stroke="#f6f03c" stroke-width="0.7" stroke-linejoin="round" stroke-linecap="round"/><path d="M735.9,557.8 740.6,562.5" fill="none" stroke="#f6f03c" stroke-width="0.7" stroke-linejoin="round" stroke-linecap="round"/><path d="M790.6,585.9 800,575 809.4,568.8 811.7,564.1" fill="none" stroke="#f6f03c" stroke-width="0.7" stroke-linejoin="round" stroke-linecap="round"/><path d="M835.9,585.9 845.3,582.8 853.1,579.7" fill="none" stroke="#f6f03c" stroke-width="0.7" stroke-linejoin="round" stroke-linecap="round"/><path d="M776.6,509.4 778.9,510.9" fill="none" stroke="#f6f03c" stroke-width="0.7" stroke-linejoin="round" stroke-linecap="round"/><path d="M735.2,509.4 739.1,506.2" fill="none" stroke="#f6f03c" stroke-width="0.7" stroke-linejoin="round" stroke-linecap="round"/><path d="M751.6,622.2C752.9,620.2 756.8,618.5 759.4,616.7C762,614.9 765.1,613.2 767.2,611.2C769.3,609.3 770.3,606.3 771.9,605C773.4,603.7 775,602.7 776.6,603.4C778.1,604.2 779.8,607.6 781.2,609.7C782.7,611.8 783.9,614.1 785.2,615.9C786.5,617.8 788.2,618.3 789.1,620.6C790,623 790.1,626.9 790.6,630C791.1,633.1 791.9,636.2 792.2,639.4C792.4,642.5 791.9,645.9 792.2,648.8C792.4,651.6 792.4,654.2 793.8,656.6C795.1,658.9 797.9,660.7 800,662.8C802.1,664.9 804.9,667.2 806.2,669.1C807.6,670.9 808.3,672.4 807.8,673.8C807.3,675.1 805.2,676.2 803.1,676.9C801,677.5 797.9,677.9 795.3,677.7C792.7,677.4 789.8,676.2 787.5,675.3C785.2,674.4 783.6,673.2 781.2,672.2C778.9,671.1 776,670.4 773.4,669.1C770.8,667.8 768.2,665.4 765.6,664.4C763,663.3 760.2,662.8 757.8,662.8C755.5,662.8 753.4,663.1 751.6,664.4C749.7,665.7 748.7,669.1 746.9,670.6C745.1,672.2 743.2,672.7 740.6,673.8C738,674.8 733.6,676.1 731.2,676.9C728.9,677.7 727.5,678.7 726.6,678.4C725.7,678.2 725,676.6 725.8,675.3C726.6,674 729,671.9 731.2,670.6C733.5,669.3 736.5,668.8 739.1,667.5C741.7,666.2 745.1,664.4 746.9,662.8C748.7,661.2 750.5,659.4 750,658.1C749.5,656.8 746.1,655.8 743.8,655C741.4,654.2 738.5,654 735.9,653.4C733.3,652.9 730.2,652.7 728.1,651.9C726,651.1 724,649.8 723.4,648.8C722.9,647.7 723.4,646.1 725,645.6C726.6,645.1 730.2,646.1 732.8,645.6C735.4,645.1 738.5,643.8 740.6,642.5C742.7,641.2 744.3,639.4 745.3,637.8C746.4,636.2 745.8,634.7 746.9,633.1C747.9,631.6 750.8,630.3 751.6,628.4C752.3,626.6 750.3,624.1 751.6,622.2Z" fill="#b566fb"/><path d="M782.8,608.1C783.1,606.6 786.2,606 787.5,606.6C788.8,607.1 790.2,609.4 790.6,611.2C791,613.1 790.6,616.7 789.8,617.5C789.1,618.3 787.1,617.5 785.9,615.9C784.8,614.4 782.6,609.7 782.8,608.1Z" fill="#b566fb"/><path d="M796.2,621.1C797.4,619.6 801.6,618.7 804.9,618C808.2,617.3 813.2,617.7 816.1,616.8C819,615.8 820,613.8 822.3,612.4C824.6,611.1 827.9,610.3 829.8,608.7C831.7,607 831.9,604.4 833.5,602.4C835.2,600.5 837.1,598.4 839.8,596.8C842.5,595.3 847,593.9 849.7,593.1C852.4,592.3 854.7,591.6 855.9,591.9C857.2,592.2 858.2,594 857.2,595C856.1,595.9 852.2,596.4 849.7,597.5C847.2,598.5 844.1,599.5 842.2,601.2C840.4,602.9 838.5,606 838.5,607.4C838.5,608.9 841.2,609.1 842.2,609.9C843.3,610.7 846,611.8 844.7,612.4C843.5,613 837.7,613.2 834.8,613.7C831.9,614.1 829.4,613.9 827.3,614.9C825.2,615.9 824.4,618.4 822.3,619.9C820.3,621.3 817.8,622.6 814.9,623.6C812,624.6 807.8,625.5 804.9,626.1C802,626.7 798.9,628.2 797.4,627.3C796,626.5 794.9,622.7 796.2,621.1Z" fill="#ff8214"/><path d="M818.6,634.8C819,633.8 822.1,632.7 823.6,631.1C825,629.4 827.3,626.5 827.3,624.9C827.3,623.2 823.2,622.5 823.6,621.1C824,619.8 827.3,618 829.8,616.8C832.3,615.5 836,614 838.5,613.7C841,613.3 842.9,615.3 844.7,614.9C846.6,614.5 847.6,612.4 849.7,611.2C851.8,609.9 854.7,608.7 857.2,607.4C859.7,606.2 862.6,603.9 864.7,603.7C866.7,603.5 869.2,604.9 869.6,606.2C870,607.4 866.7,609.7 867.1,611.2C867.6,612.6 871.7,613.4 872.1,614.9C872.5,616.3 870.9,618.8 869.6,619.9C868.4,620.9 865.1,620.1 864.7,621.1C864.2,622.2 867.6,624.6 867.1,626.1C866.7,627.6 864.2,629 862.2,629.8C860.1,630.7 856.8,630 854.7,631.1C852.6,632.1 851.8,635 849.7,636.1C847.6,637.1 844.3,637.7 842.2,637.3C840.2,636.9 838.9,633.8 837.3,633.6C835.6,633.4 833.9,635.2 832.3,636.1C830.6,636.9 829.2,638.3 827.3,638.5C825.4,638.8 822.5,637.9 821.1,637.3C819.6,636.7 818.2,635.9 818.6,634.8Z" fill="#ff8214"/><path d="M811.1,642.3C812,642.1 815.3,644.6 817.3,644.8C819.4,645 821.1,643.9 823.6,643.5C826.1,643.1 829.6,642.9 832.3,642.3C835,641.7 837.3,640.3 839.8,639.8C842.2,639.3 844.7,639.2 847.2,639.2C849.7,639.2 852.6,640.1 854.7,639.8C856.8,639.5 857.6,638.3 859.7,637.3C861.7,636.3 865.5,633.8 867.1,633.6C868.8,633.4 870,634.8 869.6,636.1C869.2,637.3 866.3,639.6 864.7,641C863,642.5 861.7,643.9 859.7,644.8C857.6,645.6 854.7,645.4 852.2,646C849.7,646.6 847.2,647.9 844.7,648.5C842.2,649.1 839.8,649.6 837.3,649.8C834.8,649.9 832.3,648.9 829.8,649.1C827.3,649.3 824.6,650.9 822.3,651C820,651.1 817.8,650.6 816.1,649.8C814.4,648.9 813.2,647.3 812.4,646C811.5,644.8 810.3,642.5 811.1,642.3Z" fill="#ff8214"/><path d="M826.1,658.5C826.7,657.4 829.6,657.4 832.3,657.2C835,657 838.9,657.4 842.2,657.2C845.6,657 848.9,656.4 852.2,656C855.5,655.6 858.8,655.4 862.2,654.7C865.5,654.1 869.2,653.3 872.1,652.2C875,651.2 877.1,649.5 879.6,648.5C882.1,647.5 885,646.2 887.1,646C889.1,645.8 891.6,646.2 892,647.3C892.5,648.3 890.8,650.6 889.5,652.2C888.3,653.9 886.6,655.8 884.6,657.2C882.5,658.7 879.6,660.1 877.1,661C874.6,661.8 872.1,661.6 869.6,662.2C867.1,662.8 864.2,663.9 862.2,664.7C860.1,665.5 859.3,666.4 857.2,667.2C855.1,668 852.2,669 849.7,669.7C847.2,670.3 844.3,669.9 842.2,670.9C840.2,672 838.7,674.9 837.3,675.9C835.8,676.9 833.9,678 833.5,677.1C833.1,676.3 835,672.8 834.8,670.9C834.6,669 833.3,667.2 832.3,665.9C831.2,664.7 829.6,664.7 828.5,663.4C827.5,662.2 825.4,659.5 826.1,658.5Z" fill="#ff8214"/><path d="M862.2,674.7C863,673.6 867.1,672.2 869.6,670.9C872.1,669.7 874.6,668.4 877.1,667.2C879.6,665.9 882.7,664.5 884.6,663.4C886.4,662.4 887.9,660.7 888.3,661C888.7,661.2 888.5,663.2 887.1,664.7C885.6,666.1 882.1,668.2 879.6,669.7C877.1,671.1 874.6,672.2 872.1,673.4C869.6,674.7 866.3,676.9 864.7,677.1C863,677.3 861.3,675.7 862.2,674.7Z" fill="#ff8214"/><path d="M832.3,631.1 842.2,627.3 849.7,621.1 859.7,614.9" fill="none" stroke="#ffb3f6" stroke-width="1.3" stroke-linejoin="round" stroke-linecap="round"/><path d="M836,622.4 844.7,618.6 854.7,612.4" fill="none" stroke="#ffb3f6" stroke-width="1.3" stroke-linejoin="round" stroke-linecap="round"/><path d="M849.7,631.1 857.2,626.1 865.9,618.6" fill="none" stroke="#ffb3f6" stroke-width="1.3" stroke-linejoin="round" stroke-linecap="round"/><path d="M821.1,647.3 832.3,646 842.2,644.2 854.7,642.3" fill="none" stroke="#ffb3f6" stroke-width="1.3" stroke-linejoin="round" stroke-linecap="round"/><path d="M839.8,664.7 849.7,662.8 860.9,659.7 872.1,656" fill="none" stroke="#ffb3f6" stroke-width="1.3" stroke-linejoin="round" stroke-linecap="round"/><path d="M801.2,623.6 812.4,620.5 821.1,616.8" fill="none" stroke="#ffb3f6" stroke-width="1.3" stroke-linejoin="round" stroke-linecap="round"/><path d="M836,607.4 842.2,603.7 851,597.5" fill="none" stroke="#ffb3f6" stroke-width="1.3" stroke-linejoin="round" stroke-linecap="round"/><path d="M849.7,659.7 862.2,657.2" fill="none" stroke="#ffb3f6" stroke-width="1.3" stroke-linejoin="round" stroke-linecap="round"/><path d="M833.5,644.8 838.5,641" fill="none" stroke="#ffb3f6" stroke-width="1.3" stroke-linejoin="round" stroke-linecap="round"/><path d="M798.7,631.1 811.1,626.1 821.1,619.9 832.3,613.7 844.7,611.2 854.7,603.7 859.7,598.7" fill="none" stroke="#f6f03c" stroke-width="0.8" stroke-linejoin="round" stroke-linecap="round"/><path d="M829.8,632.3 839.8,627.3 849.7,622.4 859.7,617.4 869.6,612.4" fill="none" stroke="#f6f03c" stroke-width="0.8" stroke-linejoin="round" stroke-linecap="round"/><path d="M849.7,629.8 859.7,623.6 867.1,618.6" fill="none" stroke="#f6f03c" stroke-width="0.8" stroke-linejoin="round" stroke-linecap="round"/><path d="M817.3,648.5 829.8,646.6 839.8,644.8" fill="none" stroke="#f6f03c" stroke-width="0.8" stroke-linejoin="round" stroke-linecap="round"/><path d="M834.8,674.7 842.2,668.4 849.7,664.7 859.7,663.4" fill="none" stroke="#f6f03c" stroke-width="0.8" stroke-linejoin="round" stroke-linecap="round"/><path d="M869.6,627.3 878.3,624.9 883.3,621.1" fill="none" stroke="#f6f03c" stroke-width="0.8" stroke-linejoin="round" stroke-linecap="round"/><path d="M867.1,648.5 877.1,644.8 887.1,641" fill="none" stroke="#f6f03c" stroke-width="0.8" stroke-linejoin="round" stroke-linecap="round"/><path d="M821.1,597.5 827.3,593.7 833.5,591.2" fill="none" stroke="#f6f03c" stroke-width="0.8" stroke-linejoin="round" stroke-linecap="round"/><path d="M742.2,681.6C742.6,680.7 745.3,679.2 746.9,679.2C748.4,679.2 751,680.6 751.6,681.6C752.1,682.5 751.2,684.5 750,685C748.8,685.5 745.8,684.9 744.5,684.4C743.2,683.8 741.8,682.4 742.2,681.6Z" fill="#ff8214"/><path d="M731.2,690.9C732.7,690.2 737.2,689.5 740.6,689.4C744,689.2 750,689.5 751.6,690.2C753.1,690.8 752.1,692.5 750,693.3C747.9,694.1 742.1,694.8 739.1,694.8C736.1,694.9 733.3,694.4 732,693.8C730.7,693.1 729.8,691.7 731.2,690.9Z" fill="#ff8214"/><path d="M743.8,714.4 753.1,710.5 765.6,705.8" fill="none" stroke="#ff8214" stroke-width="1.8" stroke-linejoin="round" stroke-linecap="round"/><path d="M749.2,647.2C749.2,645.4 750.4,642.8 751.6,640.9C752.7,639.1 754.4,637.2 756.2,636.2C758.1,635.3 760.9,634.9 762.5,635.5C764.1,636 764.3,638.2 765.6,639.4C766.9,640.5 769.1,640.9 770.3,642.5C771.5,644.1 772.1,646.9 772.7,648.8C773.2,650.6 774.1,651.9 773.4,653.4C772.8,655 770.6,657.5 768.8,658.1C766.9,658.8 764.3,658.1 762.5,657.3C760.7,656.6 759.6,654.3 757.8,653.4C756,652.5 753,652.9 751.6,651.9C750.1,650.8 749.2,649 749.2,647.2Z" fill="#fb1414"/><path d="M778.1,659.7C778.4,658 779.8,655.5 781.2,655C782.7,654.5 785.2,655.8 786.7,656.6C788.3,657.3 790.2,658.4 790.6,659.7C791,661 790.1,663.3 789.1,664.4C788,665.4 785.9,665.8 784.4,665.9C782.8,666.1 780.7,666.2 779.7,665.2C778.6,664.1 777.9,661.4 778.1,659.7Z" fill="#fb1414"/><path d="M792.2,648.8C792.6,646.9 793.8,643.9 795.3,642.5C796.9,641.1 799.5,640.4 801.6,640.2C803.6,639.9 806.2,640 807.8,640.9C809.4,641.8 809.9,644.1 810.9,645.6C812,647.2 813.3,648.5 814.1,650.3C814.8,652.1 814.3,655.3 815.6,656.6C816.9,657.9 820.1,657.3 821.9,658.1C823.7,658.9 825.3,659.7 826.6,661.2C827.9,662.8 829,665.4 829.7,667.5C830.3,669.6 831,671.7 830.5,673.8C829.9,675.8 827.7,678.2 826.6,680C825.4,681.8 824.7,684.2 823.4,684.7C822.1,685.2 820.1,684.4 818.8,683.1C817.4,681.8 816.7,679 815.6,676.9C814.6,674.8 813.8,672.7 812.5,670.6C811.2,668.5 809.4,666.2 807.8,664.4C806.2,662.6 804.9,661 803.1,659.7C801.3,658.4 798.6,657.6 796.9,656.6C795.2,655.5 793.8,654.7 793,653.4C792.2,652.1 791.8,650.6 792.2,648.8Z" fill="#fb1414"/><path d="M765.6,678.4C765.9,677.1 768.5,675.6 770.3,675.3C772.1,675.1 774.5,676.1 776.6,676.9C778.6,677.7 780.7,679.3 782.8,680C784.9,680.7 787,680.8 789.1,680.8C791.1,680.8 793.2,680.4 795.3,680C797.4,679.6 799.5,679.2 801.6,678.4C803.6,677.7 807,674.8 807.8,675.3C808.6,675.8 807.6,679.7 806.2,681.6C804.9,683.4 802.1,685.2 800,686.2C797.9,687.3 795.8,687.3 793.8,687.8C791.7,688.3 789.6,689 787.5,689.4C785.4,689.8 783.3,690.4 781.2,690.2C779.2,689.9 777.1,689 775,687.8C772.9,686.6 770.3,684.7 768.8,683.1C767.2,681.6 765.4,679.7 765.6,678.4Z" fill="#fb1414"/><path d="M792.2,631.6C793,630.5 795.8,629.5 796.9,630C797.9,630.5 798.7,633.3 798.4,634.7C798.2,636.1 796.4,638.3 795.3,638.6C794.3,638.9 792.7,637.4 792.2,636.2C791.7,635.1 791.4,632.6 792.2,631.6Z" fill="#fb1414"/><path d="M753.9,641.7C754,640.8 755.7,639.2 757,638.6C758.3,638 760.5,637.7 761.7,638.1C762.9,638.5 764.2,640.1 764.1,640.9C763.9,641.8 762.2,642.8 760.9,643.3C759.6,643.8 757.4,644.3 756.2,644.1C755.1,643.8 753.8,642.6 753.9,641.7Z" fill="#ffb3f6"/><path d="M751.6,598C751.6,596.5 753.4,593.7 754.7,593.3C756,592.9 757.6,594.7 759.4,595.6C761.2,596.5 763.5,598.6 765.6,598.8C767.7,598.9 770.6,596.1 771.9,596.4C773.2,596.7 774,599.1 773.4,600.3C772.9,601.5 770.8,602.8 768.8,603.4C766.7,604.1 763.3,604.5 760.9,604.2C758.6,604 756.2,602.9 754.7,601.9C753.1,600.8 751.6,599.4 751.6,598Z" fill="#38b6f3"/><path d="M764.8,617.5C765.6,616.1 767.8,614.9 769.5,613.6C771.2,612.3 773.3,610.1 775,609.7C776.7,609.3 778.4,610.2 779.7,611.2C781,612.3 782.6,614.4 782.8,615.9C783.1,617.5 782.3,619.1 781.2,620.6C780.2,622.2 778.1,624 776.6,625.3C775,626.6 773.4,628.3 771.9,628.4C770.3,628.6 768.4,627.1 767.2,626.1C766,625.1 765.2,623.6 764.8,622.2C764.5,620.8 764.1,618.9 764.8,617.5Z" fill="#38b6f3"/><path d="M773.4,648.8C774.1,647.3 776.3,645.9 778.1,645.6C779.9,645.4 782.8,646.1 784.4,647.2C785.9,648.2 787.5,650.3 787.5,651.9C787.5,653.4 785.9,655.7 784.4,656.6C782.8,657.5 779.8,657.7 778.1,657.3C776.4,657 775,655.7 774.2,654.2C773.4,652.8 772.8,650.2 773.4,648.8Z" fill="#38b6f3"/><path d="M790.6,662.8C791.1,661.4 795.1,660.9 796.9,661.2C798.7,661.6 801,663.9 801.6,665.2C802.1,666.5 801.3,668.3 800,669.1C798.7,669.8 795.3,670.9 793.8,669.8C792.2,668.8 790.1,664.2 790.6,662.8Z" fill="#38b6f3"/><path d="M793.8,672.5C794.4,671.7 798.7,671.4 800,671.9C801.3,672.4 802.2,674.8 801.6,675.6C800.9,676.5 797.4,677.4 796.1,676.9C794.8,676.4 793.1,673.3 793.8,672.5Z" fill="#38b6f3"/><path d="M730.5,625.6C731,625 733.9,624.6 734.7,625C735.5,625.4 735.9,627.5 735.3,628.1C734.7,628.8 732.1,629.2 731.2,628.8C730.4,628.3 729.9,626.2 730.5,625.6Z" fill="#38b6f3"/><path d="M809.4,652.7C810,651.8 813.8,651 814.8,651.6C815.9,652.1 816.5,654.9 815.9,655.8C815.3,656.7 812.3,657.4 811.2,656.9C810.2,656.4 808.8,653.5 809.4,652.7Z" fill="#38b6f3"/><path d="M729.7,581.2C730.1,580.4 732.4,580.2 733.1,580.8C733.8,581.4 734.2,584.2 733.8,585C733.3,585.8 731.1,586.2 730.5,585.6C729.8,585 729.2,582.1 729.7,581.2Z" fill="#38b6f3"/><path d="M723.4,586.2C724.2,585.2 727.6,584.4 729.7,584.7C731.8,584.9 733.9,586.2 735.9,587.8C738,589.4 740.9,591.7 742.2,594.1C743.5,596.4 744.3,600.3 743.8,601.9C743.2,603.4 740.8,604 739.1,603.4C737.4,602.9 735.4,600.1 733.6,598.8C731.8,597.4 729.6,596.9 728.1,595.6C726.7,594.3 725.8,592.5 725,590.9C724.2,589.4 722.7,587.3 723.4,586.2Z" fill="url(#tra)"/><path d="M728.9,589.4C729.2,588.6 731.5,588.5 732.8,589.4C734.1,590.3 735.8,593.2 736.7,594.8C737.6,596.5 738.5,599 738.3,599.5C738,600.1 736.3,598.9 735.2,598C734,597.1 732.3,595.5 731.2,594.1C730.2,592.6 728.6,590.2 728.9,589.4Z" fill="#ffb3f6"/><path d="M721.9,611.2C723,610.2 725.8,609.2 728.1,608.9C730.5,608.6 733.3,609.8 735.9,609.7C738.5,609.6 741.9,607.5 743.8,608.1C745.6,608.8 746.6,611.8 746.9,613.6C747.1,615.4 746.6,617.9 745.3,619.1C744,620.2 741.4,620.6 739.1,620.6C736.7,620.6 733.9,619.2 731.2,619.1C728.6,618.9 725.1,620.5 723.4,619.8C721.7,619.2 721.4,616.6 721.1,615.2C720.8,613.7 720.7,612.3 721.9,611.2Z" fill="url(#tra)"/><path d="M743.6,614.1C743.6,614.6 743.4,615.1 743.2,615.5C742.9,615.9 742.5,616.3 742.1,616.4C741.7,616.6 741.1,616.6 740.7,616.4C740.3,616.3 739.9,615.9 739.6,615.5C739.4,615.1 739.2,614.6 739.2,614.1C739.2,613.6 739.4,613 739.6,612.6C739.9,612.2 740.3,611.8 740.7,611.7C741.1,611.5 741.7,611.5 742.1,611.7C742.5,611.8 742.9,612.2 743.2,612.6C743.4,613 743.6,613.6 743.6,614.1Z" fill="#ffb3f6"/><path d="M725,613.6C725.5,612.7 729.8,611.7 731.2,612C732.7,612.4 734.1,614.8 733.6,615.6C733.1,616.5 729.6,617.5 728.1,617.2C726.7,616.8 724.5,614.5 725,613.6Z" fill="#ffb3f6"/><path d="M727.3,632.3 737.5,627.7 749.2,625.3" fill="none" stroke="#fb1414" stroke-width="2.2" stroke-linejoin="round" stroke-linecap="round"/><path d="M725,636.2 735.9,633.1 746.9,628.4" fill="none" stroke="#f6f03c" stroke-width="0.9" stroke-linejoin="round" stroke-linecap="round"/><path d="M728.1,630 739.1,630.8 748.4,626.9" fill="none" stroke="#fb1414" stroke-width="1.2" stroke-linejoin="round" stroke-linecap="round"/><path d="M723.4,642.5 734.4,640.9 740.6,644.1 746.9,651.9 754.7,655" fill="none" stroke="#f6f03c" stroke-width="0.9" stroke-linejoin="round" stroke-linecap="round"/><path d="M748.4,661.2 759.4,664.4 768.8,670.6 778.1,676.9 787.5,681.6 800,683.1" fill="none" stroke="#fb1414" stroke-width="1.8" stroke-linejoin="round" stroke-linecap="round"/><path d="M748.4,661.2 759.4,664.1 768.8,670.3 778.1,676.6 787.5,681.2 800,682.8" fill="none" stroke="#f6f03c" stroke-width="0.8" stroke-linejoin="round" stroke-linecap="round"/><path d="M737.5,647.2 743.8,652.7 751.6,656.6" fill="none" stroke="#0bea4e" stroke-width="1.4" stroke-linejoin="round" stroke-linecap="round"/><path d="M718.8,665.2 726.6,673.8 735.9,671.4 746.9,665.2" fill="none" stroke="#f6f03c" stroke-width="0.7" stroke-linejoin="round" stroke-linecap="round"/><path d="M765.6,705 773.4,698.8" fill="none" stroke="#f6f03c" stroke-width="1.4" stroke-linejoin="round" stroke-linecap="round"/><path d="M821.9,596.4 829.7,590.9 840.6,587 850,583.1" fill="none" stroke="#f6f03c" stroke-width="0.9" stroke-linejoin="round" stroke-linecap="round"/><path d="M800,631.6 812.5,625.3 825,619.1 837.5,611.2 850,603.4" fill="none" stroke="#f6f03c" stroke-width="0.8" stroke-linejoin="round" stroke-linecap="round"/><path d="M865,680C867.3,678 871,677.1 874.4,676.1C877.8,675.1 882.4,673.9 885.3,673.8C888.2,673.6 890,674.5 891.6,675.3C893.1,676.1 895.5,677.1 894.7,678.4C893.9,679.7 889.5,681.8 886.9,683.1C884.3,684.4 881.7,685.2 879.1,686.2C876.5,687.3 873.9,688.3 871.2,689.4C868.6,690.4 865.8,692 863.4,692.5C861.1,693 857.7,693.3 857.2,692.5C856.7,691.7 859,689.9 860.3,687.8C861.6,685.7 862.7,682 865,680Z" fill="#0bea4e"/><path d="M861.9,703.4C863.4,700.8 866.6,697.4 869.7,695.6C872.8,693.8 876.7,693.3 880.6,692.5C884.5,691.7 889.5,690.9 893.1,690.9C896.8,690.9 899.9,691.7 902.5,692.5C905.1,693.3 908.2,694.1 908.8,695.6C909.3,697.2 907.2,700.3 905.6,701.9C904.1,703.4 901.5,703.7 899.4,705C897.3,706.3 895.2,708.1 893.1,709.7C891,711.2 889.2,712.6 886.9,714.4C884.5,716.2 883,719.6 879.1,720.6C875.2,721.7 866.6,722.2 863.4,720.6C860.3,719.1 860.6,714.1 860.3,711.2C860.1,708.4 860.3,706 861.9,703.4Z" fill="#0bea4e"/><path d="M838.4,695.6C839.7,694.2 843.4,694.6 846.2,694.8C849.1,695.1 854.3,695.8 855.6,697.2C856.9,698.6 855.6,702.1 854.1,703.4C852.5,704.7 848.9,705 846.2,705C843.6,705 839.7,705 838.4,703.4C837.1,701.9 837.1,697.1 838.4,695.6Z" fill="#0bea4e"/><path d="M882.2,703.4C882.7,702.1 887.1,699.8 890,698.8C892.9,697.7 897.3,696.9 899.4,697.2C901.5,697.4 903.3,699.3 902.5,700.3C901.7,701.4 897.3,702.4 894.7,703.4C892.1,704.5 889,706.6 886.9,706.6C884.8,706.6 881.7,704.7 882.2,703.4Z" fill="#ffb3f6"/><path d="M886.9,627.7C887.6,626.8 890.5,626.2 891.6,626.6C892.7,627 893.6,629 893.4,630C893.3,631 891.8,632.6 890.8,632.8C889.8,633.1 888,632.4 887.3,631.6C886.7,630.7 886.2,628.5 886.9,627.7Z" fill="#38b6f3"/><path d="M900.2,626.1C900.5,625.3 902.6,624.9 903.3,625.3C903.9,625.8 904.4,627.9 904.1,628.8C903.7,629.6 901.9,630.8 901.2,630.3C900.6,629.9 899.8,626.9 900.2,626.1Z" fill="#38b6f3"/><path d="M930.6,665.2C930.9,664.4 933.3,664 934.1,664.4C934.8,664.8 935.6,666.7 935.3,667.5C935.1,668.3 933.3,669.5 932.5,669.1C931.7,668.7 930.4,665.9 930.6,665.2Z" fill="#38b6f3"/><path d="M897.8,645.6 908.8,639.4 916.6,642.5" fill="none" stroke="#f6f03c" stroke-width="0.8" stroke-linejoin="round" stroke-linecap="round"/><path d="M896.2,662.8 907.2,653.4 913.4,648.8" fill="none" stroke="#f6f03c" stroke-width="0.8" stroke-linejoin="round" stroke-linecap="round"/><path d="M916.6,667.5 927.5,664.4" fill="none" stroke="#f6f03c" stroke-width="0.8" stroke-linejoin="round" stroke-linecap="round"/><path d="M893.1,686.2 902.5,673.8 908.8,661.2" fill="none" stroke="#f6f03c" stroke-width="0.8" stroke-linejoin="round" stroke-linecap="round"/><path d="M933.8,689.4 940,675.3" fill="none" stroke="#f6f03c" stroke-width="0.8" stroke-linejoin="round" stroke-linecap="round"/><path d="M949.4,703.4 955.6,695.6" fill="none" stroke="#f6f03c" stroke-width="0.8" stroke-linejoin="round" stroke-linecap="round"/><path d="M843.1,595.6 857.2,589.4 863.4,597.2" fill="none" stroke="#f6f03c" stroke-width="0.8" stroke-linejoin="round" stroke-linecap="round"/><path d="M849.4,619.1 863.4,612.8 875.9,606.6" fill="none" stroke="#f6f03c" stroke-width="0.8" stroke-linejoin="round" stroke-linecap="round"/><path d="M855.6,634.7 871.2,626.9 885.3,622.2" fill="none" stroke="#f6f03c" stroke-width="0.8" stroke-linejoin="round" stroke-linecap="round"/><path d="M775,721.9C775.4,720.4 777.9,720.1 778.9,721.1C779.9,722.1 780.5,725.9 781.2,728.1C782,730.3 783.6,732 783.6,734.4C783.6,736.7 781.8,739.3 781.2,742.2C780.7,745.1 781.1,749.7 780.5,751.6C779.8,753.4 778.3,754.2 777.3,753.1C776.4,752.1 775.4,748.2 775,745.3C774.6,742.4 774.4,738.5 774.7,735.9C774.9,733.3 776.5,732 776.6,729.7C776.6,727.3 774.6,723.3 775,721.9Z" fill="#ff8214"/><path d="M795.3,753.1C795.8,751.8 797.9,751.1 799.2,751.2C800.5,751.4 802.3,752.4 803.1,753.9C803.9,755.4 804.4,758.7 803.9,760.2C803.4,761.6 801.3,762.6 800,762.5C798.7,762.4 796.9,760.9 796.1,759.4C795.3,757.8 794.8,754.5 795.3,753.1Z" fill="#ff8214"/><path d="M809.4,793.8C810,791.9 812.2,788.9 814.1,787.5C815.9,786.1 818.6,785.2 820.3,785.2C822,785.2 823.4,786.1 824.2,787.5C825,788.9 824.5,793.8 825,793.8C825.5,793.8 826.8,789.6 827.3,787.5C827.9,785.4 827.2,782.6 828.1,781.2C829,779.9 831.2,779.4 832.8,779.7C834.4,779.9 836.5,781 837.5,782.8C838.5,784.6 838.4,788.3 839.1,790.6C839.7,793 840,795.4 841.4,796.9C842.8,798.3 846.9,797.7 847.7,799.2C848.4,800.8 847,804 846.1,806.2C845.2,808.5 843.5,810.7 842.2,812.5C840.9,814.3 839.8,816.3 838.3,817.2C836.7,818.1 834.2,818.8 832.8,818C831.4,817.2 830.7,814.5 829.7,812.5C828.6,810.5 827.6,808.1 826.6,806.2C825.5,804.4 824.7,802.2 823.4,801.6C822.1,800.9 820.3,802.6 818.8,802.3C817.2,802.1 815.5,800.7 814.1,800C812.6,799.3 810.9,799.5 810.2,798.4C809.4,797.4 808.7,795.6 809.4,793.8Z" fill="#ff8214"/><path d="M800,781.2C800.5,779.7 803.1,780.7 804.7,779.7C806.2,778.6 807.8,776.3 809.4,775C810.9,773.7 812.5,773.2 814.1,771.9C815.6,770.6 817.3,767.7 818.8,767.2C820.2,766.7 822.5,767.4 822.7,768.8C822.8,770.1 820.7,773.2 819.5,775C818.4,776.8 816.8,778.1 815.6,779.7C814.5,781.2 813.5,782.6 812.5,784.4C811.5,786.2 810.7,789.1 809.4,790.6C808.1,792.2 806,794 804.7,793.8C803.4,793.5 802.3,791.1 801.6,789.1C800.8,787 799.5,782.8 800,781.2Z" fill="#fb1414"/><path d="M819.5,746.9 821.1,751.6 822.7,754.7 820.3,753.9Z" fill="#fb1414"/><path d="M759.4,753.1C759.1,751.8 761.5,749.9 762.5,748.4C763.5,747 764.3,745.1 765.6,744.5C766.9,744 768.8,744.7 770.3,745.3C771.8,746 774.2,747.1 774.7,748.4C775.2,749.7 774.4,752.1 773.4,753.1C772.4,754.2 770.3,754.2 768.8,754.7C767.2,755.2 765.6,756.5 764.1,756.2C762.5,756 759.6,754.4 759.4,753.1Z" fill="#38b6f3"/><path d="M764.1,737.5C764.3,736.8 766.4,736 767.2,736.2C768,736.5 769,738.4 768.8,739.1C768.5,739.7 766.4,740.6 765.6,740.3C764.8,740.1 763.8,738.2 764.1,737.5Z" fill="#38b6f3"/><path d="M768.8,737.5C769.1,736.9 771.5,736 772.2,736.2C772.9,736.5 773.5,738.4 773.1,739.1C772.8,739.7 770.7,740.3 770,740C769.3,739.7 768.4,738.1 768.8,737.5Z" fill="#38b6f3"/><path d="M781.2,737.5C781.6,736.5 783.7,736.1 784.4,736.7C785,737.4 785.5,740.4 785.2,741.4C784.8,742.4 782.7,743.6 782,743C781.4,742.3 780.9,738.5 781.2,737.5Z" fill="#38b6f3"/><path d="M764.8,726.6C765.1,725.5 766.5,724.7 766.9,725.8C767.3,726.8 767.4,731.8 767.2,732.8C766.9,733.9 765.7,733.1 765.3,732C764.9,731 764.6,727.6 764.8,726.6Z" fill="#38b6f3"/><path d="M782.8,760.9C783.1,760.3 785.6,759.6 786.7,760.2C787.8,760.7 788.9,762.9 789.4,764.1C789.9,765.2 790.5,766.9 789.8,766.9C789.1,766.9 786.3,765.1 785.2,764.1C784,763.1 782.6,761.6 782.8,760.9Z" fill="#38b6f3"/><path d="M789.8,786.7C790.2,785.3 792.3,783.3 793.8,782.8C795.2,782.3 797.4,782.6 798.4,783.6C799.4,784.6 800.1,787.6 799.7,789.1C799.3,790.5 797.5,791.8 796.1,792.2C794.7,792.6 792.4,792.3 791.4,791.4C790.4,790.5 789.5,788.2 789.8,786.7Z" fill="#38b6f3"/><path d="M812.5,751.6C813.2,749.9 816,746.9 817.2,746.9C818.4,746.9 819.5,749.7 819.5,751.6C819.5,753.4 818.2,756.9 817.2,757.8C816.1,758.7 814.1,758.1 813.3,757C812.5,756 811.8,753.3 812.5,751.6Z" fill="#38b6f3"/><path d="M842.2,728.9C842.3,727.6 846,727 847.7,727.3C849.3,727.7 851.7,729.7 852.3,731.2C853,732.8 852.5,736.1 851.6,736.7C850.7,737.4 848.4,736.5 846.9,735.2C845.3,733.9 842.1,730.2 842.2,728.9Z" fill="#38b6f3"/><path d="M854.7,725C855.1,723.4 857.6,723.2 858.6,724.2C859.6,725.3 861.3,729.7 860.9,731.2C860.5,732.8 857.3,734.6 856.2,733.6C855.2,732.6 854.3,726.6 854.7,725Z" fill="#38b6f3"/><path d="M853.9,737.5C854.2,736.6 856.2,736.1 857,736.7C857.8,737.4 858.9,740.5 858.6,741.4C858.3,742.3 856.2,742.8 855.5,742.2C854.7,741.5 853.6,738.4 853.9,737.5Z" fill="#38b6f3"/><path d="M800.8,771.9C801.1,771.5 802.7,771.2 803.1,771.6C803.6,771.9 803.8,773.3 803.4,773.8C803.1,774.2 801.7,774.4 801.2,774.1C800.8,773.8 800.5,772.3 800.8,771.9Z" fill="#38b6f3"/><path d="M743.8,715.6 753.1,711.7 765.6,706.2" fill="none" stroke="#ff8214" stroke-width="2.2" stroke-linejoin="round" stroke-linecap="round"/><path d="M740.6,719.5 751.6,713.3 766.4,706.2" fill="none" stroke="#f6f03c" stroke-width="0.9" stroke-linejoin="round" stroke-linecap="round"/><path d="M767.2,768.8 771.9,757.8 778.1,750 779.7,728.1" fill="none" stroke="#f6f03c" stroke-width="0.9" stroke-linejoin="round" stroke-linecap="round"/><path d="M807.8,748.4 812.5,742.2 817.2,732.8" fill="none" stroke="#f6f03c" stroke-width="0.9" stroke-linejoin="round" stroke-linecap="round"/><path d="M807.8,756.2 815.6,751.6" fill="none" stroke="#f6f03c" stroke-width="0.9" stroke-linejoin="round" stroke-linecap="round"/><path d="M796.9,775 803.1,793.8 809.4,806.2" fill="none" stroke="#f6f03c" stroke-width="0.9" stroke-linejoin="round" stroke-linecap="round"/><path d="M850,821.9 854.7,812.5 853.9,801.6" fill="none" stroke="#f6f03c" stroke-width="0.9" stroke-linejoin="round" stroke-linecap="round"/><path d="M731.2,710.9 733.6,715.6" fill="none" stroke="#f6f03c" stroke-width="0.9" stroke-linejoin="round" stroke-linecap="round"/><path d="M839.1,707.8C839.6,706.5 844,702.9 846.9,701.6C849.7,700.3 855.2,699.5 856.2,700C857.3,700.5 855.2,703.1 853.1,704.7C851,706.2 846.1,708.9 843.8,709.4C841.4,709.9 838.5,709.1 839.1,707.8Z" fill="#0bea4e"/><path d="M862.7,698.4C866.3,696.6 879.2,698.4 886.9,698.4C894.6,698.4 903.5,697.1 908.8,698.4C914,699.7 917.3,703.4 918.1,706.2C918.9,709.1 915,712.8 913.4,715.6C911.9,718.5 910.6,721.6 908.8,723.4C906.9,725.3 905.4,726.8 902.5,726.9C899.6,726.9 895.5,724 891.6,723.8C887.7,723.5 883,726 879.1,725.3C875.2,724.6 870.5,722.2 868.1,719.5C865.8,716.9 865.9,712.9 865,709.4C864.1,705.9 859,700.3 862.7,698.4Z" fill="#0bea4e"/><path d="M865.8,720.3C866.6,719.8 869,721.7 871.2,722.7C873.5,723.6 876.5,724.9 879.1,725.8C881.7,726.7 884.5,728 886.9,728.1C889.2,728.3 891.8,726 893.1,726.6C894.4,727.1 895.7,730.1 894.7,731.2C893.6,732.4 889.5,732.9 886.9,733.6C884.3,734.2 880.9,735.5 879.1,735.2C877.2,734.8 877.5,732.2 875.9,731.2C874.4,730.3 871.2,730.6 869.7,729.7C868.1,728.8 867.2,727.3 866.6,725.8C865.9,724.2 865,720.8 865.8,720.3Z" fill="#fb1414"/><path d="M915,718.8C915.5,717.4 919.2,715.9 921.2,715.6C923.3,715.4 927,716.1 927.5,717.2C928,718.2 925.9,720.8 924.4,721.9C922.8,722.9 919.7,724 918.1,723.4C916.6,722.9 914.5,720.1 915,718.8Z" fill="#ff8214"/><path d="M924.4,723.4C925.4,722.7 931.1,721.9 933.8,721.9C936.4,721.9 939.5,722.7 940,723.4C940.5,724.2 939,726 936.9,726.6C934.8,727.1 929.6,727.1 927.5,726.6C925.4,726 923.3,724.2 924.4,723.4Z" fill="#ff8214"/><path d="M919.7,737.5C919.9,735.9 922.6,734 924.4,732.8C926.2,731.6 928.5,730.7 930.6,730.5C932.7,730.2 934.8,730.6 936.9,731.2C939,731.9 941,734 943.1,734.4C945.2,734.8 947.3,733.3 949.4,733.6C951.5,733.9 954.2,734.5 955.6,735.9C957.1,737.4 958,740.4 958,742.2C958,744 957.1,745.6 955.6,746.9C954.2,748.2 951.2,749.7 949.4,750C947.6,750.3 944.9,749.5 944.7,748.4C944.4,747.4 947.8,745.1 947.8,743.8C947.8,742.4 946.2,741.3 944.7,740.6C943.1,740 940.5,739.7 938.4,739.8C936.4,740 934,740.8 932.2,741.4C930.4,742.1 929.1,743.6 927.5,743.8C925.9,743.9 924.1,743.2 922.8,742.2C921.5,741.1 919.4,739.1 919.7,737.5Z" fill="#ff8214"/><path d="M936.9,739.1C937.9,737.8 943.1,736.1 946.2,735.2C949.4,734.2 954.3,732.7 955.6,733.6C956.9,734.5 955.6,739.1 954.1,740.6C952.5,742.2 948.6,742.6 946.2,743C943.9,743.4 941.6,743.6 940,743C938.4,742.3 935.8,740.4 936.9,739.1Z" fill="url(#hat)"/><path d="M902.5,729.7C903.3,728.5 907.7,727.1 908.8,728.1C909.8,729.2 909.5,734.8 908.8,735.9C908,737.1 905.1,736.2 904.1,735.2C903,734.1 901.7,730.9 902.5,729.7Z" fill="url(#hat)"/><path d="M904.1,755.5C904.5,753.9 907.1,753.3 908.8,753.1C910.4,753 913.2,753.4 914.2,754.7C915.3,756 915.5,759.2 915,760.9C914.5,762.6 912.5,764.6 911.1,764.8C909.7,765.1 907.6,764.1 906.4,762.5C905.2,760.9 903.7,757 904.1,755.5Z" fill="#38b6f3"/><path d="M843.1,728.9C843.5,727.7 846.4,727 847.8,727.3C849.2,727.7 851.5,729.7 851.7,731.2C852,732.8 850.4,736.2 849.4,736.7C848.3,737.2 846.5,735.7 845.5,734.4C844.4,733.1 842.7,730.1 843.1,728.9Z" fill="#38b6f3"/><path d="M854.8,725C855.1,723.2 857.7,722.9 858.8,724.2C859.8,725.5 861.4,731 861.1,732.8C860.8,734.6 858.2,736.5 857.2,735.2C856.1,733.9 854.6,726.8 854.8,725Z" fill="#38b6f3"/><path d="M854.1,738.3C854.5,737.5 856.5,736.5 857.2,737.2C857.9,737.8 858.8,741.4 858.4,742.2C858,743 855.6,742.5 854.8,741.9C854.1,741.2 853.7,739.1 854.1,738.3Z" fill="#38b6f3"/><path d="M936.1,749.7C936.6,749 939.2,748.8 940,749.2C940.8,749.7 941.2,751.7 940.8,752.3C940.3,753 938,753.6 937.2,753.1C936.4,752.7 935.6,750.3 936.1,749.7Z" fill="#38b6f3"/><path d="M897.8,817.2C898.2,816.1 900.7,815.4 902.5,815.6C904.3,815.9 907.4,817.4 908.8,818.8C910.1,820.1 911,822.4 910.3,823.4C909.7,824.5 906.5,825.3 904.8,825C903.2,824.7 901.3,823.2 900.2,821.9C899,820.6 897.4,818.2 897.8,817.2Z" fill="#38b6f3"/><path d="M890,806.2C890.8,804.9 893,803.4 894.7,803.1C896.4,802.9 898.9,803.4 900.2,804.7C901.5,806 902.6,809 902.5,810.9C902.4,812.9 900.9,815.8 899.4,816.4C897.8,817.1 894.7,815.8 893.1,814.8C891.5,813.9 890.2,812.4 889.7,810.9C889.2,809.5 889.2,807.6 890,806.2Z" fill="#ff8214"/><path d="M838.4,793.8C839.5,790.9 843.9,795.8 844.7,798.4C845.5,801 844.2,806.5 843.1,809.4C842.1,812.2 839.2,818.2 838.4,815.6C837.7,813 837.4,796.6 838.4,793.8Z" fill="#ff8214"/><path d="M871.2,818.8C872.2,817.2 875.9,815.1 877.5,815.6C879.1,816.1 880.9,820.1 880.6,821.9C880.4,823.7 877.4,826 875.9,826.6C874.5,827.1 872.8,826.3 872,825C871.2,823.7 870.3,820.3 871.2,818.8Z" fill="#ff8214"/><path d="M950.9,753.9 960.3,753.1 969.7,750.8 973.6,750" fill="none" stroke="#fb1414" stroke-width="1.6" stroke-linejoin="round" stroke-linecap="round"/><path d="M932.2,758.6 940,761.7 949.4,764.1 955.6,768.8 960.3,773.4" fill="none" stroke="#fb1414" stroke-width="3.2" stroke-linejoin="round" stroke-linecap="round"/><path d="M921.2,763.3 927.5,765.6 933.8,773.4 941.6,779.7 947.8,781.2" fill="none" stroke="#fb1414" stroke-width="2.7" stroke-linejoin="round" stroke-linecap="round"/><path d="M899.4,757.8 901.7,765.6 899.4,773.4" fill="none" stroke="#fb1414" stroke-width="3.2" stroke-linejoin="round" stroke-linecap="round"/><path d="M886.9,767.2 894.7,768.8 900.9,771.1" fill="none" stroke="#fb1414" stroke-width="1.1" stroke-linejoin="round" stroke-linecap="round"/><path d="M915,778.1 921.2,782.8 927.5,784.4" fill="none" stroke="#fb1414" stroke-width="1.6" stroke-linejoin="round" stroke-linecap="round"/><path d="M882.2,787.5 891.6,792.2 902.5,793.8 910.3,800 918.1,804.7 922.8,809.4" fill="none" stroke="#fb1414" stroke-width="3.7" stroke-linejoin="round" stroke-linecap="round"/><path d="M893.1,789.1 905.6,789.1 908.8,796.9" fill="none" stroke="#fb1414" stroke-width="2.1" stroke-linejoin="round" stroke-linecap="round"/><path d="M908.8,800 915,809.4 921.2,812.5 924.4,807.8" fill="none" stroke="#fb1414" stroke-width="5.3" stroke-linejoin="round" stroke-linecap="round"/><path d="M902.5,803.1 908.8,809.4 907.2,818.8" fill="none" stroke="#fb1414" stroke-width="2.7" stroke-linejoin="round" stroke-linecap="round"/><path d="M924.4,793.8 929.1,800 933.8,809.4" fill="none" stroke="#fb1414" stroke-width="2.1" stroke-linejoin="round" stroke-linecap="round"/><path d="M869.7,796.9 874.4,803.1 879.1,809.4 880.6,818.8" fill="none" stroke="#fb1414" stroke-width="2.7" stroke-linejoin="round" stroke-linecap="round"/><path d="M927.5,787.5 932.2,792.2" fill="none" stroke="#fb1414" stroke-width="1.6" stroke-linejoin="round" stroke-linecap="round"/><path d="M944.7,789.8 949.4,789.1" fill="none" stroke="#fb1414" stroke-width="1.1" stroke-linejoin="round" stroke-linecap="round"/><path d="M890,743.8 892.3,746.9" fill="none" stroke="#fb1414" stroke-width="1.6" stroke-linejoin="round" stroke-linecap="round"/><path d="M940,781.2 946.2,787.5" fill="none" stroke="#fb1414" stroke-width="1.6" stroke-linejoin="round" stroke-linecap="round"/><path d="M913.4,771.9 915,773.4" fill="none" stroke="#fb1414" stroke-width="1.1" stroke-linejoin="round" stroke-linecap="round"/><path d="M933.8,759.4 943.1,760.2 952.5,764.1 958.8,767.2" fill="none" stroke="#fb1414" stroke-width="1.9" stroke-linejoin="round" stroke-linecap="round"/><path d="M936.9,767.2 946.2,770.3 954.1,775" fill="none" stroke="#fb1414" stroke-width="1.5" stroke-linejoin="round" stroke-linecap="round"/><path d="M927.5,767.2 932.2,775 940,778.1" fill="none" stroke="#fb1414" stroke-width="1.5" stroke-linejoin="round" stroke-linecap="round"/><path d="M918.1,773.4 922.8,781.2 930.6,785.2" fill="none" stroke="#fb1414" stroke-width="1.5" stroke-linejoin="round" stroke-linecap="round"/><path d="M896.2,759.4 897.8,768.8 902.5,778.1 908.8,787.5" fill="none" stroke="#fb1414" stroke-width="1.5" stroke-linejoin="round" stroke-linecap="round"/><path d="M905.6,781.2 910.3,790.6 918.1,796.9 922.8,801.6" fill="none" stroke="#fb1414" stroke-width="1.9" stroke-linejoin="round" stroke-linecap="round"/><path d="M891.6,796.9 900.9,800 910.3,806.2" fill="none" stroke="#fb1414" stroke-width="1.9" stroke-linejoin="round" stroke-linecap="round"/><path d="M913.4,793.8 918.1,801.6 922.8,807.8" fill="none" stroke="#fb1414" stroke-width="2.2" stroke-linejoin="round" stroke-linecap="round"/><path d="M927.5,796.9 930.6,806.2 932.2,812.5" fill="none" stroke="#fb1414" stroke-width="1.5" stroke-linejoin="round" stroke-linecap="round"/><path d="M877.5,754.7 886.9,756.2" fill="none" stroke="#fb1414" stroke-width="0.8" stroke-linejoin="round" stroke-linecap="round"/><path d="M871.2,800 877.5,807.8" fill="none" stroke="#fb1414" stroke-width="2.2" stroke-linejoin="round" stroke-linecap="round"/><path d="M933.8,800 936.9,807.8" fill="none" stroke="#fb1414" stroke-width="1.1" stroke-linejoin="round" stroke-linecap="round"/><path d="M910.3,812.5 918.1,818.8 922.8,815.6" fill="none" stroke="#fb1414" stroke-width="1.9" stroke-linejoin="round" stroke-linecap="round"/><path d="M868.1,723.4 880.6,729.7 891.6,728.9" fill="none" stroke="#fb1414" stroke-width="1.9" stroke-linejoin="round" stroke-linecap="round"/><path d="M866.6,731.2 874.4,733.6" fill="none" stroke="#fb1414" stroke-width="1.5" stroke-linejoin="round" stroke-linecap="round"/><path d="M880.6,779.7 883.8,790.6 890,796.9 899.4,801.6" fill="none" stroke="#f6f03c" stroke-width="1" stroke-linejoin="round" stroke-linecap="round"/><path d="M868.1,795.3 871.2,806.2 869.7,815.6 866.6,821.9" fill="none" stroke="#f6f03c" stroke-width="1" stroke-linejoin="round" stroke-linecap="round"/><path d="M854.1,801.6 854.8,812.5 850.9,821.9" fill="none" stroke="#f6f03c" stroke-width="1" stroke-linejoin="round" stroke-linecap="round"/><path d="M958.8,767.2 965,771.9 965,784.4" fill="none" stroke="#f6f03c" stroke-width="1" stroke-linejoin="round" stroke-linecap="round"/><path d="M924.4,809.4 927.5,815.6 924.4,821.9" fill="none" stroke="#f6f03c" stroke-width="1" stroke-linejoin="round" stroke-linecap="round"/><path d="M886.9,800 883.8,809.4 886.9,818.8" fill="none" stroke="#f6f03c" stroke-width="1" stroke-linejoin="round" stroke-linecap="round"/><path d="M933.8,715.6 946.2,706.2 958.8,700" fill="none" stroke="#f6f03c" stroke-width="1" stroke-linejoin="round" stroke-linecap="round"/><path d="M949.4,725 958.8,715.6 969.7,718.8" fill="none" stroke="#f6f03c" stroke-width="1" stroke-linejoin="round" stroke-linecap="round"/><path d="M979.1,731.2 982.2,739.1" fill="none" stroke="#f6f03c" stroke-width="1" stroke-linejoin="round" stroke-linecap="round"/><path d="M977.5,753.1 985.3,746.9" fill="none" stroke="#f6f03c" stroke-width="1" stroke-linejoin="round" stroke-linecap="round"/><path d="M905.6,812.5 913.4,818.8 918.1,825" fill="none" stroke="#f6f03c" stroke-width="1" stroke-linejoin="round" stroke-linecap="round"/></g>
<path d="M728.4,496.3 765.6,512.5 781.3,528.9 800,540.6 811.7,549.2 820.3,557.8 832.8,567.2 846.3,580 860.3,597.2 882.2,630M731.3,500 738.3,526.6 756.3,542.2 759.4,559.4 771.9,568.8 775,580 778.1,596.4 770.3,613.6 785.2,620.6 790.6,642.5 789.8,655 815.6,680 823.4,687.8 832.8,689.4M791.4,645.6 795.3,640.2 800,633.9 818.8,630 825,613.6 845.3,608.9 860.3,597.2M890,634.7 901.7,631.3 915,648 915,656.6 909.5,673.8 911.1,686.3 925.9,691.7 918.1,709.7 913.4,721.9 910.3,739 913.4,746.9 909.5,773.4 921.3,800 925.2,825M915,648 908.8,661.3 897.8,673.8 885.3,683.1 866.6,691.7 854.8,694.8 840.6,692.5 832.8,689.4M866.6,691.7 870.5,698.8 867.3,717.2 886.9,729.7 908.8,739" fill="none" stroke="#fb0d1c" stroke-width="1.85" stroke-linejoin="round"/><path d="M880.9,762.8 888.4,782.8 905.6,796.9 921.3,803" fill="none" stroke="#f4101c" stroke-width="0.7"/><g transform="translate(947.8,800) rotate(20)" fill="#111"><path d="M-0.9,-8h1.8v5.5l7,3.8v1.7l-7,-2v4.2l2.4,1.7v1.3l-3.3,-0.9l-3.3,0.9v-1.3l2.4,-1.7v-4.2l-7,2v-1.7l7,-3.8z"/></g><circle cx="728.4" cy="496.2" r="5.2" fill="#fff" stroke="#000" stroke-width="2.2"/><circle cx="813.6" cy="555.8" r="5.2" fill="#fff" stroke="#000" stroke-width="2.2"/><circle cx="884.2" cy="637.3" r="5.2" fill="#fff" stroke="#000" stroke-width="2.2"/><circle cx="833.1" cy="689.4" r="5.2" fill="#fff" stroke="#000" stroke-width="2.2"/><circle cx="913.8" cy="728.1" r="5.2" fill="#fff" stroke="#000" stroke-width="2.2"/><circle cx="973.6" cy="731.3" r="5.2" fill="#fff" stroke="#000" stroke-width="2.2"/><circle cx="880.9" cy="762.8" r="5.2" fill="#fff" stroke="#000" stroke-width="2.2"/><circle cx="935" cy="818.8" r="5.2" fill="#fff" stroke="#000" stroke-width="2.2"/><g font-size="12.95" font-weight="bold" fill="#111"><text x="708.8" y="485.4">Tarrafal</text><text x="759.2" y="578.4">Porto Formoso</text><text x="844.2" y="655">Stª Cruz</text><text x="750.6" y="694">Assomada</text><text x="846.8" y="714.4">S. Domingos</text><text x="960" y="704.2">Praia</text><text x="960" y="717.3">Baixo</text><text x="798.2" y="767.2">João Varela</text><text x="927" y="843.4" font-size="14.8">Praia</text></g>
<g font-size="7.83" fill="#111"><path d="M832.5,457.5L839.5,451.5L846,454.5" fill="none" stroke="#f4101c" stroke-width="1.2"/><text x="850.9" y="457.2" font-size="8.65">Main roads</text><circle cx="906.3" cy="454.6" r="2.6" fill="#fff" stroke="#000" stroke-width="1.2"/><text x="912.7" y="457.2" font-size="8.65">Main villages</text><rect x="832.1" y="462.4" width="16" height="7.5" fill="url(#hat)"/><text x="850.9" y="468.8">Quaternary formations (CC)</text><rect x="832.1" y="474.4" width="16" height="7.5" fill="#38b6f3"/><text x="850.9" y="480.7">Monte das Vacas Formation (MV)</text><rect x="832.1" y="486.3" width="16" height="7.5" fill="#b566fb"/><text x="850.9" y="492.7">Assomada Formation (AS)</text><rect x="832.1" y="498.3" width="16" height="7.5" fill="url(#tra)"/><text x="850.9" y="504.7">Pico da Antónia, trackyte-phonolitic (PA)</text><rect x="832.1" y="510.3" width="16" height="7.5" fill="#ffb3f6"/><text x="850.9" y="516.6">Pico da Antónia, basalt-basanitic (PA)</text><rect x="832.1" y="522.2" width="16" height="7.5" fill="#0bea4e"/><text x="850.9" y="528.6">Orgãos Formation (CB)</text><rect x="832.1" y="534.2" width="16" height="7.5" fill="#ff8214"/><text x="850.9" y="540.6">Flamengos Formation (FL)</text><rect x="832.1" y="546.2" width="16" height="7.5" fill="#fb1414"/><text x="850.9" y="552.5">Ancient Internal Eruptive Complex (CA)</text></g>
<g font-size="9.6" text-anchor="middle" fill="#111"><text x="38.1" y="880.2">200000</text><text x="75.7" y="880.2">205000</text><text x="111.2" y="880.2">210000</text><text x="150.9" y="880.2">215000</text><text x="188" y="880.2">220000</text><text x="224.7" y="880.2">225000</text><text x="261.5" y="880.2">230000</text><text x="301.3" y="880.2">235000</text><text x="335.5" y="880.2">240000</text></g><g font-size="9.6" text-anchor="middle" fill="#111"><text x="373" y="880.3">200000</text><text x="410.4" y="880.3">205000</text><text x="447.7" y="880.3">210000</text><text x="485.1" y="880.3">215000</text><text x="522.5" y="880.3">220000</text><text x="559.9" y="880.3">225000</text><text x="597.2" y="880.3">230000</text><text x="634.6" y="880.3">235000</text><text x="672" y="880.3">240000</text></g><g font-size="9.6" text-anchor="middle" fill="#111"><text x="707.6" y="880.3">200000</text><text x="744.9" y="880.3">205000</text><text x="782.2" y="880.3">210000</text><text x="819.5" y="880.3">215000</text><text x="856.8" y="880.3">220000</text><text x="894.1" y="880.3">225000</text><text x="931.4" y="880.3">230000</text><text x="968.7" y="880.3">235000</text><text x="1006" y="880.3">240000</text></g>
</svg>
</body></html>
